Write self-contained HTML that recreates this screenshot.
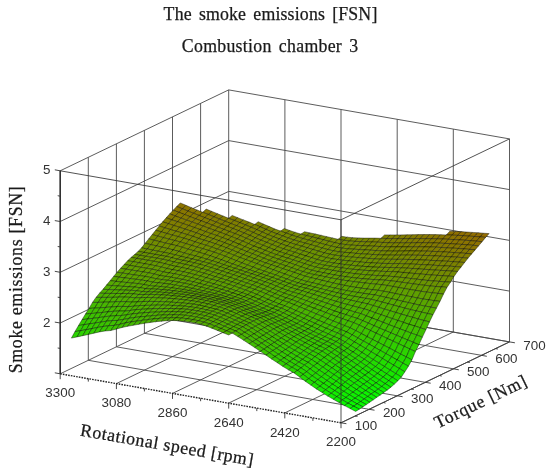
<!DOCTYPE html>
<html><head><meta charset="utf-8"><title>The smoke emissions [FSN]</title>
<style>html,body{margin:0;padding:0;background:#fff}svg{display:block;filter:blur(0.5px)}</style></head>
<body>
<svg width="550" height="476" viewBox="0 0 550 476">
<rect width="550" height="476" fill="#fff"/>
<path d="M60.2,373.8 L60.2,170.8 M88.3,360.3 L88.3,157.3 M116.4,346.8 L116.4,143.8 M144.4,333.3 L144.4,130.3 M172.5,319.8 L172.5,116.9 M200.6,306.3 L200.6,103.4 M228.7,292.9 L228.7,89.9 M60.2,373.8 L228.7,292.9 M60.2,323.0 L228.7,242.1 M60.2,272.3 L228.7,191.4 M60.2,221.5 L228.7,140.6 M60.2,170.8 L228.7,89.9 M284.9,302.6 L284.9,99.7 M341.0,312.5 L341.0,109.5 M397.2,322.2 L397.2,119.3 M453.3,332.0 L453.3,129.1 M509.5,341.9 L509.5,138.9 M228.7,292.9 L509.5,341.9 M228.7,242.1 L509.5,291.1 M228.7,191.4 L509.5,240.4 M228.7,140.6 L509.5,189.6 M228.7,89.9 L509.5,138.9 M88.3,360.3 L369.1,409.3 M116.4,346.8 L397.2,395.8 M144.4,333.3 L425.2,382.3 M172.5,319.8 L453.3,368.8 M200.6,306.3 L481.4,355.3 M228.7,292.9 L509.5,341.9 M116.4,383.6 L284.9,302.6 M172.5,393.4 L341.0,312.5 M228.7,403.1 L397.2,322.2 M284.8,412.9 L453.3,332.0 M341.0,422.8 L509.5,341.9" stroke="#4a4a4a" stroke-width="0.9" fill="none"/>
<g stroke="#000" stroke-width="1" stroke-opacity="0.4" stroke-linejoin="round"><path d="M176.7,206.5 L182.4,208.8 L185.9,205.3 L180.3,202.9Z" fill="#8c7300"/><path d="M173.2,210.2 L178.9,212.4 L182.4,208.8 L176.7,206.5Z" fill="#8a7500"/><path d="M169.7,213.9 L175.3,216.0 L178.9,212.4 L173.2,210.2Z" fill="#877800"/><path d="M166.2,217.8 L171.8,219.8 L175.3,216.0 L169.7,213.9Z" fill="#857a00"/><path d="M162.7,221.8 L168.3,223.7 L171.8,219.8 L166.2,217.8Z" fill="#827d00"/><path d="M159.2,226.0 L164.8,227.8 L168.3,223.7 L162.7,221.8Z" fill="#7f8000"/><path d="M155.7,230.3 L161.3,231.9 L164.8,227.8 L159.2,226.0Z" fill="#7c8300"/><path d="M152.2,234.6 L157.8,236.1 L161.3,231.9 L155.7,230.3Z" fill="#798600"/><path d="M148.7,238.9 L154.3,240.3 L157.8,236.1 L152.2,234.6Z" fill="#758a00"/><path d="M145.2,243.3 L150.8,244.6 L154.3,240.3 L148.7,238.9Z" fill="#728d00"/><path d="M141.6,247.8 L147.3,249.0 L150.8,244.6 L145.2,243.3Z" fill="#6f9000"/><path d="M138.1,251.4 L143.8,252.4 L147.3,249.0 L141.6,247.8Z" fill="#6c9300"/><path d="M134.6,254.5 L140.2,255.4 L143.8,252.4 L138.1,251.4Z" fill="#6a9500"/><path d="M131.1,257.4 L136.7,258.4 L140.2,255.4 L134.6,254.5Z" fill="#689700"/><path d="M127.6,260.8 L133.2,261.7 L136.7,258.4 L131.1,257.4Z" fill="#669900"/><path d="M124.1,264.5 L129.7,265.4 L133.2,261.7 L127.6,260.8Z" fill="#649b00"/><path d="M120.6,268.3 L126.2,269.2 L129.7,265.4 L124.1,264.5Z" fill="#619e00"/><path d="M117.1,272.3 L122.7,273.1 L126.2,269.2 L120.6,268.3Z" fill="#5fa000"/><path d="M113.6,276.4 L119.2,277.2 L122.7,273.1 L117.1,272.3Z" fill="#5ca300"/><path d="M110.1,280.7 L115.7,281.4 L119.2,277.2 L113.6,276.4Z" fill="#59a600"/><path d="M106.5,285.1 L112.2,285.6 L115.7,281.4 L110.1,280.7Z" fill="#55aa00"/><path d="M103.0,289.3 L108.6,289.6 L112.2,285.6 L106.5,285.1Z" fill="#52ad00"/><path d="M99.5,293.2 L105.1,293.4 L108.6,289.6 L103.0,289.3Z" fill="#4fb000"/><path d="M96.0,297.4 L101.6,297.4 L105.1,293.4 L99.5,293.2Z" fill="#4cb300"/><path d="M92.5,302.4 L98.1,302.4 L101.6,297.4 L96.0,297.4Z" fill="#49b600"/><path d="M89.0,308.4 L94.6,308.1 L98.1,302.4 L92.5,302.4Z" fill="#44bb00"/><path d="M85.5,314.0 L91.1,313.6 L94.6,308.1 L89.0,308.4Z" fill="#3fc000"/><path d="M82.0,319.7 L87.6,319.0 L91.1,313.6 L85.5,314.0Z" fill="#3ac500"/><path d="M78.5,325.6 L84.1,324.7 L87.6,319.0 L82.0,319.7Z" fill="#35ca00"/><path d="M74.9,331.7 L80.6,330.7 L84.1,324.7 L78.5,325.6Z" fill="#30cf00"/><path d="M71.4,338.1 L77.1,336.9 L80.6,330.7 L74.9,331.7Z" fill="#2ad500"/><path d="M182.4,208.8 L188.0,211.1 L191.5,207.7 L185.9,205.3Z" fill="#8a7500"/><path d="M178.9,212.4 L184.5,214.5 L188.0,211.1 L182.4,208.8Z" fill="#887700"/><path d="M175.3,216.0 L181.0,218.1 L184.5,214.5 L178.9,212.4Z" fill="#867900"/><path d="M171.8,219.8 L177.5,221.7 L181.0,218.1 L175.3,216.0Z" fill="#837c00"/><path d="M168.3,223.7 L173.9,225.5 L177.5,221.7 L171.8,219.8Z" fill="#817e00"/><path d="M164.8,227.8 L170.4,229.5 L173.9,225.5 L168.3,223.7Z" fill="#7e8100"/><path d="M161.3,231.9 L166.9,233.5 L170.4,229.5 L164.8,227.8Z" fill="#7b8400"/><path d="M157.8,236.1 L163.4,237.6 L166.9,233.5 L161.3,231.9Z" fill="#788700"/><path d="M154.3,240.3 L159.9,241.7 L163.4,237.6 L157.8,236.1Z" fill="#758a00"/><path d="M150.8,244.6 L156.4,245.9 L159.9,241.7 L154.3,240.3Z" fill="#728d00"/><path d="M147.3,249.0 L152.9,250.2 L156.4,245.9 L150.8,244.6Z" fill="#6e9100"/><path d="M143.8,252.4 L149.4,253.4 L152.9,250.2 L147.3,249.0Z" fill="#6c9300"/><path d="M140.2,255.4 L145.9,256.3 L149.4,253.4 L143.8,252.4Z" fill="#6a9500"/><path d="M136.7,258.4 L142.3,259.3 L145.9,256.3 L140.2,255.4Z" fill="#689700"/><path d="M133.2,261.7 L138.8,262.7 L142.3,259.3 L136.7,258.4Z" fill="#669900"/><path d="M129.7,265.4 L135.3,266.4 L138.8,262.7 L133.2,261.7Z" fill="#649b00"/><path d="M126.2,269.2 L131.8,270.1 L135.3,266.4 L129.7,265.4Z" fill="#619e00"/><path d="M122.7,273.1 L128.3,274.0 L131.8,270.1 L126.2,269.2Z" fill="#5fa000"/><path d="M119.2,277.2 L124.8,277.9 L128.3,274.0 L122.7,273.1Z" fill="#5ca300"/><path d="M115.7,281.4 L121.3,282.0 L124.8,277.9 L119.2,277.2Z" fill="#59a600"/><path d="M112.2,285.6 L117.8,286.0 L121.3,282.0 L115.7,281.4Z" fill="#56a900"/><path d="M108.6,289.6 L114.3,289.8 L117.8,286.0 L112.2,285.6Z" fill="#53ac00"/><path d="M105.1,293.4 L110.8,293.4 L114.3,289.8 L108.6,289.6Z" fill="#50af00"/><path d="M101.6,297.4 L107.2,297.4 L110.8,293.4 L105.1,293.4Z" fill="#4eb100"/><path d="M98.1,302.4 L103.7,302.2 L107.2,297.4 L101.6,297.4Z" fill="#4ab500"/><path d="M94.6,308.1 L100.2,307.8 L103.7,302.2 L98.1,302.4Z" fill="#46b900"/><path d="M91.1,313.6 L96.7,313.0 L100.2,307.8 L94.6,308.1Z" fill="#41be00"/><path d="M87.6,319.0 L93.2,318.3 L96.7,313.0 L91.1,313.6Z" fill="#3cc300"/><path d="M84.1,324.7 L89.7,323.9 L93.2,318.3 L87.6,319.0Z" fill="#37c800"/><path d="M80.6,330.7 L86.2,329.7 L89.7,323.9 L84.1,324.7Z" fill="#32cd00"/><path d="M77.1,336.9 L82.7,335.7 L86.2,329.7 L80.6,330.7Z" fill="#2dd200"/><path d="M188.0,211.1 L193.6,213.3 L197.1,210.0 L191.5,207.7Z" fill="#897600"/><path d="M184.5,214.5 L190.1,216.7 L193.6,213.3 L188.0,211.1Z" fill="#877800"/><path d="M181.0,218.1 L186.6,220.1 L190.1,216.7 L184.5,214.5Z" fill="#847b00"/><path d="M177.5,221.7 L183.1,223.6 L186.6,220.1 L181.0,218.1Z" fill="#827d00"/><path d="M173.9,225.5 L179.6,227.3 L183.1,223.6 L177.5,221.7Z" fill="#807f00"/><path d="M170.4,229.5 L176.0,231.2 L179.6,227.3 L173.9,225.5Z" fill="#7d8200"/><path d="M166.9,233.5 L172.5,235.1 L176.0,231.2 L170.4,229.5Z" fill="#7a8500"/><path d="M163.4,237.6 L169.0,239.1 L172.5,235.1 L166.9,233.5Z" fill="#778800"/><path d="M159.9,241.7 L165.5,243.1 L169.0,239.1 L163.4,237.6Z" fill="#748b00"/><path d="M156.4,245.9 L162.0,247.2 L165.5,243.1 L159.9,241.7Z" fill="#718e00"/><path d="M152.9,250.2 L158.5,251.3 L162.0,247.2 L156.4,245.9Z" fill="#6e9100"/><path d="M149.4,253.4 L155.0,254.4 L158.5,251.3 L152.9,250.2Z" fill="#6c9300"/><path d="M145.9,256.3 L151.5,257.3 L155.0,254.4 L149.4,253.4Z" fill="#6a9500"/><path d="M142.3,259.3 L148.0,260.3 L151.5,257.3 L145.9,256.3Z" fill="#689700"/><path d="M138.8,262.7 L144.5,263.7 L148.0,260.3 L142.3,259.3Z" fill="#669900"/><path d="M135.3,266.4 L140.9,267.3 L144.5,263.7 L138.8,262.7Z" fill="#649b00"/><path d="M131.8,270.1 L137.4,271.0 L140.9,267.3 L135.3,266.4Z" fill="#629d00"/><path d="M128.3,274.0 L133.9,274.8 L137.4,271.0 L131.8,270.1Z" fill="#5fa000"/><path d="M124.8,277.9 L130.4,278.6 L133.9,274.8 L128.3,274.0Z" fill="#5ca300"/><path d="M121.3,282.0 L126.9,282.5 L130.4,278.6 L124.8,277.9Z" fill="#59a600"/><path d="M117.8,286.0 L123.4,286.4 L126.9,282.5 L121.3,282.0Z" fill="#57a800"/><path d="M114.3,289.8 L119.9,290.0 L123.4,286.4 L117.8,286.0Z" fill="#54ab00"/><path d="M110.8,293.4 L116.4,293.5 L119.9,290.0 L114.3,289.8Z" fill="#51ae00"/><path d="M107.2,297.4 L112.9,297.3 L116.4,293.5 L110.8,293.4Z" fill="#4fb000"/><path d="M103.7,302.2 L109.3,302.1 L112.9,297.3 L107.2,297.4Z" fill="#4cb300"/><path d="M100.2,307.8 L105.8,307.4 L109.3,302.1 L103.7,302.2Z" fill="#47b800"/><path d="M96.7,313.0 L102.3,312.5 L105.8,307.4 L100.2,307.8Z" fill="#43bc00"/><path d="M93.2,318.3 L98.8,317.6 L102.3,312.5 L96.7,313.0Z" fill="#3ec100"/><path d="M89.7,323.9 L95.3,323.0 L98.8,317.6 L93.2,318.3Z" fill="#3ac500"/><path d="M86.2,329.7 L91.8,328.7 L95.3,323.0 L89.7,323.9Z" fill="#35ca00"/><path d="M82.7,335.7 L88.3,334.5 L91.8,328.7 L86.2,329.7Z" fill="#30cf00"/><path d="M193.6,213.3 L199.2,215.5 L202.7,212.3 L197.1,210.0Z" fill="#877800"/><path d="M190.1,216.7 L195.7,218.8 L199.2,215.5 L193.6,213.3Z" fill="#857a00"/><path d="M186.6,220.1 L192.2,222.1 L195.7,218.8 L190.1,216.7Z" fill="#837c00"/><path d="M183.1,223.6 L188.7,225.5 L192.2,222.1 L186.6,220.1Z" fill="#817e00"/><path d="M179.6,227.3 L185.2,229.2 L188.7,225.5 L183.1,223.6Z" fill="#7f8000"/><path d="M176.0,231.2 L181.7,232.9 L185.2,229.2 L179.6,227.3Z" fill="#7c8300"/><path d="M172.5,235.1 L178.2,236.6 L181.7,232.9 L176.0,231.2Z" fill="#798600"/><path d="M169.0,239.1 L174.6,240.5 L178.2,236.6 L172.5,235.1Z" fill="#778800"/><path d="M165.5,243.1 L171.1,244.4 L174.6,240.5 L169.0,239.1Z" fill="#748b00"/><path d="M162.0,247.2 L167.6,248.5 L171.1,244.4 L165.5,243.1Z" fill="#718e00"/><path d="M158.5,251.3 L164.1,252.4 L167.6,248.5 L162.0,247.2Z" fill="#6e9100"/><path d="M155.0,254.4 L160.6,255.4 L164.1,252.4 L158.5,251.3Z" fill="#6b9400"/><path d="M151.5,257.3 L157.1,258.2 L160.6,255.4 L155.0,254.4Z" fill="#6a9500"/><path d="M148.0,260.3 L153.6,261.3 L157.1,258.2 L151.5,257.3Z" fill="#689700"/><path d="M144.5,263.7 L150.1,264.7 L153.6,261.3 L148.0,260.3Z" fill="#669900"/><path d="M140.9,267.3 L146.6,268.3 L150.1,264.7 L144.5,263.7Z" fill="#649b00"/><path d="M137.4,271.0 L143.0,271.9 L146.6,268.3 L140.9,267.3Z" fill="#629d00"/><path d="M133.9,274.8 L139.5,275.6 L143.0,271.9 L137.4,271.0Z" fill="#5fa000"/><path d="M130.4,278.6 L136.0,279.3 L139.5,275.6 L133.9,274.8Z" fill="#5da200"/><path d="M126.9,282.5 L132.5,283.1 L136.0,279.3 L130.4,278.6Z" fill="#5aa500"/><path d="M123.4,286.4 L129.0,286.7 L132.5,283.1 L126.9,282.5Z" fill="#57a800"/><path d="M119.9,290.0 L125.5,290.2 L129.0,286.7 L123.4,286.4Z" fill="#55aa00"/><path d="M116.4,293.5 L122.0,293.5 L125.5,290.2 L119.9,290.0Z" fill="#52ad00"/><path d="M112.9,297.3 L118.5,297.2 L122.0,293.5 L116.4,293.5Z" fill="#50af00"/><path d="M109.3,302.1 L115.0,301.8 L118.5,297.2 L112.9,297.3Z" fill="#4db200"/><path d="M105.8,307.4 L111.5,307.0 L115.0,301.8 L109.3,302.1Z" fill="#49b600"/><path d="M102.3,312.5 L107.9,311.9 L111.5,307.0 L105.8,307.4Z" fill="#44bb00"/><path d="M98.8,317.6 L104.4,316.8 L107.9,311.9 L102.3,312.5Z" fill="#40bf00"/><path d="M95.3,323.0 L100.9,322.1 L104.4,316.8 L98.8,317.6Z" fill="#3cc300"/><path d="M91.8,328.7 L97.4,327.5 L100.9,322.1 L95.3,323.0Z" fill="#37c800"/><path d="M88.3,334.5 L93.9,333.2 L97.4,327.5 L91.8,328.7Z" fill="#32cd00"/><path d="M202.7,212.3 L208.3,214.5 L211.9,211.4 L206.2,209.1Z" fill="#877800"/><path d="M199.2,215.5 L204.8,217.7 L208.3,214.5 L202.7,212.3Z" fill="#867900"/><path d="M195.7,218.8 L201.3,220.9 L204.8,217.7 L199.2,215.5Z" fill="#847b00"/><path d="M192.2,222.1 L197.8,224.1 L201.3,220.9 L195.7,218.8Z" fill="#827d00"/><path d="M188.7,225.5 L194.3,227.5 L197.8,224.1 L192.2,222.1Z" fill="#807f00"/><path d="M185.2,229.2 L190.8,231.0 L194.3,227.5 L188.7,225.5Z" fill="#7d8200"/><path d="M181.7,232.9 L187.3,234.6 L190.8,231.0 L185.2,229.2Z" fill="#7b8400"/><path d="M178.2,236.6 L183.8,238.2 L187.3,234.6 L181.7,232.9Z" fill="#788700"/><path d="M174.6,240.5 L180.3,242.0 L183.8,238.2 L178.2,236.6Z" fill="#768900"/><path d="M171.1,244.4 L176.7,245.7 L180.3,242.0 L174.6,240.5Z" fill="#738c00"/><path d="M167.6,248.5 L173.2,249.9 L176.7,245.7 L171.1,244.4Z" fill="#708f00"/><path d="M164.1,252.4 L169.7,253.5 L173.2,249.9 L167.6,248.5Z" fill="#6d9200"/><path d="M160.6,255.4 L166.2,256.4 L169.7,253.5 L164.1,252.4Z" fill="#6b9400"/><path d="M157.1,258.2 L162.7,259.3 L166.2,256.4 L160.6,255.4Z" fill="#6a9500"/><path d="M153.6,261.3 L159.2,262.4 L162.7,259.3 L157.1,258.2Z" fill="#689700"/><path d="M150.1,264.7 L155.7,265.8 L159.2,262.4 L153.6,261.3Z" fill="#669900"/><path d="M146.6,268.3 L152.2,269.2 L155.7,265.8 L150.1,264.7Z" fill="#649b00"/><path d="M143.0,271.9 L148.7,272.8 L152.2,269.2 L146.6,268.3Z" fill="#629d00"/><path d="M139.5,275.6 L145.2,276.4 L148.7,272.8 L143.0,271.9Z" fill="#5fa000"/><path d="M136.0,279.3 L141.6,280.0 L145.2,276.4 L139.5,275.6Z" fill="#5da200"/><path d="M132.5,283.1 L138.1,283.6 L141.6,280.0 L136.0,279.3Z" fill="#5aa500"/><path d="M129.0,286.7 L134.6,287.1 L138.1,283.6 L132.5,283.1Z" fill="#58a700"/><path d="M125.5,290.2 L131.1,290.3 L134.6,287.1 L129.0,286.7Z" fill="#56a900"/><path d="M122.0,293.5 L127.6,293.5 L131.1,290.3 L125.5,290.2Z" fill="#54ab00"/><path d="M118.5,297.2 L124.1,297.1 L127.6,293.5 L122.0,293.5Z" fill="#51ae00"/><path d="M115.0,301.8 L120.6,301.6 L124.1,297.1 L118.5,297.2Z" fill="#4eb100"/><path d="M111.5,307.0 L117.1,306.5 L120.6,301.6 L115.0,301.8Z" fill="#4ab500"/><path d="M107.9,311.9 L113.6,311.3 L117.1,306.5 L111.5,307.0Z" fill="#46b900"/><path d="M104.4,316.8 L110.1,316.1 L113.6,311.3 L107.9,311.9Z" fill="#42bd00"/><path d="M100.9,322.1 L106.5,321.2 L110.1,316.1 L104.4,316.8Z" fill="#3ec100"/><path d="M97.4,327.5 L103.0,326.5 L106.5,321.2 L100.9,322.1Z" fill="#3ac500"/><path d="M93.9,333.2 L99.5,331.9 L103.0,326.5 L97.4,327.5Z" fill="#35ca00"/><path d="M208.3,214.5 L214.0,216.8 L217.5,213.7 L211.9,211.4Z" fill="#867900"/><path d="M204.8,217.7 L210.4,219.9 L214.0,216.8 L208.3,214.5Z" fill="#847b00"/><path d="M201.3,220.9 L206.9,223.0 L210.4,219.9 L204.8,217.7Z" fill="#827d00"/><path d="M197.8,224.1 L203.4,226.2 L206.9,223.0 L201.3,220.9Z" fill="#807f00"/><path d="M194.3,227.5 L199.9,229.5 L203.4,226.2 L197.8,224.1Z" fill="#7e8100"/><path d="M190.8,231.0 L196.4,232.9 L199.9,229.5 L194.3,227.5Z" fill="#7c8300"/><path d="M187.3,234.6 L192.9,236.4 L196.4,232.9 L190.8,231.0Z" fill="#7a8500"/><path d="M183.8,238.2 L189.4,239.9 L192.9,236.4 L187.3,234.6Z" fill="#788700"/><path d="M180.3,242.0 L185.9,243.6 L189.4,239.9 L183.8,238.2Z" fill="#758a00"/><path d="M176.7,245.7 L182.4,247.3 L185.9,243.6 L180.3,242.0Z" fill="#738c00"/><path d="M173.2,249.9 L178.9,251.4 L182.4,247.3 L176.7,245.7Z" fill="#708f00"/><path d="M169.7,253.5 L175.3,254.8 L178.9,251.4 L173.2,249.9Z" fill="#6d9200"/><path d="M166.2,256.4 L171.8,257.7 L175.3,254.8 L169.7,253.5Z" fill="#6b9400"/><path d="M162.7,259.3 L168.3,260.5 L171.8,257.7 L166.2,256.4Z" fill="#6a9500"/><path d="M159.2,262.4 L164.8,263.7 L168.3,260.5 L162.7,259.3Z" fill="#689700"/><path d="M155.7,265.8 L161.3,267.0 L164.8,263.7 L159.2,262.4Z" fill="#669900"/><path d="M152.2,269.2 L157.8,270.5 L161.3,267.0 L155.7,265.8Z" fill="#649b00"/><path d="M148.7,272.8 L154.3,274.0 L157.8,270.5 L152.2,269.2Z" fill="#629d00"/><path d="M145.2,276.4 L150.8,277.5 L154.3,274.0 L148.7,272.8Z" fill="#5fa000"/><path d="M141.6,280.0 L147.3,281.0 L150.8,277.5 L145.2,276.4Z" fill="#5da200"/><path d="M138.1,283.6 L143.7,284.5 L147.3,281.0 L141.6,280.0Z" fill="#5ba400"/><path d="M134.6,287.1 L140.2,287.7 L143.7,284.5 L138.1,283.6Z" fill="#58a700"/><path d="M131.1,290.3 L136.7,290.8 L140.2,287.7 L134.6,287.1Z" fill="#56a900"/><path d="M127.6,293.5 L133.2,293.9 L136.7,290.8 L131.1,290.3Z" fill="#55aa00"/><path d="M124.1,297.1 L129.7,297.3 L133.2,293.9 L127.6,293.5Z" fill="#53ac00"/><path d="M120.6,301.6 L126.2,301.7 L129.7,297.3 L124.1,297.1Z" fill="#50af00"/><path d="M117.1,306.5 L122.7,306.4 L126.2,301.7 L120.6,301.6Z" fill="#4cb300"/><path d="M113.6,311.3 L119.2,311.0 L122.7,306.4 L117.1,306.5Z" fill="#48b700"/><path d="M110.1,316.1 L115.7,315.7 L119.2,311.0 L113.6,311.3Z" fill="#44bb00"/><path d="M106.5,321.2 L112.2,320.6 L115.7,315.7 L110.1,316.1Z" fill="#40bf00"/><path d="M103.0,326.5 L108.6,325.8 L112.2,320.6 L106.5,321.2Z" fill="#3cc300"/><path d="M99.5,331.9 L105.1,331.0 L108.6,325.8 L103.0,326.5Z" fill="#37c800"/><path d="M214.0,216.8 L219.6,219.1 L223.1,216.0 L217.5,213.7Z" fill="#847b00"/><path d="M210.4,219.9 L216.1,222.1 L219.6,219.1 L214.0,216.8Z" fill="#827d00"/><path d="M206.9,223.0 L212.6,225.2 L216.1,222.1 L210.4,219.9Z" fill="#817e00"/><path d="M203.4,226.2 L209.0,228.3 L212.6,225.2 L206.9,223.0Z" fill="#7f8000"/><path d="M199.9,229.5 L205.5,231.6 L209.0,228.3 L203.4,226.2Z" fill="#7d8200"/><path d="M196.4,232.9 L202.0,235.0 L205.5,231.6 L199.9,229.5Z" fill="#7b8400"/><path d="M192.9,236.4 L198.5,238.4 L202.0,235.0 L196.4,232.9Z" fill="#798600"/><path d="M189.4,239.9 L195.0,241.9 L198.5,238.4 L192.9,236.4Z" fill="#768900"/><path d="M185.9,243.6 L191.5,245.4 L195.0,241.9 L189.4,239.9Z" fill="#748b00"/><path d="M182.4,247.3 L188.0,249.1 L191.5,245.4 L185.9,243.6Z" fill="#728d00"/><path d="M178.9,251.4 L184.5,253.1 L188.0,249.1 L182.4,247.3Z" fill="#6f9000"/><path d="M175.3,254.8 L181.0,256.4 L184.5,253.1 L178.9,251.4Z" fill="#6c9300"/><path d="M171.8,257.7 L177.4,259.2 L181.0,256.4 L175.3,254.8Z" fill="#6b9400"/><path d="M168.3,260.5 L173.9,262.0 L177.4,259.2 L171.8,257.7Z" fill="#699600"/><path d="M164.8,263.7 L170.4,265.2 L173.9,262.0 L168.3,260.5Z" fill="#679800"/><path d="M161.3,267.0 L166.9,268.5 L170.4,265.2 L164.8,263.7Z" fill="#669900"/><path d="M157.8,270.5 L163.4,271.9 L166.9,268.5 L161.3,267.0Z" fill="#639c00"/><path d="M154.3,274.0 L159.9,275.5 L163.4,271.9 L157.8,270.5Z" fill="#619e00"/><path d="M150.8,277.5 L156.4,278.8 L159.9,275.5 L154.3,274.0Z" fill="#5fa000"/><path d="M147.3,281.0 L152.9,282.2 L156.4,278.8 L150.8,277.5Z" fill="#5da200"/><path d="M143.7,284.5 L149.4,285.6 L152.9,282.2 L147.3,281.0Z" fill="#5ba400"/><path d="M140.2,287.7 L145.9,288.7 L149.4,285.6 L143.7,284.5Z" fill="#58a700"/><path d="M136.7,290.8 L142.3,291.6 L145.9,288.7 L140.2,287.7Z" fill="#57a800"/><path d="M133.2,293.9 L138.8,294.5 L142.3,291.6 L136.7,290.8Z" fill="#55aa00"/><path d="M129.7,297.3 L135.3,297.8 L138.8,294.5 L133.2,293.9Z" fill="#53ac00"/><path d="M126.2,301.7 L131.8,302.1 L135.3,297.8 L129.7,297.3Z" fill="#50af00"/><path d="M122.7,306.4 L128.3,306.7 L131.8,302.1 L126.2,301.7Z" fill="#4db200"/><path d="M119.2,311.0 L124.8,311.1 L128.3,306.7 L122.7,306.4Z" fill="#49b600"/><path d="M115.7,315.7 L121.3,315.6 L124.8,311.1 L119.2,311.0Z" fill="#46b900"/><path d="M112.2,320.6 L117.8,320.4 L121.3,315.6 L115.7,315.7Z" fill="#42bd00"/><path d="M108.6,325.8 L114.3,325.4 L117.8,320.4 L112.2,320.6Z" fill="#3ec100"/><path d="M105.1,331.0 L110.8,330.5 L114.3,325.4 L108.6,325.8Z" fill="#39c600"/><path d="M219.6,219.1 L225.2,221.3 L228.7,218.3 L223.1,216.0Z" fill="#837c00"/><path d="M216.1,222.1 L221.7,224.3 L225.2,221.3 L219.6,219.1Z" fill="#817e00"/><path d="M212.6,225.2 L218.2,227.3 L221.7,224.3 L216.1,222.1Z" fill="#7f8000"/><path d="M209.0,228.3 L214.7,230.4 L218.2,227.3 L212.6,225.2Z" fill="#7d8200"/><path d="M205.5,231.6 L211.1,233.6 L214.7,230.4 L209.0,228.3Z" fill="#7c8300"/><path d="M202.0,235.0 L207.6,236.9 L211.1,233.6 L205.5,231.6Z" fill="#7a8500"/><path d="M198.5,238.4 L204.1,240.2 L207.6,236.9 L202.0,235.0Z" fill="#788700"/><path d="M195.0,241.9 L200.6,243.6 L204.1,240.2 L198.5,238.4Z" fill="#758a00"/><path d="M191.5,245.4 L197.1,247.1 L200.6,243.6 L195.0,241.9Z" fill="#738c00"/><path d="M188.0,249.1 L193.6,250.7 L197.1,247.1 L191.5,245.4Z" fill="#718e00"/><path d="M184.5,253.1 L190.1,254.6 L193.6,250.7 L188.0,249.1Z" fill="#6e9100"/><path d="M181.0,256.4 L186.6,257.7 L190.1,254.6 L184.5,253.1Z" fill="#6c9300"/><path d="M177.4,259.2 L183.1,260.4 L186.6,257.7 L181.0,256.4Z" fill="#6a9500"/><path d="M173.9,262.0 L179.6,263.2 L183.1,260.4 L177.4,259.2Z" fill="#699600"/><path d="M170.4,265.2 L176.0,266.4 L179.6,263.2 L173.9,262.0Z" fill="#679800"/><path d="M166.9,268.5 L172.5,269.7 L176.0,266.4 L170.4,265.2Z" fill="#659a00"/><path d="M163.4,271.9 L169.0,272.9 L172.5,269.7 L166.9,268.5Z" fill="#639c00"/><path d="M159.9,275.5 L165.5,276.4 L169.0,272.9 L163.4,271.9Z" fill="#619e00"/><path d="M156.4,278.8 L162.0,279.6 L165.5,276.4 L159.9,275.5Z" fill="#5fa000"/><path d="M152.9,282.2 L158.5,282.9 L162.0,279.6 L156.4,278.8Z" fill="#5da200"/><path d="M149.4,285.6 L155.0,286.1 L158.5,282.9 L152.9,282.2Z" fill="#5ba400"/><path d="M145.9,288.7 L151.5,289.0 L155.0,286.1 L149.4,285.6Z" fill="#59a600"/><path d="M142.3,291.6 L148.0,291.8 L151.5,289.0 L145.9,288.7Z" fill="#57a800"/><path d="M138.8,294.5 L144.4,294.5 L148.0,291.8 L142.3,291.6Z" fill="#56a900"/><path d="M135.3,297.8 L140.9,297.7 L144.4,294.5 L138.8,294.5Z" fill="#54ab00"/><path d="M131.8,302.1 L137.4,301.9 L140.9,297.7 L135.3,297.8Z" fill="#51ae00"/><path d="M128.3,306.7 L133.9,306.2 L137.4,301.9 L131.8,302.1Z" fill="#4eb100"/><path d="M124.8,311.1 L130.4,310.5 L133.9,306.2 L128.3,306.7Z" fill="#4bb400"/><path d="M121.3,315.6 L126.9,314.8 L130.4,310.5 L124.8,311.1Z" fill="#47b800"/><path d="M117.8,320.4 L123.4,319.5 L126.9,314.8 L121.3,315.6Z" fill="#44bb00"/><path d="M114.3,325.4 L119.9,324.3 L123.4,319.5 L117.8,320.4Z" fill="#40bf00"/><path d="M110.8,330.5 L116.4,329.1 L119.9,324.3 L114.3,325.4Z" fill="#3cc300"/><path d="M228.7,218.3 L234.3,220.5 L237.8,217.7 L232.2,215.4Z" fill="#837c00"/><path d="M225.2,221.3 L230.8,223.5 L234.3,220.5 L228.7,218.3Z" fill="#817e00"/><path d="M221.7,224.3 L227.3,226.4 L230.8,223.5 L225.2,221.3Z" fill="#7f8000"/><path d="M218.2,227.3 L223.8,229.4 L227.3,226.4 L221.7,224.3Z" fill="#7e8100"/><path d="M214.7,230.4 L220.3,232.4 L223.8,229.4 L218.2,227.3Z" fill="#7c8300"/><path d="M211.1,233.6 L216.8,235.5 L220.3,232.4 L214.7,230.4Z" fill="#7a8500"/><path d="M207.6,236.9 L213.3,238.7 L216.8,235.5 L211.1,233.6Z" fill="#788700"/><path d="M204.1,240.2 L209.7,241.9 L213.3,238.7 L207.6,236.9Z" fill="#768900"/><path d="M200.6,243.6 L206.2,245.3 L209.7,241.9 L204.1,240.2Z" fill="#748b00"/><path d="M197.1,247.1 L202.7,248.6 L206.2,245.3 L200.6,243.6Z" fill="#728d00"/><path d="M193.6,250.7 L199.2,252.3 L202.7,248.6 L197.1,247.1Z" fill="#708f00"/><path d="M190.1,254.6 L195.7,256.0 L199.2,252.3 L193.6,250.7Z" fill="#6d9200"/><path d="M186.6,257.7 L192.2,258.9 L195.7,256.0 L190.1,254.6Z" fill="#6b9400"/><path d="M183.1,260.4 L188.7,261.5 L192.2,258.9 L186.6,257.7Z" fill="#6a9500"/><path d="M179.6,263.2 L185.2,264.4 L188.7,261.5 L183.1,260.4Z" fill="#689700"/><path d="M176.0,266.4 L181.7,267.5 L185.2,264.4 L179.6,263.2Z" fill="#679800"/><path d="M172.5,269.7 L178.1,270.7 L181.7,267.5 L176.0,266.4Z" fill="#659a00"/><path d="M169.0,272.9 L174.6,273.8 L178.1,270.7 L172.5,269.7Z" fill="#639c00"/><path d="M165.5,276.4 L171.1,277.2 L174.6,273.8 L169.0,272.9Z" fill="#619e00"/><path d="M162.0,279.6 L167.6,280.3 L171.1,277.2 L165.5,276.4Z" fill="#5fa000"/><path d="M158.5,282.9 L164.1,283.4 L167.6,280.3 L162.0,279.6Z" fill="#5da200"/><path d="M155.0,286.1 L160.6,286.5 L164.1,283.4 L158.5,282.9Z" fill="#5ba400"/><path d="M151.5,289.0 L157.1,289.2 L160.6,286.5 L155.0,286.1Z" fill="#5aa500"/><path d="M148.0,291.8 L153.6,291.8 L157.1,289.2 L151.5,289.0Z" fill="#58a700"/><path d="M144.4,294.5 L150.1,294.4 L153.6,291.8 L148.0,291.8Z" fill="#57a800"/><path d="M140.9,297.7 L146.6,297.5 L150.1,294.4 L144.4,294.5Z" fill="#55aa00"/><path d="M137.4,301.9 L143.0,301.5 L146.6,297.5 L140.9,297.7Z" fill="#53ac00"/><path d="M133.9,306.2 L139.5,305.6 L143.0,301.5 L137.4,301.9Z" fill="#50af00"/><path d="M130.4,310.5 L136.0,309.7 L139.5,305.6 L133.9,306.2Z" fill="#4db200"/><path d="M126.9,314.8 L132.5,313.9 L136.0,309.7 L130.4,310.5Z" fill="#4ab500"/><path d="M123.4,319.5 L129.0,318.3 L132.5,313.9 L126.9,314.8Z" fill="#46b900"/><path d="M119.9,324.3 L125.5,322.9 L129.0,318.3 L123.4,319.5Z" fill="#42bd00"/><path d="M116.4,329.1 L122.0,327.5 L125.5,322.9 L119.9,324.3Z" fill="#3fc000"/><path d="M234.3,220.5 L239.9,222.7 L243.4,219.9 L237.8,217.7Z" fill="#817e00"/><path d="M230.8,223.5 L236.4,225.6 L239.9,222.7 L234.3,220.5Z" fill="#807f00"/><path d="M227.3,226.4 L232.9,228.5 L236.4,225.6 L230.8,223.5Z" fill="#7e8100"/><path d="M223.8,229.4 L229.4,231.5 L232.9,228.5 L227.3,226.4Z" fill="#7c8300"/><path d="M220.3,232.4 L225.9,234.5 L229.4,231.5 L223.8,229.4Z" fill="#7b8400"/><path d="M216.8,235.5 L222.4,237.6 L225.9,234.5 L220.3,232.4Z" fill="#798600"/><path d="M213.3,238.7 L218.9,240.7 L222.4,237.6 L216.8,235.5Z" fill="#778800"/><path d="M209.7,241.9 L215.4,243.8 L218.9,240.7 L213.3,238.7Z" fill="#758a00"/><path d="M206.2,245.3 L211.8,247.1 L215.4,243.8 L209.7,241.9Z" fill="#738c00"/><path d="M202.7,248.6 L208.3,250.4 L211.8,247.1 L206.2,245.3Z" fill="#718e00"/><path d="M199.2,252.3 L204.8,254.1 L208.3,250.4 L202.7,248.6Z" fill="#6f9000"/><path d="M195.7,256.0 L201.3,257.5 L204.8,254.1 L199.2,252.3Z" fill="#6d9200"/><path d="M192.2,258.9 L197.8,260.3 L201.3,257.5 L195.7,256.0Z" fill="#6b9400"/><path d="M188.7,261.5 L194.3,262.8 L197.8,260.3 L192.2,258.9Z" fill="#699600"/><path d="M185.2,264.4 L190.8,265.7 L194.3,262.8 L188.7,261.5Z" fill="#689700"/><path d="M181.7,267.5 L187.3,268.7 L190.8,265.7 L185.2,264.4Z" fill="#679800"/><path d="M178.1,270.7 L183.8,271.9 L187.3,268.7 L181.7,267.5Z" fill="#659a00"/><path d="M174.6,273.8 L180.3,275.0 L183.8,271.9 L178.1,270.7Z" fill="#639c00"/><path d="M171.1,277.2 L176.7,278.3 L180.3,275.0 L174.6,273.8Z" fill="#619e00"/><path d="M167.6,280.3 L173.2,281.2 L176.7,278.3 L171.1,277.2Z" fill="#5fa000"/><path d="M164.1,283.4 L169.7,284.2 L173.2,281.2 L167.6,280.3Z" fill="#5da200"/><path d="M160.6,286.5 L166.2,287.1 L169.7,284.2 L164.1,283.4Z" fill="#5ca300"/><path d="M157.1,289.2 L162.7,289.7 L166.2,287.1 L160.6,286.5Z" fill="#5aa500"/><path d="M153.6,291.8 L159.2,292.1 L162.7,289.7 L157.1,289.2Z" fill="#59a600"/><path d="M150.1,294.4 L155.7,294.6 L159.2,292.1 L153.6,291.8Z" fill="#58a700"/><path d="M146.6,297.5 L152.2,297.6 L155.7,294.6 L150.1,294.4Z" fill="#57a800"/><path d="M143.0,301.5 L148.7,301.4 L152.2,297.6 L146.6,297.5Z" fill="#54ab00"/><path d="M139.5,305.6 L145.2,305.4 L148.7,301.4 L143.0,301.5Z" fill="#52ad00"/><path d="M136.0,309.7 L141.6,309.3 L145.2,305.4 L139.5,305.6Z" fill="#4fb000"/><path d="M132.5,313.9 L138.1,313.3 L141.6,309.3 L136.0,309.7Z" fill="#4cb300"/><path d="M129.0,318.3 L134.6,317.5 L138.1,313.3 L132.5,313.9Z" fill="#49b600"/><path d="M125.5,322.9 L131.1,321.9 L134.6,317.5 L129.0,318.3Z" fill="#45ba00"/><path d="M122.0,327.5 L127.6,326.3 L131.1,321.9 L125.5,322.9Z" fill="#42bd00"/><path d="M239.9,222.7 L245.5,225.0 L249.1,222.1 L243.4,219.9Z" fill="#7f8000"/><path d="M236.4,225.6 L242.0,227.8 L245.5,225.0 L239.9,222.7Z" fill="#7e8100"/><path d="M232.9,228.5 L238.5,230.7 L242.0,227.8 L236.4,225.6Z" fill="#7c8300"/><path d="M229.4,231.5 L235.0,233.6 L238.5,230.7 L232.9,228.5Z" fill="#7b8400"/><path d="M225.9,234.5 L231.5,236.6 L235.0,233.6 L229.4,231.5Z" fill="#798600"/><path d="M222.4,237.6 L228.0,239.7 L231.5,236.6 L225.9,234.5Z" fill="#788700"/><path d="M218.9,240.7 L224.5,242.7 L228.0,239.7 L222.4,237.6Z" fill="#768900"/><path d="M215.4,243.8 L221.0,245.8 L224.5,242.7 L218.9,240.7Z" fill="#748b00"/><path d="M211.8,247.1 L217.5,249.1 L221.0,245.8 L215.4,243.8Z" fill="#728d00"/><path d="M208.3,250.4 L214.0,252.2 L217.5,249.1 L211.8,247.1Z" fill="#708f00"/><path d="M204.8,254.1 L210.4,255.9 L214.0,252.2 L208.3,250.4Z" fill="#6e9100"/><path d="M201.3,257.5 L206.9,259.2 L210.4,255.9 L204.8,254.1Z" fill="#6c9300"/><path d="M197.8,260.3 L203.4,261.8 L206.9,259.2 L201.3,257.5Z" fill="#6a9500"/><path d="M194.3,262.8 L199.9,264.3 L203.4,261.8 L197.8,260.3Z" fill="#699600"/><path d="M190.8,265.7 L196.4,267.1 L199.9,264.3 L194.3,262.8Z" fill="#689700"/><path d="M187.3,268.7 L192.9,270.1 L196.4,267.1 L190.8,265.7Z" fill="#669900"/><path d="M183.8,271.9 L189.4,273.2 L192.9,270.1 L187.3,268.7Z" fill="#649b00"/><path d="M180.3,275.0 L185.9,276.2 L189.4,273.2 L183.8,271.9Z" fill="#639c00"/><path d="M176.7,278.3 L182.4,279.4 L185.9,276.2 L180.3,275.0Z" fill="#619e00"/><path d="M173.2,281.2 L178.8,282.2 L182.4,279.4 L176.7,278.3Z" fill="#5fa000"/><path d="M169.7,284.2 L175.3,285.1 L178.8,282.2 L173.2,281.2Z" fill="#5da200"/><path d="M166.2,287.1 L171.8,287.8 L175.3,285.1 L169.7,284.2Z" fill="#5ca300"/><path d="M162.7,289.7 L168.3,290.2 L171.8,287.8 L166.2,287.1Z" fill="#5ba400"/><path d="M159.2,292.1 L164.8,292.5 L168.3,290.2 L162.7,289.7Z" fill="#5aa500"/><path d="M155.7,294.6 L161.3,294.9 L164.8,292.5 L159.2,292.1Z" fill="#59a600"/><path d="M152.2,297.6 L157.8,297.8 L161.3,294.9 L155.7,294.6Z" fill="#58a700"/><path d="M148.7,301.4 L154.3,301.5 L157.8,297.8 L152.2,297.6Z" fill="#56a900"/><path d="M145.2,305.4 L150.8,305.3 L154.3,301.5 L148.7,301.4Z" fill="#53ac00"/><path d="M141.6,309.3 L147.3,309.0 L150.8,305.3 L145.2,305.4Z" fill="#50af00"/><path d="M138.1,313.3 L143.7,312.8 L147.3,309.0 L141.6,309.3Z" fill="#4db200"/><path d="M134.6,317.5 L140.2,316.9 L143.7,312.8 L138.1,313.3Z" fill="#4bb400"/><path d="M131.1,321.9 L136.7,321.1 L140.2,316.9 L134.6,317.5Z" fill="#47b800"/><path d="M127.6,326.3 L133.2,325.3 L136.7,321.1 L131.1,321.9Z" fill="#44bb00"/><path d="M245.5,225.0 L251.2,227.3 L254.7,224.4 L249.1,222.1Z" fill="#7e8100"/><path d="M242.0,227.8 L247.7,230.1 L251.2,227.3 L245.5,225.0Z" fill="#7c8300"/><path d="M238.5,230.7 L244.1,233.0 L247.7,230.1 L242.0,227.8Z" fill="#7b8400"/><path d="M235.0,233.6 L240.6,235.9 L244.1,233.0 L238.5,230.7Z" fill="#798600"/><path d="M231.5,236.6 L237.1,238.8 L240.6,235.9 L235.0,233.6Z" fill="#788700"/><path d="M228.0,239.7 L233.6,241.9 L237.1,238.8 L231.5,236.6Z" fill="#768900"/><path d="M224.5,242.7 L230.1,244.8 L233.6,241.9 L228.0,239.7Z" fill="#748b00"/><path d="M221.0,245.8 L226.6,247.9 L230.1,244.8 L224.5,242.7Z" fill="#738c00"/><path d="M217.5,249.1 L223.1,251.0 L226.6,247.9 L221.0,245.8Z" fill="#718e00"/><path d="M214.0,252.2 L219.6,254.1 L223.1,251.0 L217.5,249.1Z" fill="#6f9000"/><path d="M210.4,255.9 L216.1,257.9 L219.6,254.1 L214.0,252.2Z" fill="#6d9200"/><path d="M206.9,259.2 L212.5,260.8 L216.1,257.9 L210.4,255.9Z" fill="#6b9400"/><path d="M203.4,261.8 L209.0,263.3 L212.5,260.8 L206.9,259.2Z" fill="#699600"/><path d="M199.9,264.3 L205.5,265.9 L209.0,263.3 L203.4,261.8Z" fill="#689700"/><path d="M196.4,267.1 L202.0,268.7 L205.5,265.9 L199.9,264.3Z" fill="#679800"/><path d="M192.9,270.1 L198.5,271.6 L202.0,268.7 L196.4,267.1Z" fill="#659a00"/><path d="M189.4,273.2 L195.0,274.6 L198.5,271.6 L192.9,270.1Z" fill="#649b00"/><path d="M185.9,276.2 L191.5,277.5 L195.0,274.6 L189.4,273.2Z" fill="#629d00"/><path d="M182.4,279.4 L188.0,280.6 L191.5,277.5 L185.9,276.2Z" fill="#609f00"/><path d="M178.8,282.2 L184.5,283.3 L188.0,280.6 L182.4,279.4Z" fill="#5fa000"/><path d="M175.3,285.1 L181.0,286.1 L184.5,283.3 L178.8,282.2Z" fill="#5da200"/><path d="M171.8,287.8 L177.4,288.6 L181.0,286.1 L175.3,285.1Z" fill="#5ca300"/><path d="M168.3,290.2 L173.9,290.8 L177.4,288.6 L171.8,287.8Z" fill="#5ba400"/><path d="M164.8,292.5 L170.4,293.0 L173.9,290.8 L168.3,290.2Z" fill="#5aa500"/><path d="M161.3,294.9 L166.9,295.2 L170.4,293.0 L164.8,292.5Z" fill="#5aa500"/><path d="M157.8,297.8 L163.4,298.0 L166.9,295.2 L161.3,294.9Z" fill="#59a600"/><path d="M154.3,301.5 L159.9,301.6 L163.4,298.0 L157.8,297.8Z" fill="#57a800"/><path d="M150.8,305.3 L156.4,305.2 L159.9,301.6 L154.3,301.5Z" fill="#54ab00"/><path d="M147.3,309.0 L152.9,308.7 L156.4,305.2 L150.8,305.3Z" fill="#52ad00"/><path d="M143.7,312.8 L149.4,312.4 L152.9,308.7 L147.3,309.0Z" fill="#4fb000"/><path d="M140.2,316.9 L145.9,316.3 L149.4,312.4 L143.7,312.8Z" fill="#4cb300"/><path d="M136.7,321.1 L142.3,320.3 L145.9,316.3 L140.2,316.9Z" fill="#49b600"/><path d="M133.2,325.3 L138.8,324.3 L142.3,320.3 L136.7,321.1Z" fill="#46b900"/><path d="M254.7,224.4 L260.3,226.9 L263.8,224.2 L258.2,221.7Z" fill="#7d8200"/><path d="M251.2,227.3 L256.8,229.7 L260.3,226.9 L254.7,224.4Z" fill="#7c8300"/><path d="M247.7,230.1 L253.3,232.5 L256.8,229.7 L251.2,227.3Z" fill="#7b8400"/><path d="M244.1,233.0 L249.8,235.4 L253.3,232.5 L247.7,230.1Z" fill="#798600"/><path d="M240.6,235.9 L246.2,238.3 L249.8,235.4 L244.1,233.0Z" fill="#788700"/><path d="M237.1,238.8 L242.7,241.2 L246.2,238.3 L240.6,235.9Z" fill="#768900"/><path d="M233.6,241.9 L239.2,244.2 L242.7,241.2 L237.1,238.8Z" fill="#758a00"/><path d="M230.1,244.8 L235.7,247.1 L239.2,244.2 L233.6,241.9Z" fill="#738c00"/><path d="M226.6,247.9 L232.2,250.1 L235.7,247.1 L230.1,244.8Z" fill="#718e00"/><path d="M223.1,251.0 L228.7,253.1 L232.2,250.1 L226.6,247.9Z" fill="#708f00"/><path d="M219.6,254.1 L225.2,256.2 L228.7,253.1 L223.1,251.0Z" fill="#6e9100"/><path d="M216.1,257.9 L221.7,259.9 L225.2,256.2 L219.6,254.1Z" fill="#6c9300"/><path d="M212.5,260.8 L218.2,262.7 L221.7,259.9 L216.1,257.9Z" fill="#6a9500"/><path d="M209.0,263.3 L214.7,265.1 L218.2,262.7 L212.5,260.8Z" fill="#689700"/><path d="M205.5,265.9 L211.1,267.6 L214.7,265.1 L209.0,263.3Z" fill="#679800"/><path d="M202.0,268.7 L207.6,270.3 L211.1,267.6 L205.5,265.9Z" fill="#669900"/><path d="M198.5,271.6 L204.1,273.2 L207.6,270.3 L202.0,268.7Z" fill="#659a00"/><path d="M195.0,274.6 L200.6,276.1 L204.1,273.2 L198.5,271.6Z" fill="#639c00"/><path d="M191.5,277.5 L197.1,279.0 L200.6,276.1 L195.0,274.6Z" fill="#629d00"/><path d="M188.0,280.6 L193.6,281.9 L197.1,279.0 L191.5,277.5Z" fill="#609f00"/><path d="M184.5,283.3 L190.1,284.5 L193.6,281.9 L188.0,280.6Z" fill="#5fa000"/><path d="M181.0,286.1 L186.6,287.2 L190.1,284.5 L184.5,283.3Z" fill="#5da200"/><path d="M177.4,288.6 L183.1,289.5 L186.6,287.2 L181.0,286.1Z" fill="#5ca300"/><path d="M173.9,290.8 L179.6,291.5 L183.1,289.5 L177.4,288.6Z" fill="#5ba400"/><path d="M170.4,293.0 L176.0,293.6 L179.6,291.5 L173.9,290.8Z" fill="#5ba400"/><path d="M166.9,295.2 L172.5,295.7 L176.0,293.6 L170.4,293.0Z" fill="#5aa500"/><path d="M163.4,298.0 L169.0,298.4 L172.5,295.7 L166.9,295.2Z" fill="#59a600"/><path d="M159.9,301.6 L165.5,301.8 L169.0,298.4 L163.4,298.0Z" fill="#58a700"/><path d="M156.4,305.2 L162.0,305.2 L165.5,301.8 L159.9,301.6Z" fill="#55aa00"/><path d="M152.9,308.7 L158.5,308.6 L162.0,305.2 L156.4,305.2Z" fill="#53ac00"/><path d="M149.4,312.4 L155.0,312.1 L158.5,308.6 L152.9,308.7Z" fill="#51ae00"/><path d="M145.9,316.3 L151.5,315.8 L155.0,312.1 L149.4,312.4Z" fill="#4eb100"/><path d="M142.3,320.3 L148.0,319.6 L151.5,315.8 L145.9,316.3Z" fill="#4cb300"/><path d="M138.8,324.3 L144.4,323.3 L148.0,319.6 L142.3,320.3Z" fill="#49b600"/><path d="M260.3,226.9 L265.9,229.4 L269.4,226.6 L263.8,224.2Z" fill="#7c8300"/><path d="M256.8,229.7 L262.4,232.2 L265.9,229.4 L260.3,226.9Z" fill="#7a8500"/><path d="M253.3,232.5 L258.9,235.0 L262.4,232.2 L256.8,229.7Z" fill="#798600"/><path d="M249.8,235.4 L255.4,237.9 L258.9,235.0 L253.3,232.5Z" fill="#778800"/><path d="M246.2,238.3 L251.9,240.7 L255.4,237.9 L249.8,235.4Z" fill="#768900"/><path d="M242.7,241.2 L248.4,243.6 L251.9,240.7 L246.2,238.3Z" fill="#748b00"/><path d="M239.2,244.2 L244.8,246.6 L248.4,243.6 L242.7,241.2Z" fill="#738c00"/><path d="M235.7,247.1 L241.3,249.4 L244.8,246.6 L239.2,244.2Z" fill="#718e00"/><path d="M232.2,250.1 L237.8,252.4 L241.3,249.4 L235.7,247.1Z" fill="#708f00"/><path d="M228.7,253.1 L234.3,255.3 L237.8,252.4 L232.2,250.1Z" fill="#6e9100"/><path d="M225.2,256.2 L230.8,258.5 L234.3,255.3 L228.7,253.1Z" fill="#6c9300"/><path d="M221.7,259.9 L227.3,262.0 L230.8,258.5 L225.2,256.2Z" fill="#6a9500"/><path d="M218.2,262.7 L223.8,264.6 L227.3,262.0 L221.7,259.9Z" fill="#689700"/><path d="M214.7,265.1 L220.3,266.9 L223.8,264.6 L218.2,262.7Z" fill="#679800"/><path d="M211.1,267.6 L216.8,269.4 L220.3,266.9 L214.7,265.1Z" fill="#669900"/><path d="M207.6,270.3 L213.2,272.1 L216.8,269.4 L211.1,267.6Z" fill="#659a00"/><path d="M204.1,273.2 L209.7,274.9 L213.2,272.1 L207.6,270.3Z" fill="#649b00"/><path d="M200.6,276.1 L206.2,277.7 L209.7,274.9 L204.1,273.2Z" fill="#629d00"/><path d="M197.1,279.0 L202.7,280.7 L206.2,277.7 L200.6,276.1Z" fill="#619e00"/><path d="M193.6,281.9 L199.2,283.4 L202.7,280.7 L197.1,279.0Z" fill="#5fa000"/><path d="M190.1,284.5 L195.7,285.9 L199.2,283.4 L193.6,281.9Z" fill="#5ea100"/><path d="M186.6,287.2 L192.2,288.4 L195.7,285.9 L190.1,284.5Z" fill="#5da200"/><path d="M183.1,289.5 L188.7,290.5 L192.2,288.4 L186.6,287.2Z" fill="#5ca300"/><path d="M179.6,291.5 L185.2,292.4 L188.7,290.5 L183.1,289.5Z" fill="#5ca300"/><path d="M176.0,293.6 L181.7,294.3 L185.2,292.4 L179.6,291.5Z" fill="#5ba400"/><path d="M172.5,295.7 L178.1,296.3 L181.7,294.3 L176.0,293.6Z" fill="#5ba400"/><path d="M169.0,298.4 L174.6,298.9 L178.1,296.3 L172.5,295.7Z" fill="#5aa500"/><path d="M165.5,301.8 L171.1,302.2 L174.6,298.9 L169.0,298.4Z" fill="#58a700"/><path d="M162.0,305.2 L167.6,305.3 L171.1,302.2 L165.5,301.8Z" fill="#56a900"/><path d="M158.5,308.6 L164.1,308.5 L167.6,305.3 L162.0,305.2Z" fill="#54ab00"/><path d="M155.0,312.1 L160.6,311.8 L164.1,308.5 L158.5,308.6Z" fill="#52ad00"/><path d="M151.5,315.8 L157.1,315.3 L160.6,311.8 L155.0,312.1Z" fill="#50af00"/><path d="M148.0,319.6 L153.6,318.9 L157.1,315.3 L151.5,315.8Z" fill="#4db200"/><path d="M144.4,323.3 L150.1,322.5 L153.6,318.9 L148.0,319.6Z" fill="#4bb400"/><path d="M265.9,229.4 L271.5,231.8 L275.0,229.0 L269.4,226.6Z" fill="#7a8500"/><path d="M262.4,232.2 L268.0,234.6 L271.5,231.8 L265.9,229.4Z" fill="#788700"/><path d="M258.9,235.0 L264.5,237.4 L268.0,234.6 L262.4,232.2Z" fill="#778800"/><path d="M255.4,237.9 L261.0,240.2 L264.5,237.4 L258.9,235.0Z" fill="#768900"/><path d="M251.9,240.7 L257.5,243.1 L261.0,240.2 L255.4,237.9Z" fill="#748b00"/><path d="M248.4,243.6 L254.0,246.0 L257.5,243.1 L251.9,240.7Z" fill="#738c00"/><path d="M244.8,246.6 L250.5,248.9 L254.0,246.0 L248.4,243.6Z" fill="#718e00"/><path d="M241.3,249.4 L246.9,251.7 L250.5,248.9 L244.8,246.6Z" fill="#708f00"/><path d="M237.8,252.4 L243.4,254.7 L246.9,251.7 L241.3,249.4Z" fill="#6e9100"/><path d="M234.3,255.3 L239.9,257.5 L243.4,254.7 L237.8,252.4Z" fill="#6c9300"/><path d="M230.8,258.5 L236.4,260.7 L239.9,257.5 L234.3,255.3Z" fill="#6b9400"/><path d="M227.3,262.0 L232.9,264.0 L236.4,260.7 L230.8,258.5Z" fill="#699600"/><path d="M223.8,264.6 L229.4,266.5 L232.9,264.0 L227.3,262.0Z" fill="#679800"/><path d="M220.3,266.9 L225.9,268.7 L229.4,266.5 L223.8,264.6Z" fill="#669900"/><path d="M216.8,269.4 L222.4,271.2 L225.9,268.7 L220.3,266.9Z" fill="#659a00"/><path d="M213.2,272.1 L218.9,273.9 L222.4,271.2 L216.8,269.4Z" fill="#649b00"/><path d="M209.7,274.9 L215.4,276.7 L218.9,273.9 L213.2,272.1Z" fill="#639c00"/><path d="M206.2,277.7 L211.8,279.3 L215.4,276.7 L209.7,274.9Z" fill="#629d00"/><path d="M202.7,280.7 L208.3,282.3 L211.8,279.3 L206.2,277.7Z" fill="#609f00"/><path d="M199.2,283.4 L204.8,284.8 L208.3,282.3 L202.7,280.7Z" fill="#5fa000"/><path d="M195.7,285.9 L201.3,287.2 L204.8,284.8 L199.2,283.4Z" fill="#5ea100"/><path d="M192.2,288.4 L197.8,289.6 L201.3,287.2 L195.7,285.9Z" fill="#5da200"/><path d="M188.7,290.5 L194.3,291.5 L197.8,289.6 L192.2,288.4Z" fill="#5ca300"/><path d="M185.2,292.4 L190.8,293.3 L194.3,291.5 L188.7,290.5Z" fill="#5ca300"/><path d="M181.7,294.3 L187.3,295.0 L190.8,293.3 L185.2,292.4Z" fill="#5ba400"/><path d="M178.1,296.3 L183.8,296.9 L187.3,295.0 L181.7,294.3Z" fill="#5ba400"/><path d="M174.6,298.9 L180.3,299.4 L183.8,296.9 L178.1,296.3Z" fill="#5ba400"/><path d="M171.1,302.2 L176.7,302.5 L180.3,299.4 L174.6,298.9Z" fill="#59a600"/><path d="M167.6,305.3 L173.2,305.5 L176.7,302.5 L171.1,302.2Z" fill="#57a800"/><path d="M164.1,308.5 L169.7,308.5 L173.2,305.5 L167.6,305.3Z" fill="#55aa00"/><path d="M160.6,311.8 L166.2,311.7 L169.7,308.5 L164.1,308.5Z" fill="#54ab00"/><path d="M157.1,315.3 L162.7,315.0 L166.2,311.7 L160.6,311.8Z" fill="#52ad00"/><path d="M153.6,318.9 L159.2,318.4 L162.7,315.0 L157.1,315.3Z" fill="#4fb000"/><path d="M150.1,322.5 L155.7,321.7 L159.2,318.4 L153.6,318.9Z" fill="#4db200"/><path d="M271.5,231.8 L277.1,233.9 L280.6,231.1 L275.0,229.0Z" fill="#788700"/><path d="M268.0,234.6 L273.6,236.8 L277.1,233.9 L271.5,231.8Z" fill="#778800"/><path d="M264.5,237.4 L270.1,239.6 L273.6,236.8 L268.0,234.6Z" fill="#758a00"/><path d="M261.0,240.2 L266.6,242.4 L270.1,239.6 L264.5,237.4Z" fill="#748b00"/><path d="M257.5,243.1 L263.1,245.3 L266.6,242.4 L261.0,240.2Z" fill="#728d00"/><path d="M254.0,246.0 L259.6,248.2 L263.1,245.3 L257.5,243.1Z" fill="#718e00"/><path d="M250.5,248.9 L256.1,251.0 L259.6,248.2 L254.0,246.0Z" fill="#6f9000"/><path d="M246.9,251.7 L252.6,253.8 L256.1,251.0 L250.5,248.9Z" fill="#6e9100"/><path d="M243.4,254.7 L249.1,256.8 L252.6,253.8 L246.9,251.7Z" fill="#6c9300"/><path d="M239.9,257.5 L245.5,259.5 L249.1,256.8 L243.4,254.7Z" fill="#6b9400"/><path d="M236.4,260.7 L242.0,262.9 L245.5,259.5 L239.9,257.5Z" fill="#699600"/><path d="M232.9,264.0 L238.5,266.0 L242.0,262.9 L236.4,260.7Z" fill="#679800"/><path d="M229.4,266.5 L235.0,268.3 L238.5,266.0 L232.9,264.0Z" fill="#669900"/><path d="M225.9,268.7 L231.5,270.5 L235.0,268.3 L229.4,266.5Z" fill="#659a00"/><path d="M222.4,271.2 L228.0,273.0 L231.5,270.5 L225.9,268.7Z" fill="#649b00"/><path d="M218.9,273.9 L224.5,275.6 L228.0,273.0 L222.4,271.2Z" fill="#639c00"/><path d="M215.4,276.7 L221.0,278.4 L224.5,275.6 L218.9,273.9Z" fill="#629d00"/><path d="M211.8,279.3 L217.5,280.9 L221.0,278.4 L215.4,276.7Z" fill="#619e00"/><path d="M208.3,282.3 L214.0,283.9 L217.5,280.9 L211.8,279.3Z" fill="#5fa000"/><path d="M204.8,284.8 L210.4,286.3 L214.0,283.9 L208.3,282.3Z" fill="#5ea100"/><path d="M201.3,287.2 L206.9,288.6 L210.4,286.3 L204.8,284.8Z" fill="#5da200"/><path d="M197.8,289.6 L203.4,290.8 L206.9,288.6 L201.3,287.2Z" fill="#5ca300"/><path d="M194.3,291.5 L199.9,292.6 L203.4,290.8 L197.8,289.6Z" fill="#5ca300"/><path d="M190.8,293.3 L196.4,294.2 L199.9,292.6 L194.3,291.5Z" fill="#5ca300"/><path d="M187.3,295.0 L192.9,295.9 L196.4,294.2 L190.8,293.3Z" fill="#5ca300"/><path d="M183.8,296.9 L189.4,297.7 L192.9,295.9 L187.3,295.0Z" fill="#5ca300"/><path d="M180.3,299.4 L185.9,300.0 L189.4,297.7 L183.8,296.9Z" fill="#5ba400"/><path d="M176.7,302.5 L182.4,303.0 L185.9,300.0 L180.3,299.4Z" fill="#5aa500"/><path d="M173.2,305.5 L178.8,305.8 L182.4,303.0 L176.7,302.5Z" fill="#58a700"/><path d="M169.7,308.5 L175.3,308.7 L178.8,305.8 L173.2,305.5Z" fill="#56a900"/><path d="M166.2,311.7 L171.8,311.7 L175.3,308.7 L169.7,308.5Z" fill="#55aa00"/><path d="M162.7,315.0 L168.3,314.8 L171.8,311.7 L166.2,311.7Z" fill="#53ac00"/><path d="M159.2,318.4 L164.8,318.0 L168.3,314.8 L162.7,315.0Z" fill="#51ae00"/><path d="M155.7,321.7 L161.3,321.2 L164.8,318.0 L159.2,318.4Z" fill="#4fb000"/><path d="M280.6,231.1 L286.3,233.2 L289.8,230.5 L284.2,228.5Z" fill="#788700"/><path d="M277.1,233.9 L282.8,236.0 L286.3,233.2 L280.6,231.1Z" fill="#778800"/><path d="M273.6,236.8 L279.2,238.9 L282.8,236.0 L277.1,233.9Z" fill="#758a00"/><path d="M270.1,239.6 L275.7,241.8 L279.2,238.9 L273.6,236.8Z" fill="#748b00"/><path d="M266.6,242.4 L272.2,244.6 L275.7,241.8 L270.1,239.6Z" fill="#728d00"/><path d="M263.1,245.3 L268.7,247.5 L272.2,244.6 L266.6,242.4Z" fill="#718e00"/><path d="M259.6,248.2 L265.2,250.4 L268.7,247.5 L263.1,245.3Z" fill="#6f9000"/><path d="M256.1,251.0 L261.7,253.2 L265.2,250.4 L259.6,248.2Z" fill="#6e9100"/><path d="M252.6,253.8 L258.2,256.0 L261.7,253.2 L256.1,251.0Z" fill="#6c9300"/><path d="M249.1,256.8 L254.7,258.9 L258.2,256.0 L252.6,253.8Z" fill="#6b9400"/><path d="M245.5,259.5 L251.2,261.6 L254.7,258.9 L249.1,256.8Z" fill="#6a9500"/><path d="M242.0,262.9 L247.6,265.1 L251.2,261.6 L245.5,259.5Z" fill="#689700"/><path d="M238.5,266.0 L244.1,267.9 L247.6,265.1 L242.0,262.9Z" fill="#669900"/><path d="M235.0,268.3 L240.6,270.2 L244.1,267.9 L238.5,266.0Z" fill="#659a00"/><path d="M231.5,270.5 L237.1,272.3 L240.6,270.2 L235.0,268.3Z" fill="#649b00"/><path d="M228.0,273.0 L233.6,274.8 L237.1,272.3 L231.5,270.5Z" fill="#639c00"/><path d="M224.5,275.6 L230.1,277.4 L233.6,274.8 L228.0,273.0Z" fill="#629d00"/><path d="M221.0,278.4 L226.6,280.1 L230.1,277.4 L224.5,275.6Z" fill="#619e00"/><path d="M217.5,280.9 L223.1,282.5 L226.6,280.1 L221.0,278.4Z" fill="#609f00"/><path d="M214.0,283.9 L219.6,285.5 L223.1,282.5 L217.5,280.9Z" fill="#5ea100"/><path d="M210.4,286.3 L216.1,287.8 L219.6,285.5 L214.0,283.9Z" fill="#5da200"/><path d="M206.9,288.6 L212.5,290.0 L216.1,287.8 L210.4,286.3Z" fill="#5ca300"/><path d="M203.4,290.8 L209.0,292.1 L212.5,290.0 L206.9,288.6Z" fill="#5ca300"/><path d="M199.9,292.6 L205.5,293.8 L209.0,292.1 L203.4,290.8Z" fill="#5ba400"/><path d="M196.4,294.2 L202.0,295.3 L205.5,293.8 L199.9,292.6Z" fill="#5ca300"/><path d="M192.9,295.9 L198.5,296.7 L202.0,295.3 L196.4,294.2Z" fill="#5ca300"/><path d="M189.4,297.7 L195.0,298.4 L198.5,296.7 L192.9,295.9Z" fill="#5ca300"/><path d="M185.9,300.0 L191.5,300.7 L195.0,298.4 L189.4,297.7Z" fill="#5ba400"/><path d="M182.4,303.0 L188.0,303.5 L191.5,300.7 L185.9,300.0Z" fill="#5aa500"/><path d="M178.8,305.8 L184.5,306.2 L188.0,303.5 L182.4,303.0Z" fill="#59a600"/><path d="M175.3,308.7 L181.0,308.9 L184.5,306.2 L178.8,305.8Z" fill="#57a800"/><path d="M171.8,311.7 L177.4,311.7 L181.0,308.9 L175.3,308.7Z" fill="#56a900"/><path d="M168.3,314.8 L173.9,314.7 L177.4,311.7 L171.8,311.7Z" fill="#54ab00"/><path d="M164.8,318.0 L170.4,317.8 L173.9,314.7 L168.3,314.8Z" fill="#53ac00"/><path d="M161.3,321.2 L166.9,320.7 L170.4,317.8 L164.8,318.0Z" fill="#51ae00"/><path d="M286.3,233.2 L291.9,235.2 L295.4,232.4 L289.8,230.5Z" fill="#778800"/><path d="M282.8,236.0 L288.4,238.1 L291.9,235.2 L286.3,233.2Z" fill="#758a00"/><path d="M279.2,238.9 L284.9,241.0 L288.4,238.1 L282.8,236.0Z" fill="#748b00"/><path d="M275.7,241.8 L281.3,243.9 L284.9,241.0 L279.2,238.9Z" fill="#728d00"/><path d="M272.2,244.6 L277.8,246.8 L281.3,243.9 L275.7,241.8Z" fill="#718e00"/><path d="M268.7,247.5 L274.3,249.7 L277.8,246.8 L272.2,244.6Z" fill="#6f9000"/><path d="M265.2,250.4 L270.8,252.6 L274.3,249.7 L268.7,247.5Z" fill="#6e9100"/><path d="M261.7,253.2 L267.3,255.3 L270.8,252.6 L265.2,250.4Z" fill="#6c9300"/><path d="M258.2,256.0 L263.8,258.2 L267.3,255.3 L261.7,253.2Z" fill="#6b9400"/><path d="M254.7,258.9 L260.3,261.0 L263.8,258.2 L258.2,256.0Z" fill="#6a9500"/><path d="M251.2,261.6 L256.8,263.7 L260.3,261.0 L254.7,258.9Z" fill="#689700"/><path d="M247.6,265.1 L253.3,267.2 L256.8,263.7 L251.2,261.6Z" fill="#669900"/><path d="M244.1,267.9 L249.8,269.9 L253.3,267.2 L247.6,265.1Z" fill="#659a00"/><path d="M240.6,270.2 L246.2,272.0 L249.8,269.9 L244.1,267.9Z" fill="#649b00"/><path d="M237.1,272.3 L242.7,274.2 L246.2,272.0 L240.6,270.2Z" fill="#639c00"/><path d="M233.6,274.8 L239.2,276.7 L242.7,274.2 L237.1,272.3Z" fill="#629d00"/><path d="M230.1,277.4 L235.7,279.3 L239.2,276.7 L233.6,274.8Z" fill="#619e00"/><path d="M226.6,280.1 L232.2,281.9 L235.7,279.3 L230.1,277.4Z" fill="#609f00"/><path d="M223.1,282.5 L228.7,284.3 L232.2,281.9 L226.6,280.1Z" fill="#5fa000"/><path d="M219.6,285.5 L225.2,287.2 L228.7,284.3 L223.1,282.5Z" fill="#5ea100"/><path d="M216.1,287.8 L221.7,289.4 L225.2,287.2 L219.6,285.5Z" fill="#5ca300"/><path d="M212.5,290.0 L218.2,291.5 L221.7,289.4 L216.1,287.8Z" fill="#5ca300"/><path d="M209.0,292.1 L214.7,293.5 L218.2,291.5 L212.5,290.0Z" fill="#5ba400"/><path d="M205.5,293.8 L211.1,295.0 L214.7,293.5 L209.0,292.1Z" fill="#5ba400"/><path d="M202.0,295.3 L207.6,296.4 L211.1,295.0 L205.5,293.8Z" fill="#5ba400"/><path d="M198.5,296.7 L204.1,297.8 L207.6,296.4 L202.0,295.3Z" fill="#5ca300"/><path d="M195.0,298.4 L200.6,299.4 L204.1,297.8 L198.5,296.7Z" fill="#5ca300"/><path d="M191.5,300.7 L197.1,301.6 L200.6,299.4 L195.0,298.4Z" fill="#5ba400"/><path d="M188.0,303.5 L193.6,304.2 L197.1,301.6 L191.5,300.7Z" fill="#5aa500"/><path d="M184.5,306.2 L190.1,306.8 L193.6,304.2 L188.0,303.5Z" fill="#59a600"/><path d="M181.0,308.9 L186.6,309.3 L190.1,306.8 L184.5,306.2Z" fill="#58a700"/><path d="M177.4,311.7 L183.1,312.0 L186.6,309.3 L181.0,308.9Z" fill="#57a800"/><path d="M173.9,314.7 L179.5,314.8 L183.1,312.0 L177.4,311.7Z" fill="#55aa00"/><path d="M170.4,317.8 L176.0,317.7 L179.5,314.8 L173.9,314.7Z" fill="#54ab00"/><path d="M166.9,320.7 L172.5,320.5 L176.0,317.7 L170.4,317.8Z" fill="#52ad00"/><path d="M291.9,235.2 L297.5,237.0 L301.0,234.1 L295.4,232.4Z" fill="#768900"/><path d="M288.4,238.1 L294.0,240.0 L297.5,237.0 L291.9,235.2Z" fill="#748b00"/><path d="M284.9,241.0 L290.5,242.9 L294.0,240.0 L288.4,238.1Z" fill="#738c00"/><path d="M281.3,243.9 L287.0,245.9 L290.5,242.9 L284.9,241.0Z" fill="#718e00"/><path d="M277.8,246.8 L283.5,248.8 L287.0,245.9 L281.3,243.9Z" fill="#708f00"/><path d="M274.3,249.7 L279.9,251.8 L283.5,248.8 L277.8,246.8Z" fill="#6e9100"/><path d="M270.8,252.6 L276.4,254.6 L279.9,251.8 L274.3,249.7Z" fill="#6c9300"/><path d="M267.3,255.3 L272.9,257.3 L276.4,254.6 L270.8,252.6Z" fill="#6b9400"/><path d="M263.8,258.2 L269.4,260.3 L272.9,257.3 L267.3,255.3Z" fill="#6a9500"/><path d="M260.3,261.0 L265.9,263.0 L269.4,260.3 L263.8,258.2Z" fill="#689700"/><path d="M256.8,263.7 L262.4,265.8 L265.9,263.0 L260.3,261.0Z" fill="#679800"/><path d="M253.3,267.2 L258.9,269.3 L262.4,265.8 L256.8,263.7Z" fill="#659a00"/><path d="M249.8,269.9 L255.4,271.8 L258.9,269.3 L253.3,267.2Z" fill="#639c00"/><path d="M246.2,272.0 L251.9,273.9 L255.4,271.8 L249.8,269.9Z" fill="#629d00"/><path d="M242.7,274.2 L248.4,276.1 L251.9,273.9 L246.2,272.0Z" fill="#629d00"/><path d="M239.2,276.7 L244.8,278.6 L248.4,276.1 L242.7,274.2Z" fill="#619e00"/><path d="M235.7,279.3 L241.3,281.2 L244.8,278.6 L239.2,276.7Z" fill="#609f00"/><path d="M232.2,281.9 L237.8,283.7 L241.3,281.2 L235.7,279.3Z" fill="#5fa000"/><path d="M228.7,284.3 L234.3,286.1 L237.8,283.7 L232.2,281.9Z" fill="#5ea100"/><path d="M225.2,287.2 L230.8,289.0 L234.3,286.1 L228.7,284.3Z" fill="#5da200"/><path d="M221.7,289.4 L227.3,291.1 L230.8,289.0 L225.2,287.2Z" fill="#5ca300"/><path d="M218.2,291.5 L223.8,293.2 L227.3,291.1 L221.7,289.4Z" fill="#5ba400"/><path d="M214.7,293.5 L220.3,295.0 L223.8,293.2 L218.2,291.5Z" fill="#5ba400"/><path d="M211.1,295.0 L216.8,296.4 L220.3,295.0 L214.7,293.5Z" fill="#5ba400"/><path d="M207.6,296.4 L213.2,297.7 L216.8,296.4 L211.1,295.0Z" fill="#5ba400"/><path d="M204.1,297.8 L209.7,299.0 L213.2,297.7 L207.6,296.4Z" fill="#5ba400"/><path d="M200.6,299.4 L206.2,300.6 L209.7,299.0 L204.1,297.8Z" fill="#5ca300"/><path d="M197.1,301.6 L202.7,302.7 L206.2,300.6 L200.6,299.4Z" fill="#5ba400"/><path d="M193.6,304.2 L199.2,305.2 L202.7,302.7 L197.1,301.6Z" fill="#5ba400"/><path d="M190.1,306.8 L195.7,307.6 L199.2,305.2 L193.6,304.2Z" fill="#5aa500"/><path d="M186.6,309.3 L192.2,310.0 L195.7,307.6 L190.1,306.8Z" fill="#59a600"/><path d="M183.1,312.0 L188.7,312.6 L192.2,310.0 L186.6,309.3Z" fill="#57a800"/><path d="M179.5,314.8 L185.2,315.3 L188.7,312.6 L183.1,312.0Z" fill="#56a900"/><path d="M176.0,317.7 L181.7,318.1 L185.2,315.3 L179.5,314.8Z" fill="#55aa00"/><path d="M172.5,320.5 L178.1,320.7 L181.7,318.1 L176.0,317.7Z" fill="#53ac00"/><path d="M301.0,234.1 L306.6,235.6 L310.1,232.9 L304.5,231.7Z" fill="#768900"/><path d="M297.5,237.0 L303.1,238.6 L306.6,235.6 L301.0,234.1Z" fill="#758a00"/><path d="M294.0,240.0 L299.6,241.6 L303.1,238.6 L297.5,237.0Z" fill="#738c00"/><path d="M290.5,242.9 L296.1,244.6 L299.6,241.6 L294.0,240.0Z" fill="#728d00"/><path d="M287.0,245.9 L292.6,247.6 L296.1,244.6 L290.5,242.9Z" fill="#708f00"/><path d="M283.5,248.8 L289.1,250.6 L292.6,247.6 L287.0,245.9Z" fill="#6e9100"/><path d="M279.9,251.8 L285.6,253.6 L289.1,250.6 L283.5,248.8Z" fill="#6d9200"/><path d="M276.4,254.6 L282.0,256.4 L285.6,253.6 L279.9,251.8Z" fill="#6b9400"/><path d="M272.9,257.3 L278.5,259.2 L282.0,256.4 L276.4,254.6Z" fill="#6a9500"/><path d="M269.4,260.3 L275.0,262.2 L278.5,259.2 L272.9,257.3Z" fill="#689700"/><path d="M265.9,263.0 L271.5,264.9 L275.0,262.2 L269.4,260.3Z" fill="#679800"/><path d="M262.4,265.8 L268.0,267.9 L271.5,264.9 L265.9,263.0Z" fill="#659a00"/><path d="M258.9,269.3 L264.5,271.2 L268.0,267.9 L262.4,265.8Z" fill="#649b00"/><path d="M255.4,271.8 L261.0,273.7 L264.5,271.2 L258.9,269.3Z" fill="#629d00"/><path d="M251.9,273.9 L257.5,275.7 L261.0,273.7 L255.4,271.8Z" fill="#619e00"/><path d="M248.4,276.1 L254.0,278.0 L257.5,275.7 L251.9,273.9Z" fill="#619e00"/><path d="M244.8,278.6 L250.5,280.5 L254.0,278.0 L248.4,276.1Z" fill="#609f00"/><path d="M241.3,281.2 L246.9,283.1 L250.5,280.5 L244.8,278.6Z" fill="#5fa000"/><path d="M237.8,283.7 L243.4,285.6 L246.9,283.1 L241.3,281.2Z" fill="#5ea100"/><path d="M234.3,286.1 L239.9,288.1 L243.4,285.6 L237.8,283.7Z" fill="#5da200"/><path d="M230.8,289.0 L236.4,290.8 L239.9,288.1 L234.3,286.1Z" fill="#5ca300"/><path d="M227.3,291.1 L232.9,292.9 L236.4,290.8 L230.8,289.0Z" fill="#5ba400"/><path d="M223.8,293.2 L229.4,295.0 L232.9,292.9 L227.3,291.1Z" fill="#5aa500"/><path d="M220.3,295.0 L225.9,296.7 L229.4,295.0 L223.8,293.2Z" fill="#5aa500"/><path d="M216.8,296.4 L222.4,298.0 L225.9,296.7 L220.3,295.0Z" fill="#5aa500"/><path d="M213.2,297.7 L218.9,299.2 L222.4,298.0 L216.8,296.4Z" fill="#5aa500"/><path d="M209.7,299.0 L215.4,300.5 L218.9,299.2 L213.2,297.7Z" fill="#5ba400"/><path d="M206.2,300.6 L211.8,301.9 L215.4,300.5 L209.7,299.0Z" fill="#5ba400"/><path d="M202.7,302.7 L208.3,304.0 L211.8,301.9 L206.2,300.6Z" fill="#5ba400"/><path d="M199.2,305.2 L204.8,306.4 L208.3,304.0 L202.7,302.7Z" fill="#5aa500"/><path d="M195.7,307.6 L201.3,308.7 L204.8,306.4 L199.2,305.2Z" fill="#59a600"/><path d="M192.2,310.0 L197.8,311.0 L201.3,308.7 L195.7,307.6Z" fill="#59a600"/><path d="M188.7,312.6 L194.3,313.5 L197.8,311.0 L192.2,310.0Z" fill="#58a700"/><path d="M185.2,315.3 L190.8,316.1 L194.3,313.5 L188.7,312.6Z" fill="#57a800"/><path d="M181.7,318.1 L187.3,318.7 L190.8,316.1 L185.2,315.3Z" fill="#55aa00"/><path d="M178.1,320.7 L183.8,321.3 L187.3,318.7 L181.7,318.1Z" fill="#54ab00"/><path d="M306.6,235.6 L312.2,237.0 L315.7,234.1 L310.1,232.9Z" fill="#768900"/><path d="M303.1,238.6 L308.7,240.1 L312.2,237.0 L306.6,235.6Z" fill="#748b00"/><path d="M299.6,241.6 L305.2,243.2 L308.7,240.1 L303.1,238.6Z" fill="#728d00"/><path d="M296.1,244.6 L301.7,246.2 L305.2,243.2 L299.6,241.6Z" fill="#718e00"/><path d="M292.6,247.6 L298.2,249.3 L301.7,246.2 L296.1,244.6Z" fill="#6f9000"/><path d="M289.1,250.6 L294.7,252.3 L298.2,249.3 L292.6,247.6Z" fill="#6d9200"/><path d="M285.6,253.6 L291.2,255.4 L294.7,252.3 L289.1,250.6Z" fill="#6c9300"/><path d="M282.0,256.4 L287.7,258.2 L291.2,255.4 L285.6,253.6Z" fill="#6a9500"/><path d="M278.5,259.2 L284.2,261.1 L287.7,258.2 L282.0,256.4Z" fill="#699600"/><path d="M275.0,262.2 L280.6,264.1 L284.2,261.1 L278.5,259.2Z" fill="#679800"/><path d="M271.5,264.9 L277.1,266.7 L280.6,264.1 L275.0,262.2Z" fill="#669900"/><path d="M268.0,267.9 L273.6,269.9 L277.1,266.7 L271.5,264.9Z" fill="#649b00"/><path d="M264.5,271.2 L270.1,273.1 L273.6,269.9 L268.0,267.9Z" fill="#629d00"/><path d="M261.0,273.7 L266.6,275.5 L270.1,273.1 L264.5,271.2Z" fill="#619e00"/><path d="M257.5,275.7 L263.1,277.6 L266.6,275.5 L261.0,273.7Z" fill="#609f00"/><path d="M254.0,278.0 L259.6,280.0 L263.1,277.6 L257.5,275.7Z" fill="#609f00"/><path d="M250.5,280.5 L256.1,282.4 L259.6,280.0 L254.0,278.0Z" fill="#5fa000"/><path d="M246.9,283.1 L252.6,285.0 L256.1,282.4 L250.5,280.5Z" fill="#5ea100"/><path d="M243.4,285.6 L249.1,287.5 L252.6,285.0 L246.9,283.1Z" fill="#5da200"/><path d="M239.9,288.1 L245.5,290.1 L249.1,287.5 L243.4,285.6Z" fill="#5ca300"/><path d="M236.4,290.8 L242.0,292.7 L245.5,290.1 L239.9,288.1Z" fill="#5aa500"/><path d="M232.9,292.9 L238.5,294.8 L242.0,292.7 L236.4,290.8Z" fill="#59a600"/><path d="M229.4,295.0 L235.0,296.8 L238.5,294.8 L232.9,292.9Z" fill="#59a600"/><path d="M225.9,296.7 L231.5,298.4 L235.0,296.8 L229.4,295.0Z" fill="#59a600"/><path d="M222.4,298.0 L228.0,299.7 L231.5,298.4 L225.9,296.7Z" fill="#59a600"/><path d="M218.9,299.2 L224.5,300.9 L228.0,299.7 L222.4,298.0Z" fill="#5aa500"/><path d="M215.4,300.5 L221.0,302.1 L224.5,300.9 L218.9,299.2Z" fill="#5aa500"/><path d="M211.8,301.9 L217.5,303.5 L221.0,302.1 L215.4,300.5Z" fill="#5ba400"/><path d="M208.3,304.0 L213.9,305.5 L217.5,303.5 L211.8,301.9Z" fill="#5ba400"/><path d="M204.8,306.4 L210.4,307.8 L213.9,305.5 L208.3,304.0Z" fill="#5aa500"/><path d="M201.3,308.7 L206.9,310.0 L210.4,307.8 L204.8,306.4Z" fill="#59a600"/><path d="M197.8,311.0 L203.4,312.2 L206.9,310.0 L201.3,308.7Z" fill="#58a700"/><path d="M194.3,313.5 L199.9,314.6 L203.4,312.2 L197.8,311.0Z" fill="#58a700"/><path d="M190.8,316.1 L196.4,317.1 L199.9,314.6 L194.3,313.5Z" fill="#57a800"/><path d="M187.3,318.7 L192.9,319.7 L196.4,317.1 L190.8,316.1Z" fill="#55aa00"/><path d="M183.8,321.3 L189.4,322.0 L192.9,319.7 L187.3,318.7Z" fill="#54ab00"/><path d="M312.2,237.0 L317.9,238.4 L321.4,235.4 L315.7,234.1Z" fill="#758a00"/><path d="M308.7,240.1 L314.3,241.6 L317.9,238.4 L312.2,237.0Z" fill="#748b00"/><path d="M305.2,243.2 L310.8,244.7 L314.3,241.6 L308.7,240.1Z" fill="#728d00"/><path d="M301.7,246.2 L307.3,247.9 L310.8,244.7 L305.2,243.2Z" fill="#708f00"/><path d="M298.2,249.3 L303.8,251.0 L307.3,247.9 L301.7,246.2Z" fill="#6e9100"/><path d="M294.7,252.3 L300.3,254.1 L303.8,251.0 L298.2,249.3Z" fill="#6c9300"/><path d="M291.2,255.4 L296.8,257.2 L300.3,254.1 L294.7,252.3Z" fill="#6b9400"/><path d="M287.7,258.2 L293.3,260.0 L296.8,257.2 L291.2,255.4Z" fill="#699600"/><path d="M284.2,261.1 L289.8,262.9 L293.3,260.0 L287.7,258.2Z" fill="#689700"/><path d="M280.6,264.1 L286.3,265.9 L289.8,262.9 L284.2,261.1Z" fill="#669900"/><path d="M277.1,266.7 L282.7,268.6 L286.3,265.9 L280.6,264.1Z" fill="#659a00"/><path d="M273.6,269.9 L279.2,272.0 L282.7,268.6 L277.1,266.7Z" fill="#639c00"/><path d="M270.1,273.1 L275.7,275.0 L279.2,272.0 L273.6,269.9Z" fill="#619e00"/><path d="M266.6,275.5 L272.2,277.4 L275.7,275.0 L270.1,273.1Z" fill="#609f00"/><path d="M263.1,277.6 L268.7,279.5 L272.2,277.4 L266.6,275.5Z" fill="#5fa000"/><path d="M259.6,280.0 L265.2,281.9 L268.7,279.5 L263.1,277.6Z" fill="#5ea100"/><path d="M256.1,282.4 L261.7,284.4 L265.2,281.9 L259.6,280.0Z" fill="#5da200"/><path d="M252.6,285.0 L258.2,287.0 L261.7,284.4 L256.1,282.4Z" fill="#5ca300"/><path d="M249.1,287.5 L254.7,289.4 L258.2,287.0 L252.6,285.0Z" fill="#5ba400"/><path d="M245.5,290.1 L251.2,292.2 L254.7,289.4 L249.1,287.5Z" fill="#5aa500"/><path d="M242.0,292.7 L247.6,294.7 L251.2,292.2 L245.5,290.1Z" fill="#59a600"/><path d="M238.5,294.8 L244.1,296.7 L247.6,294.7 L242.0,292.7Z" fill="#58a700"/><path d="M235.0,296.8 L240.6,298.7 L244.1,296.7 L238.5,294.8Z" fill="#58a700"/><path d="M231.5,298.4 L237.1,300.2 L240.6,298.7 L235.0,296.8Z" fill="#58a700"/><path d="M228.0,299.7 L233.6,301.5 L237.1,300.2 L231.5,298.4Z" fill="#58a700"/><path d="M224.5,300.9 L230.1,302.6 L233.6,301.5 L228.0,299.7Z" fill="#59a600"/><path d="M221.0,302.1 L226.6,303.7 L230.1,302.6 L224.5,300.9Z" fill="#59a600"/><path d="M217.5,303.5 L223.1,305.1 L226.6,303.7 L221.0,302.1Z" fill="#5aa500"/><path d="M213.9,305.5 L219.6,307.1 L223.1,305.1 L217.5,303.5Z" fill="#5aa500"/><path d="M210.4,307.8 L216.1,309.2 L219.6,307.1 L213.9,305.5Z" fill="#59a600"/><path d="M206.9,310.0 L212.5,311.3 L216.1,309.2 L210.4,307.8Z" fill="#59a600"/><path d="M203.4,312.2 L209.0,313.5 L212.5,311.3 L206.9,310.0Z" fill="#58a700"/><path d="M199.9,314.6 L205.5,315.8 L209.0,313.5 L203.4,312.2Z" fill="#57a800"/><path d="M196.4,317.1 L202.0,318.2 L205.5,315.8 L199.9,314.6Z" fill="#56a900"/><path d="M192.9,319.7 L198.5,320.7 L202.0,318.2 L196.4,317.1Z" fill="#55aa00"/><path d="M189.4,322.0 L195.0,322.9 L198.5,320.7 L192.9,319.7Z" fill="#55aa00"/><path d="M317.9,238.4 L323.5,239.9 L327.0,236.7 L321.4,235.4Z" fill="#758a00"/><path d="M314.3,241.6 L320.0,243.1 L323.5,239.9 L317.9,238.4Z" fill="#738c00"/><path d="M310.8,244.7 L316.4,246.3 L320.0,243.1 L314.3,241.6Z" fill="#718e00"/><path d="M307.3,247.9 L312.9,249.5 L316.4,246.3 L310.8,244.7Z" fill="#6f9000"/><path d="M303.8,251.0 L309.4,252.7 L312.9,249.5 L307.3,247.9Z" fill="#6d9200"/><path d="M300.3,254.1 L305.9,255.9 L309.4,252.7 L303.8,251.0Z" fill="#6c9300"/><path d="M296.8,257.2 L302.4,259.0 L305.9,255.9 L300.3,254.1Z" fill="#6a9500"/><path d="M293.3,260.0 L298.9,261.8 L302.4,259.0 L296.8,257.2Z" fill="#689700"/><path d="M289.8,262.9 L295.4,264.8 L298.9,261.8 L293.3,260.0Z" fill="#679800"/><path d="M286.3,265.9 L291.9,267.8 L295.4,264.8 L289.8,262.9Z" fill="#659a00"/><path d="M282.7,268.6 L288.4,270.5 L291.9,267.8 L286.3,265.9Z" fill="#649b00"/><path d="M279.2,272.0 L284.9,274.0 L288.4,270.5 L282.7,268.6Z" fill="#629d00"/><path d="M275.7,275.0 L281.3,277.0 L284.9,274.0 L279.2,272.0Z" fill="#609f00"/><path d="M272.2,277.4 L277.8,279.3 L281.3,277.0 L275.7,275.0Z" fill="#5fa000"/><path d="M268.7,279.5 L274.3,281.5 L277.8,279.3 L272.2,277.4Z" fill="#5ea100"/><path d="M265.2,281.9 L270.8,283.9 L274.3,281.5 L268.7,279.5Z" fill="#5da200"/><path d="M261.7,284.4 L267.3,286.5 L270.8,283.9 L265.2,281.9Z" fill="#5ca300"/><path d="M258.2,287.0 L263.8,289.1 L267.3,286.5 L261.7,284.4Z" fill="#5ba400"/><path d="M254.7,289.4 L260.3,291.5 L263.8,289.1 L258.2,287.0Z" fill="#5aa500"/><path d="M251.2,292.2 L256.8,294.4 L260.3,291.5 L254.7,289.4Z" fill="#59a600"/><path d="M247.6,294.7 L253.3,296.8 L256.8,294.4 L251.2,292.2Z" fill="#58a700"/><path d="M244.1,296.7 L249.8,298.9 L253.3,296.8 L247.6,294.7Z" fill="#57a800"/><path d="M240.6,298.7 L246.2,300.9 L249.8,298.9 L244.1,296.7Z" fill="#56a900"/><path d="M237.1,300.2 L242.7,302.3 L246.2,300.9 L240.6,298.7Z" fill="#56a900"/><path d="M233.6,301.5 L239.2,303.5 L242.7,302.3 L237.1,300.2Z" fill="#57a800"/><path d="M230.1,302.6 L235.7,304.6 L239.2,303.5 L233.6,301.5Z" fill="#58a700"/><path d="M226.6,303.7 L232.2,305.7 L235.7,304.6 L230.1,302.6Z" fill="#58a700"/><path d="M223.1,305.1 L228.7,307.0 L232.2,305.7 L226.6,303.7Z" fill="#59a600"/><path d="M219.6,307.1 L225.2,308.9 L228.7,307.0 L223.1,305.1Z" fill="#59a600"/><path d="M216.1,309.2 L221.7,311.0 L225.2,308.9 L219.6,307.1Z" fill="#58a700"/><path d="M212.5,311.3 L218.2,313.1 L221.7,311.0 L216.1,309.2Z" fill="#58a700"/><path d="M209.0,313.5 L214.6,315.2 L218.2,313.1 L212.5,311.3Z" fill="#57a800"/><path d="M205.5,315.8 L211.1,317.4 L214.6,315.2 L209.0,313.5Z" fill="#57a800"/><path d="M202.0,318.2 L207.6,319.7 L211.1,317.4 L205.5,315.8Z" fill="#56a900"/><path d="M198.5,320.7 L204.1,322.1 L207.6,319.7 L202.0,318.2Z" fill="#55aa00"/><path d="M195.0,322.9 L200.6,324.3 L204.1,322.1 L198.5,320.7Z" fill="#54ab00"/><path d="M323.5,239.9 L329.1,241.3 L332.6,238.0 L327.0,236.7Z" fill="#748b00"/><path d="M320.0,243.1 L325.6,244.7 L329.1,241.3 L323.5,239.9Z" fill="#728d00"/><path d="M316.4,246.3 L322.1,248.0 L325.6,244.7 L320.0,243.1Z" fill="#708f00"/><path d="M312.9,249.5 L318.6,251.2 L322.1,248.0 L316.4,246.3Z" fill="#6e9100"/><path d="M309.4,252.7 L315.0,254.5 L318.6,251.2 L312.9,249.5Z" fill="#6c9300"/><path d="M305.9,255.9 L311.5,257.7 L315.0,254.5 L309.4,252.7Z" fill="#6b9400"/><path d="M302.4,259.0 L308.0,260.8 L311.5,257.7 L305.9,255.9Z" fill="#699600"/><path d="M298.9,261.8 L304.5,263.7 L308.0,260.8 L302.4,259.0Z" fill="#679800"/><path d="M295.4,264.8 L301.0,266.8 L304.5,263.7 L298.9,261.8Z" fill="#659a00"/><path d="M291.9,267.8 L297.5,269.8 L301.0,266.8 L295.4,264.8Z" fill="#649b00"/><path d="M288.4,270.5 L294.0,272.4 L297.5,269.8 L291.9,267.8Z" fill="#629d00"/><path d="M284.9,274.0 L290.5,276.1 L294.0,272.4 L288.4,270.5Z" fill="#619e00"/><path d="M281.3,277.0 L287.0,279.0 L290.5,276.1 L284.9,274.0Z" fill="#5fa000"/><path d="M277.8,279.3 L283.5,281.4 L287.0,279.0 L281.3,277.0Z" fill="#5da200"/><path d="M274.3,281.5 L279.9,283.6 L283.5,281.4 L277.8,279.3Z" fill="#5da200"/><path d="M270.8,283.9 L276.4,286.2 L279.9,283.6 L274.3,281.5Z" fill="#5ca300"/><path d="M267.3,286.5 L272.9,288.8 L276.4,286.2 L270.8,283.9Z" fill="#5ba400"/><path d="M263.8,289.1 L269.4,291.4 L272.9,288.8 L267.3,286.5Z" fill="#5aa500"/><path d="M260.3,291.5 L265.9,293.8 L269.4,291.4 L263.8,289.1Z" fill="#58a700"/><path d="M256.8,294.4 L262.4,296.9 L265.9,293.8 L260.3,291.5Z" fill="#57a800"/><path d="M253.3,296.8 L258.9,299.2 L262.4,296.9 L256.8,294.4Z" fill="#56a900"/><path d="M249.8,298.9 L255.4,301.3 L258.9,299.2 L253.3,296.8Z" fill="#55aa00"/><path d="M246.2,300.9 L251.9,303.3 L255.4,301.3 L249.8,298.9Z" fill="#55aa00"/><path d="M242.7,302.3 L248.3,304.7 L251.9,303.3 L246.2,300.9Z" fill="#55aa00"/><path d="M239.2,303.5 L244.8,305.9 L248.3,304.7 L242.7,302.3Z" fill="#55aa00"/><path d="M235.7,304.6 L241.3,306.9 L244.8,305.9 L239.2,303.5Z" fill="#56a900"/><path d="M232.2,305.7 L237.8,308.0 L241.3,306.9 L235.7,304.6Z" fill="#57a800"/><path d="M228.7,307.0 L234.3,309.4 L237.8,308.0 L232.2,305.7Z" fill="#57a800"/><path d="M225.2,308.9 L230.8,311.2 L234.3,309.4 L228.7,307.0Z" fill="#57a800"/><path d="M221.7,311.0 L227.3,313.2 L230.8,311.2 L225.2,308.9Z" fill="#57a800"/><path d="M218.2,313.1 L223.8,315.2 L227.3,313.2 L221.7,311.0Z" fill="#57a800"/><path d="M214.6,315.2 L220.3,317.3 L223.8,315.2 L218.2,313.1Z" fill="#56a900"/><path d="M211.1,317.4 L216.8,319.5 L220.3,317.3 L214.6,315.2Z" fill="#56a900"/><path d="M207.6,319.7 L213.2,321.7 L216.8,319.5 L211.1,317.4Z" fill="#55aa00"/><path d="M204.1,322.1 L209.7,324.0 L213.2,321.7 L207.6,319.7Z" fill="#54ab00"/><path d="M200.6,324.3 L206.2,326.1 L209.7,324.0 L204.1,322.1Z" fill="#53ac00"/><path d="M329.1,241.3 L334.7,242.7 L338.2,239.3 L332.6,238.0Z" fill="#748b00"/><path d="M325.6,244.7 L331.2,246.1 L334.7,242.7 L329.1,241.3Z" fill="#728d00"/><path d="M322.1,248.0 L327.7,249.5 L331.2,246.1 L325.6,244.7Z" fill="#708f00"/><path d="M318.6,251.2 L324.2,252.9 L327.7,249.5 L322.1,248.0Z" fill="#6e9100"/><path d="M315.0,254.5 L320.7,256.2 L324.2,252.9 L318.6,251.2Z" fill="#6c9300"/><path d="M311.5,257.7 L317.1,259.5 L320.7,256.2 L315.0,254.5Z" fill="#6a9500"/><path d="M308.0,260.8 L313.6,262.6 L317.1,259.5 L311.5,257.7Z" fill="#689700"/><path d="M304.5,263.7 L310.1,265.5 L313.6,262.6 L308.0,260.8Z" fill="#669900"/><path d="M301.0,266.8 L306.6,268.7 L310.1,265.5 L304.5,263.7Z" fill="#649b00"/><path d="M297.5,269.8 L303.1,271.6 L306.6,268.7 L301.0,266.8Z" fill="#639c00"/><path d="M294.0,272.4 L299.6,274.4 L303.1,271.6 L297.5,269.8Z" fill="#619e00"/><path d="M290.5,276.1 L296.1,278.2 L299.6,274.4 L294.0,272.4Z" fill="#5fa000"/><path d="M287.0,279.0 L292.6,281.1 L296.1,278.2 L290.5,276.1Z" fill="#5da200"/><path d="M283.5,281.4 L289.1,283.4 L292.6,281.1 L287.0,279.0Z" fill="#5ca300"/><path d="M279.9,283.6 L285.6,285.7 L289.1,283.4 L283.5,281.4Z" fill="#5ba400"/><path d="M276.4,286.2 L282.0,288.4 L285.6,285.7 L279.9,283.6Z" fill="#5aa500"/><path d="M272.9,288.8 L278.5,291.0 L282.0,288.4 L276.4,286.2Z" fill="#59a600"/><path d="M269.4,291.4 L275.0,293.7 L278.5,291.0 L272.9,288.8Z" fill="#58a700"/><path d="M265.9,293.8 L271.5,296.2 L275.0,293.7 L269.4,291.4Z" fill="#57a800"/><path d="M262.4,296.9 L268.0,299.3 L271.5,296.2 L265.9,293.8Z" fill="#55aa00"/><path d="M258.9,299.2 L264.5,301.7 L268.0,299.3 L262.4,296.9Z" fill="#54ab00"/><path d="M255.4,301.3 L261.0,303.7 L264.5,301.7 L258.9,299.2Z" fill="#53ac00"/><path d="M251.9,303.3 L257.5,305.7 L261.0,303.7 L255.4,301.3Z" fill="#53ac00"/><path d="M248.3,304.7 L254.0,307.1 L257.5,305.7 L251.9,303.3Z" fill="#53ac00"/><path d="M244.8,305.9 L250.5,308.3 L254.0,307.1 L248.3,304.7Z" fill="#54ab00"/><path d="M241.3,306.9 L246.9,309.4 L250.5,308.3 L244.8,305.9Z" fill="#54ab00"/><path d="M237.8,308.0 L243.4,310.5 L246.9,309.4 L241.3,306.9Z" fill="#55aa00"/><path d="M234.3,309.4 L239.9,311.8 L243.4,310.5 L237.8,308.0Z" fill="#56a900"/><path d="M230.8,311.2 L236.4,313.6 L239.9,311.8 L234.3,309.4Z" fill="#56a900"/><path d="M227.3,313.2 L232.9,315.6 L236.4,313.6 L230.8,311.2Z" fill="#55aa00"/><path d="M223.8,315.2 L229.4,317.5 L232.9,315.6 L227.3,313.2Z" fill="#55aa00"/><path d="M220.3,317.3 L225.9,319.6 L229.4,317.5 L223.8,315.2Z" fill="#55aa00"/><path d="M216.8,319.5 L222.4,321.7 L225.9,319.6 L220.3,317.3Z" fill="#54ab00"/><path d="M213.2,321.7 L218.9,323.9 L222.4,321.7 L216.8,319.5Z" fill="#54ab00"/><path d="M209.7,324.0 L215.3,326.1 L218.9,323.9 L213.2,321.7Z" fill="#53ac00"/><path d="M206.2,326.1 L211.8,328.2 L215.3,326.1 L209.7,324.0Z" fill="#52ad00"/><path d="M338.2,239.3 L343.8,240.3 L347.3,237.2 L341.7,236.3Z" fill="#768900"/><path d="M334.7,242.7 L340.3,243.9 L343.8,240.3 L338.2,239.3Z" fill="#748b00"/><path d="M331.2,246.1 L336.8,247.4 L340.3,243.9 L334.7,242.7Z" fill="#718e00"/><path d="M327.7,249.5 L333.3,250.8 L336.8,247.4 L331.2,246.1Z" fill="#6f9000"/><path d="M324.2,252.9 L329.8,254.2 L333.3,250.8 L327.7,249.5Z" fill="#6d9200"/><path d="M320.7,256.2 L326.3,257.6 L329.8,254.2 L324.2,252.9Z" fill="#6b9400"/><path d="M317.1,259.5 L322.8,261.0 L326.3,257.6 L320.7,256.2Z" fill="#699600"/><path d="M313.6,262.6 L319.3,264.1 L322.8,261.0 L317.1,259.5Z" fill="#679800"/><path d="M310.1,265.5 L315.7,267.1 L319.3,264.1 L313.6,262.6Z" fill="#659a00"/><path d="M306.6,268.7 L312.2,270.3 L315.7,267.1 L310.1,265.5Z" fill="#639c00"/><path d="M303.1,271.6 L308.7,273.3 L312.2,270.3 L306.6,268.7Z" fill="#629d00"/><path d="M299.6,274.4 L305.2,276.2 L308.7,273.3 L303.1,271.6Z" fill="#609f00"/><path d="M296.1,278.2 L301.7,280.0 L305.2,276.2 L299.6,274.4Z" fill="#5ea100"/><path d="M292.6,281.1 L298.2,282.9 L301.7,280.0 L296.1,278.2Z" fill="#5ca300"/><path d="M289.1,283.4 L294.7,285.3 L298.2,282.9 L292.6,281.1Z" fill="#5ba400"/><path d="M285.6,285.7 L291.2,287.7 L294.7,285.3 L289.1,283.4Z" fill="#5aa500"/><path d="M282.0,288.4 L287.7,290.5 L291.2,287.7 L285.6,285.7Z" fill="#59a600"/><path d="M278.5,291.0 L284.2,293.2 L287.7,290.5 L282.0,288.4Z" fill="#58a700"/><path d="M275.0,293.7 L280.6,296.0 L284.2,293.2 L278.5,291.0Z" fill="#56a900"/><path d="M271.5,296.2 L277.1,298.5 L280.6,296.0 L275.0,293.7Z" fill="#55aa00"/><path d="M268.0,299.3 L273.6,301.7 L277.1,298.5 L271.5,296.2Z" fill="#54ab00"/><path d="M264.5,301.7 L270.1,304.1 L273.6,301.7 L268.0,299.3Z" fill="#52ad00"/><path d="M261.0,303.7 L266.6,306.2 L270.1,304.1 L264.5,301.7Z" fill="#52ad00"/><path d="M257.5,305.7 L263.1,308.2 L266.6,306.2 L261.0,303.7Z" fill="#51ae00"/><path d="M254.0,307.1 L259.6,309.6 L263.1,308.2 L257.5,305.7Z" fill="#51ae00"/><path d="M250.5,308.3 L256.1,310.8 L259.6,309.6 L254.0,307.1Z" fill="#52ad00"/><path d="M246.9,309.4 L252.6,311.9 L256.1,310.8 L250.5,308.3Z" fill="#52ad00"/><path d="M243.4,310.5 L249.0,313.0 L252.6,311.9 L246.9,309.4Z" fill="#53ac00"/><path d="M239.9,311.8 L245.5,314.4 L249.0,313.0 L243.4,310.5Z" fill="#54ab00"/><path d="M236.4,313.6 L242.0,316.2 L245.5,314.4 L239.9,311.8Z" fill="#54ab00"/><path d="M232.9,315.6 L238.5,318.2 L242.0,316.2 L236.4,313.6Z" fill="#54ab00"/><path d="M229.4,317.5 L235.0,320.1 L238.5,318.2 L232.9,315.6Z" fill="#53ac00"/><path d="M225.9,319.6 L231.5,322.1 L235.0,320.1 L229.4,317.5Z" fill="#53ac00"/><path d="M222.4,321.7 L228.0,324.2 L231.5,322.1 L225.9,319.6Z" fill="#52ad00"/><path d="M218.9,323.9 L224.5,326.3 L228.0,324.2 L222.4,321.7Z" fill="#52ad00"/><path d="M215.3,326.1 L221.0,328.5 L224.5,326.3 L218.9,323.9Z" fill="#51ae00"/><path d="M211.8,328.2 L217.5,330.5 L221.0,328.5 L215.3,326.1Z" fill="#51ae00"/><path d="M343.8,240.3 L349.4,241.0 L353.0,237.7 L347.3,237.2Z" fill="#768900"/><path d="M340.3,243.9 L345.9,244.6 L349.4,241.0 L343.8,240.3Z" fill="#748b00"/><path d="M336.8,247.4 L342.4,248.2 L345.9,244.6 L340.3,243.9Z" fill="#718e00"/><path d="M333.3,250.8 L338.9,251.8 L342.4,248.2 L336.8,247.4Z" fill="#6f9000"/><path d="M329.8,254.2 L335.4,255.3 L338.9,251.8 L333.3,250.8Z" fill="#6d9200"/><path d="M326.3,257.6 L331.9,258.7 L335.4,255.3 L329.8,254.2Z" fill="#6b9400"/><path d="M322.8,261.0 L328.4,262.1 L331.9,258.7 L326.3,257.6Z" fill="#689700"/><path d="M319.3,264.1 L324.9,265.3 L328.4,262.1 L322.8,261.0Z" fill="#669900"/><path d="M315.7,267.1 L321.4,268.4 L324.9,265.3 L319.3,264.1Z" fill="#659a00"/><path d="M312.2,270.3 L317.9,271.7 L321.4,268.4 L315.7,267.1Z" fill="#639c00"/><path d="M308.7,273.3 L314.3,274.6 L317.9,271.7 L312.2,270.3Z" fill="#619e00"/><path d="M305.2,276.2 L310.8,277.7 L314.3,274.6 L308.7,273.3Z" fill="#5fa000"/><path d="M301.7,280.0 L307.3,281.6 L310.8,277.7 L305.2,276.2Z" fill="#5da200"/><path d="M298.2,282.9 L303.8,284.4 L307.3,281.6 L301.7,280.0Z" fill="#5ba400"/><path d="M294.7,285.3 L300.3,286.9 L303.8,284.4 L298.2,282.9Z" fill="#5aa500"/><path d="M291.2,287.7 L296.8,289.4 L300.3,286.9 L294.7,285.3Z" fill="#59a600"/><path d="M287.7,290.5 L293.3,292.3 L296.8,289.4 L291.2,287.7Z" fill="#58a700"/><path d="M284.2,293.2 L289.8,295.1 L293.3,292.3 L287.7,290.5Z" fill="#56a900"/><path d="M280.6,296.0 L286.3,297.9 L289.8,295.1 L284.2,293.2Z" fill="#55aa00"/><path d="M277.1,298.5 L282.7,300.5 L286.3,297.9 L280.6,296.0Z" fill="#54ab00"/><path d="M273.6,301.7 L279.2,303.9 L282.7,300.5 L277.1,298.5Z" fill="#52ad00"/><path d="M270.1,304.1 L275.7,306.2 L279.2,303.9 L273.6,301.7Z" fill="#51ae00"/><path d="M266.6,306.2 L272.2,308.4 L275.7,306.2 L270.1,304.1Z" fill="#50af00"/><path d="M263.1,308.2 L268.7,310.5 L272.2,308.4 L266.6,306.2Z" fill="#4fb000"/><path d="M259.6,309.6 L265.2,311.9 L268.7,310.5 L263.1,308.2Z" fill="#4fb000"/><path d="M256.1,310.8 L261.7,313.1 L265.2,311.9 L259.6,309.6Z" fill="#50af00"/><path d="M252.6,311.9 L258.2,314.3 L261.7,313.1 L256.1,310.8Z" fill="#51ae00"/><path d="M249.0,313.0 L254.7,315.4 L258.2,314.3 L252.6,311.9Z" fill="#51ae00"/><path d="M245.5,314.4 L251.2,316.9 L254.7,315.4 L249.0,313.0Z" fill="#52ad00"/><path d="M242.0,316.2 L247.6,318.7 L251.2,316.9 L245.5,314.4Z" fill="#52ad00"/><path d="M238.5,318.2 L244.1,320.6 L247.6,318.7 L242.0,316.2Z" fill="#52ad00"/><path d="M235.0,320.1 L240.6,322.5 L244.1,320.6 L238.5,318.2Z" fill="#51ae00"/><path d="M231.5,322.1 L237.1,324.5 L240.6,322.5 L235.0,320.1Z" fill="#51ae00"/><path d="M228.0,324.2 L233.6,326.6 L237.1,324.5 L231.5,322.1Z" fill="#51ae00"/><path d="M224.5,326.3 L230.1,328.7 L233.6,326.6 L228.0,324.2Z" fill="#50af00"/><path d="M221.0,328.5 L226.6,330.8 L230.1,328.7 L224.5,326.3Z" fill="#4fb000"/><path d="M217.5,330.5 L223.1,332.8 L226.6,330.8 L221.0,328.5Z" fill="#4fb000"/><path d="M349.4,241.0 L355.1,241.4 L358.6,237.9 L353.0,237.7Z" fill="#768900"/><path d="M345.9,244.6 L351.5,245.1 L355.1,241.4 L349.4,241.0Z" fill="#748b00"/><path d="M342.4,248.2 L348.0,248.8 L351.5,245.1 L345.9,244.6Z" fill="#728d00"/><path d="M338.9,251.8 L344.5,252.4 L348.0,248.8 L342.4,248.2Z" fill="#6f9000"/><path d="M335.4,255.3 L341.0,256.0 L344.5,252.4 L338.9,251.8Z" fill="#6d9200"/><path d="M331.9,258.7 L337.5,259.5 L341.0,256.0 L335.4,255.3Z" fill="#6b9400"/><path d="M328.4,262.1 L334.0,263.0 L337.5,259.5 L331.9,258.7Z" fill="#689700"/><path d="M324.9,265.3 L330.5,266.2 L334.0,263.0 L328.4,262.1Z" fill="#669900"/><path d="M321.4,268.4 L327.0,269.3 L330.5,266.2 L324.9,265.3Z" fill="#649b00"/><path d="M317.9,271.7 L323.5,272.7 L327.0,269.3 L321.4,268.4Z" fill="#639c00"/><path d="M314.3,274.6 L320.0,275.7 L323.5,272.7 L317.9,271.7Z" fill="#619e00"/><path d="M310.8,277.7 L316.4,278.9 L320.0,275.7 L314.3,274.6Z" fill="#5fa000"/><path d="M307.3,281.6 L312.9,282.8 L316.4,278.9 L310.8,277.7Z" fill="#5da200"/><path d="M303.8,284.4 L309.4,285.7 L312.9,282.8 L307.3,281.6Z" fill="#5ba400"/><path d="M300.3,286.9 L305.9,288.2 L309.4,285.7 L303.8,284.4Z" fill="#59a600"/><path d="M296.8,289.4 L302.4,290.9 L305.9,288.2 L300.3,286.9Z" fill="#58a700"/><path d="M293.3,292.3 L298.9,293.8 L302.4,290.9 L296.8,289.4Z" fill="#57a800"/><path d="M289.8,295.1 L295.4,296.7 L298.9,293.8 L293.3,292.3Z" fill="#55aa00"/><path d="M286.3,297.9 L291.9,299.7 L295.4,296.7 L289.8,295.1Z" fill="#54ab00"/><path d="M282.7,300.5 L288.4,302.3 L291.9,299.7 L286.3,297.9Z" fill="#53ac00"/><path d="M279.2,303.9 L284.9,305.8 L288.4,302.3 L282.7,300.5Z" fill="#51ae00"/><path d="M275.7,306.2 L281.3,308.2 L284.9,305.8 L279.2,303.9Z" fill="#4fb000"/><path d="M272.2,308.4 L277.8,310.4 L281.3,308.2 L275.7,306.2Z" fill="#4fb000"/><path d="M268.7,310.5 L274.3,312.5 L277.8,310.4 L272.2,308.4Z" fill="#4eb100"/><path d="M265.2,311.9 L270.8,314.0 L274.3,312.5 L268.7,310.5Z" fill="#4eb100"/><path d="M261.7,313.1 L267.3,315.3 L270.8,314.0 L265.2,311.9Z" fill="#4eb100"/><path d="M258.2,314.3 L263.8,316.5 L267.3,315.3 L261.7,313.1Z" fill="#4fb000"/><path d="M254.7,315.4 L260.3,317.7 L263.8,316.5 L258.2,314.3Z" fill="#50af00"/><path d="M251.2,316.9 L256.8,319.2 L260.3,317.7 L254.7,315.4Z" fill="#50af00"/><path d="M247.6,318.7 L253.3,321.1 L256.8,319.2 L251.2,316.9Z" fill="#50af00"/><path d="M244.1,320.6 L249.7,323.0 L253.3,321.1 L247.6,318.7Z" fill="#50af00"/><path d="M240.6,322.5 L246.2,324.9 L249.7,323.0 L244.1,320.6Z" fill="#4fb000"/><path d="M237.1,324.5 L242.7,326.9 L246.2,324.9 L240.6,322.5Z" fill="#4fb000"/><path d="M233.6,326.6 L239.2,328.9 L242.7,326.9 L237.1,324.5Z" fill="#4fb000"/><path d="M230.1,328.7 L235.7,331.0 L239.2,328.9 L233.6,326.6Z" fill="#4eb100"/><path d="M226.6,330.8 L232.2,333.1 L235.7,331.0 L230.1,328.7Z" fill="#4eb100"/><path d="M223.1,332.8 L228.7,335.0 L232.2,333.1 L226.6,330.8Z" fill="#4db200"/><path d="M355.1,241.4 L360.7,241.6 L364.2,238.1 L358.6,237.9Z" fill="#778800"/><path d="M351.5,245.1 L357.2,245.5 L360.7,241.6 L355.1,241.4Z" fill="#758a00"/><path d="M348.0,248.8 L353.7,249.2 L357.2,245.5 L351.5,245.1Z" fill="#728d00"/><path d="M344.5,252.4 L350.1,252.9 L353.7,249.2 L348.0,248.8Z" fill="#708f00"/><path d="M341.0,256.0 L346.6,256.6 L350.1,252.9 L344.5,252.4Z" fill="#6d9200"/><path d="M337.5,259.5 L343.1,260.3 L346.6,256.6 L341.0,256.0Z" fill="#6b9400"/><path d="M334.0,263.0 L339.6,263.9 L343.1,260.3 L337.5,259.5Z" fill="#699600"/><path d="M330.5,266.2 L336.1,267.1 L339.6,263.9 L334.0,263.0Z" fill="#669900"/><path d="M327.0,269.3 L332.6,270.4 L336.1,267.1 L330.5,266.2Z" fill="#649b00"/><path d="M323.5,272.7 L329.1,273.9 L332.6,270.4 L327.0,269.3Z" fill="#629d00"/><path d="M320.0,275.7 L325.6,276.9 L329.1,273.9 L323.5,272.7Z" fill="#619e00"/><path d="M316.4,278.9 L322.1,280.4 L325.6,276.9 L320.0,275.7Z" fill="#5fa000"/><path d="M312.9,282.8 L318.6,284.3 L322.1,280.4 L316.4,278.9Z" fill="#5ca300"/><path d="M309.4,285.7 L315.0,287.2 L318.6,284.3 L312.9,282.8Z" fill="#5aa500"/><path d="M305.9,288.2 L311.5,289.8 L315.0,287.2 L309.4,285.7Z" fill="#59a600"/><path d="M302.4,290.9 L308.0,292.7 L311.5,289.8 L305.9,288.2Z" fill="#58a700"/><path d="M298.9,293.8 L304.5,295.7 L308.0,292.7 L302.4,290.9Z" fill="#56a900"/><path d="M295.4,296.7 L301.0,298.8 L304.5,295.7 L298.9,293.8Z" fill="#54ab00"/><path d="M291.9,299.7 L297.5,301.8 L301.0,298.8 L295.4,296.7Z" fill="#53ac00"/><path d="M288.4,302.3 L294.0,304.6 L297.5,301.8 L291.9,299.7Z" fill="#51ae00"/><path d="M284.9,305.8 L290.5,308.2 L294.0,304.6 L288.4,302.3Z" fill="#4fb000"/><path d="M281.3,308.2 L287.0,310.7 L290.5,308.2 L284.9,305.8Z" fill="#4eb100"/><path d="M277.8,310.4 L283.4,313.0 L287.0,310.7 L281.3,308.2Z" fill="#4db200"/><path d="M274.3,312.5 L279.9,315.2 L283.4,313.0 L277.8,310.4Z" fill="#4cb300"/><path d="M270.8,314.0 L276.4,316.8 L279.9,315.2 L274.3,312.5Z" fill="#4cb300"/><path d="M267.3,315.3 L272.9,318.1 L276.4,316.8 L270.8,314.0Z" fill="#4cb300"/><path d="M263.8,316.5 L269.4,319.5 L272.9,318.1 L267.3,315.3Z" fill="#4db200"/><path d="M260.3,317.7 L265.9,320.8 L269.4,319.5 L263.8,316.5Z" fill="#4db200"/><path d="M256.8,319.2 L262.4,322.4 L265.9,320.8 L260.3,317.7Z" fill="#4eb100"/><path d="M253.3,321.1 L258.9,324.3 L262.4,322.4 L256.8,319.2Z" fill="#4eb100"/><path d="M249.7,323.0 L255.4,326.3 L258.9,324.3 L253.3,321.1Z" fill="#4db200"/><path d="M246.2,324.9 L251.9,328.2 L255.4,326.3 L249.7,323.0Z" fill="#4db200"/><path d="M242.7,326.9 L248.3,330.2 L251.9,328.2 L246.2,324.9Z" fill="#4db200"/><path d="M239.2,328.9 L244.8,332.3 L248.3,330.2 L242.7,326.9Z" fill="#4cb300"/><path d="M235.7,331.0 L241.3,334.4 L244.8,332.3 L239.2,328.9Z" fill="#4cb300"/><path d="M232.2,333.1 L237.8,336.5 L241.3,334.4 L235.7,331.0Z" fill="#4bb400"/><path d="M360.7,241.6 L366.3,241.8 L369.8,238.1 L364.2,238.1Z" fill="#788700"/><path d="M357.2,245.5 L362.8,245.7 L366.3,241.8 L360.7,241.6Z" fill="#768900"/><path d="M353.7,249.2 L359.3,249.6 L362.8,245.7 L357.2,245.5Z" fill="#738c00"/><path d="M350.1,252.9 L355.8,253.4 L359.3,249.6 L353.7,249.2Z" fill="#708f00"/><path d="M346.6,256.6 L352.3,257.1 L355.8,253.4 L350.1,252.9Z" fill="#6e9100"/><path d="M343.1,260.3 L348.7,260.9 L352.3,257.1 L346.6,256.6Z" fill="#6b9400"/><path d="M339.6,263.9 L345.2,264.6 L348.7,260.9 L343.1,260.3Z" fill="#699600"/><path d="M336.1,267.1 L341.7,267.9 L345.2,264.6 L339.6,263.9Z" fill="#679800"/><path d="M332.6,270.4 L338.2,271.4 L341.7,267.9 L336.1,267.1Z" fill="#659a00"/><path d="M329.1,273.9 L334.7,275.0 L338.2,271.4 L332.6,270.4Z" fill="#629d00"/><path d="M325.6,276.9 L331.2,278.0 L334.7,275.0 L329.1,273.9Z" fill="#609f00"/><path d="M322.1,280.4 L327.7,281.7 L331.2,278.0 L325.6,276.9Z" fill="#5ea100"/><path d="M318.6,284.3 L324.2,285.6 L327.7,281.7 L322.1,280.4Z" fill="#5ca300"/><path d="M315.0,287.2 L320.7,288.7 L324.2,285.6 L318.6,284.3Z" fill="#59a600"/><path d="M311.5,289.8 L317.1,291.4 L320.7,288.7 L315.0,287.2Z" fill="#58a700"/><path d="M308.0,292.7 L313.6,294.4 L317.1,291.4 L311.5,289.8Z" fill="#57a800"/><path d="M304.5,295.7 L310.1,297.6 L313.6,294.4 L308.0,292.7Z" fill="#55aa00"/><path d="M301.0,298.8 L306.6,300.8 L310.1,297.6 L304.5,295.7Z" fill="#53ac00"/><path d="M297.5,301.8 L303.1,304.0 L306.6,300.8 L301.0,298.8Z" fill="#51ae00"/><path d="M294.0,304.6 L299.6,306.9 L303.1,304.0 L297.5,301.8Z" fill="#50af00"/><path d="M290.5,308.2 L296.1,310.7 L299.6,306.9 L294.0,304.6Z" fill="#4eb100"/><path d="M287.0,310.7 L292.6,313.3 L296.1,310.7 L290.5,308.2Z" fill="#4cb300"/><path d="M283.4,313.0 L289.1,315.7 L292.6,313.3 L287.0,310.7Z" fill="#4bb400"/><path d="M279.9,315.2 L285.6,318.0 L289.1,315.7 L283.4,313.0Z" fill="#4ab500"/><path d="M276.4,316.8 L282.0,319.6 L285.6,318.0 L279.9,315.2Z" fill="#4ab500"/><path d="M272.9,318.1 L278.5,321.1 L282.0,319.6 L276.4,316.8Z" fill="#4ab500"/><path d="M269.4,319.5 L275.0,322.6 L278.5,321.1 L272.9,318.1Z" fill="#4ab500"/><path d="M265.9,320.8 L271.5,324.0 L275.0,322.6 L269.4,319.5Z" fill="#4bb400"/><path d="M262.4,322.4 L268.0,325.7 L271.5,324.0 L265.9,320.8Z" fill="#4bb400"/><path d="M258.9,324.3 L264.5,327.7 L268.0,325.7 L262.4,322.4Z" fill="#4bb400"/><path d="M255.4,326.3 L261.0,329.7 L264.5,327.7 L258.9,324.3Z" fill="#4bb400"/><path d="M251.9,328.2 L257.5,331.7 L261.0,329.7 L255.4,326.3Z" fill="#4ab500"/><path d="M248.3,330.2 L254.0,333.8 L257.5,331.7 L251.9,328.2Z" fill="#4ab500"/><path d="M244.8,332.3 L250.5,335.9 L254.0,333.8 L248.3,330.2Z" fill="#49b600"/><path d="M241.3,334.4 L246.9,338.0 L250.5,335.9 L244.8,332.3Z" fill="#49b600"/><path d="M237.8,336.5 L243.4,340.1 L246.9,338.0 L241.3,334.4Z" fill="#48b700"/><path d="M366.3,241.8 L371.9,242.0 L375.4,238.1 L369.8,238.1Z" fill="#7a8500"/><path d="M362.8,245.7 L368.4,246.0 L371.9,242.0 L366.3,241.8Z" fill="#778800"/><path d="M359.3,249.6 L364.9,249.9 L368.4,246.0 L362.8,245.7Z" fill="#748b00"/><path d="M355.8,253.4 L361.4,253.8 L364.9,249.9 L359.3,249.6Z" fill="#718e00"/><path d="M352.3,257.1 L357.9,257.6 L361.4,253.8 L355.8,253.4Z" fill="#6f9000"/><path d="M348.7,260.9 L354.4,261.5 L357.9,257.6 L352.3,257.1Z" fill="#6c9300"/><path d="M345.2,264.6 L350.8,265.2 L354.4,261.5 L348.7,260.9Z" fill="#699600"/><path d="M341.7,267.9 L347.3,268.6 L350.8,265.2 L345.2,264.6Z" fill="#679800"/><path d="M338.2,271.4 L343.8,272.2 L347.3,268.6 L341.7,267.9Z" fill="#659a00"/><path d="M334.7,275.0 L340.3,275.9 L343.8,272.2 L338.2,271.4Z" fill="#629d00"/><path d="M331.2,278.0 L336.8,279.0 L340.3,275.9 L334.7,275.0Z" fill="#609f00"/><path d="M327.7,281.7 L333.3,283.0 L336.8,279.0 L331.2,278.0Z" fill="#5ea100"/><path d="M324.2,285.6 L329.8,287.0 L333.3,283.0 L327.7,281.7Z" fill="#5ba400"/><path d="M320.7,288.7 L326.3,290.1 L329.8,287.0 L324.2,285.6Z" fill="#59a600"/><path d="M317.1,291.4 L322.8,293.0 L326.3,290.1 L320.7,288.7Z" fill="#57a800"/><path d="M313.6,294.4 L319.3,296.2 L322.8,293.0 L317.1,291.4Z" fill="#56a900"/><path d="M310.1,297.6 L315.7,299.5 L319.3,296.2 L313.6,294.4Z" fill="#54ab00"/><path d="M306.6,300.8 L312.2,302.9 L315.7,299.5 L310.1,297.6Z" fill="#52ad00"/><path d="M303.1,304.0 L308.7,306.1 L312.2,302.9 L306.6,300.8Z" fill="#50af00"/><path d="M299.6,306.9 L305.2,309.2 L308.7,306.1 L303.1,304.0Z" fill="#4eb100"/><path d="M296.1,310.7 L301.7,313.1 L305.2,309.2 L299.6,306.9Z" fill="#4cb300"/><path d="M292.6,313.3 L298.2,315.8 L301.7,313.1 L296.1,310.7Z" fill="#4ab500"/><path d="M289.1,315.7 L294.7,318.4 L298.2,315.8 L292.6,313.3Z" fill="#49b600"/><path d="M285.6,318.0 L291.2,320.7 L294.7,318.4 L289.1,315.7Z" fill="#48b700"/><path d="M282.0,319.6 L287.7,322.5 L291.2,320.7 L285.6,318.0Z" fill="#48b700"/><path d="M278.5,321.1 L284.1,324.1 L287.7,322.5 L282.0,319.6Z" fill="#48b700"/><path d="M275.0,322.6 L280.6,325.6 L284.1,324.1 L278.5,321.1Z" fill="#48b700"/><path d="M271.5,324.0 L277.1,327.2 L280.6,325.6 L275.0,322.6Z" fill="#48b700"/><path d="M268.0,325.7 L273.6,329.0 L277.1,327.2 L271.5,324.0Z" fill="#48b700"/><path d="M264.5,327.7 L270.1,331.1 L273.6,329.0 L268.0,325.7Z" fill="#48b700"/><path d="M261.0,329.7 L266.6,333.2 L270.1,331.1 L264.5,327.7Z" fill="#47b800"/><path d="M257.5,331.7 L263.1,335.3 L266.6,333.2 L261.0,329.7Z" fill="#47b800"/><path d="M254.0,333.8 L259.6,337.4 L263.1,335.3 L257.5,331.7Z" fill="#46b900"/><path d="M250.5,335.9 L256.1,339.5 L259.6,337.4 L254.0,333.8Z" fill="#46b900"/><path d="M246.9,338.0 L252.6,341.6 L256.1,339.5 L250.5,335.9Z" fill="#45ba00"/><path d="M243.4,340.1 L249.0,343.8 L252.6,341.6 L246.9,338.0Z" fill="#45ba00"/><path d="M371.9,242.0 L377.5,242.2 L381.0,238.3 L375.4,238.1Z" fill="#7b8400"/><path d="M368.4,246.0 L374.0,246.2 L377.5,242.2 L371.9,242.0Z" fill="#788700"/><path d="M364.9,249.9 L370.5,250.2 L374.0,246.2 L368.4,246.0Z" fill="#758a00"/><path d="M361.4,253.8 L367.0,254.1 L370.5,250.2 L364.9,249.9Z" fill="#728d00"/><path d="M357.9,257.6 L363.5,258.0 L367.0,254.1 L361.4,253.8Z" fill="#6f9000"/><path d="M354.4,261.5 L360.0,262.0 L363.5,258.0 L357.9,257.6Z" fill="#6d9200"/><path d="M350.8,265.2 L356.5,265.8 L360.0,262.0 L354.4,261.5Z" fill="#6a9500"/><path d="M347.3,268.6 L353.0,269.3 L356.5,265.8 L350.8,265.2Z" fill="#679800"/><path d="M343.8,272.2 L349.4,273.0 L353.0,269.3 L347.3,268.6Z" fill="#659a00"/><path d="M340.3,275.9 L345.9,276.7 L349.4,273.0 L343.8,272.2Z" fill="#639c00"/><path d="M336.8,279.0 L342.4,280.0 L345.9,276.7 L340.3,275.9Z" fill="#609f00"/><path d="M333.3,283.0 L338.9,284.3 L342.4,280.0 L336.8,279.0Z" fill="#5ea100"/><path d="M329.8,287.0 L335.4,288.2 L338.9,284.3 L333.3,283.0Z" fill="#5ba400"/><path d="M326.3,290.1 L331.9,291.5 L335.4,288.2 L329.8,287.0Z" fill="#58a700"/><path d="M322.8,293.0 L328.4,294.5 L331.9,291.5 L326.3,290.1Z" fill="#57a800"/><path d="M319.3,296.2 L324.9,298.0 L328.4,294.5 L322.8,293.0Z" fill="#55aa00"/><path d="M315.7,299.5 L321.4,301.4 L324.9,298.0 L319.3,296.2Z" fill="#53ac00"/><path d="M312.2,302.9 L317.8,304.9 L321.4,301.4 L315.7,299.5Z" fill="#51ae00"/><path d="M308.7,306.1 L314.3,308.3 L317.8,304.9 L312.2,302.9Z" fill="#4fb000"/><path d="M305.2,309.2 L310.8,311.6 L314.3,308.3 L308.7,306.1Z" fill="#4db200"/><path d="M301.7,313.1 L307.3,315.5 L310.8,311.6 L305.2,309.2Z" fill="#4ab500"/><path d="M298.2,315.8 L303.8,318.4 L307.3,315.5 L301.7,313.1Z" fill="#48b700"/><path d="M294.7,318.4 L300.3,321.1 L303.8,318.4 L298.2,315.8Z" fill="#47b800"/><path d="M291.2,320.7 L296.8,323.5 L300.3,321.1 L294.7,318.4Z" fill="#46b900"/><path d="M287.7,322.5 L293.3,325.3 L296.8,323.5 L291.2,320.7Z" fill="#45ba00"/><path d="M284.1,324.1 L289.8,327.0 L293.3,325.3 L287.7,322.5Z" fill="#45ba00"/><path d="M280.6,325.6 L286.3,328.7 L289.8,327.0 L284.1,324.1Z" fill="#45ba00"/><path d="M277.1,327.2 L282.7,330.4 L286.3,328.7 L280.6,325.6Z" fill="#45ba00"/><path d="M273.6,329.0 L279.2,332.4 L282.7,330.4 L277.1,327.2Z" fill="#45ba00"/><path d="M270.1,331.1 L275.7,334.6 L279.2,332.4 L273.6,329.0Z" fill="#45ba00"/><path d="M266.6,333.2 L272.2,336.7 L275.7,334.6 L270.1,331.1Z" fill="#44bb00"/><path d="M263.1,335.3 L268.7,338.9 L272.2,336.7 L266.6,333.2Z" fill="#44bb00"/><path d="M259.6,337.4 L265.2,341.0 L268.7,338.9 L263.1,335.3Z" fill="#43bc00"/><path d="M256.1,339.5 L261.7,343.2 L265.2,341.0 L259.6,337.4Z" fill="#43bc00"/><path d="M252.6,341.6 L258.2,345.4 L261.7,343.2 L256.1,339.5Z" fill="#42bd00"/><path d="M249.0,343.8 L254.7,347.5 L258.2,345.4 L252.6,341.6Z" fill="#41be00"/><path d="M381.0,238.3 L386.7,238.5 L390.2,234.9 L384.5,234.9Z" fill="#7e8100"/><path d="M377.5,242.2 L383.1,242.5 L386.7,238.5 L381.0,238.3Z" fill="#7c8300"/><path d="M374.0,246.2 L379.6,246.5 L383.1,242.5 L377.5,242.2Z" fill="#798600"/><path d="M370.5,250.2 L376.1,250.6 L379.6,246.5 L374.0,246.2Z" fill="#768900"/><path d="M367.0,254.1 L372.6,254.5 L376.1,250.6 L370.5,250.2Z" fill="#738c00"/><path d="M363.5,258.0 L369.1,258.5 L372.6,254.5 L367.0,254.1Z" fill="#708f00"/><path d="M360.0,262.0 L365.6,262.5 L369.1,258.5 L363.5,258.0Z" fill="#6d9200"/><path d="M356.5,265.8 L362.1,266.3 L365.6,262.5 L360.0,262.0Z" fill="#6a9500"/><path d="M353.0,269.3 L358.6,269.9 L362.1,266.3 L356.5,265.8Z" fill="#689700"/><path d="M349.4,273.0 L355.1,273.7 L358.6,269.9 L353.0,269.3Z" fill="#659a00"/><path d="M345.9,276.7 L351.5,277.5 L355.1,273.7 L349.4,273.0Z" fill="#639c00"/><path d="M342.4,280.0 L348.0,280.9 L351.5,277.5 L345.9,276.7Z" fill="#609f00"/><path d="M338.9,284.3 L344.5,285.4 L348.0,280.9 L342.4,280.0Z" fill="#5ea100"/><path d="M335.4,288.2 L341.0,289.5 L344.5,285.4 L338.9,284.3Z" fill="#5ba400"/><path d="M331.9,291.5 L337.5,292.9 L341.0,289.5 L335.4,288.2Z" fill="#58a700"/><path d="M328.4,294.5 L334.0,296.1 L337.5,292.9 L331.9,291.5Z" fill="#56a900"/><path d="M324.9,298.0 L330.5,299.7 L334.0,296.1 L328.4,294.5Z" fill="#54ab00"/><path d="M321.4,301.4 L327.0,303.3 L330.5,299.7 L324.9,298.0Z" fill="#52ad00"/><path d="M317.8,304.9 L323.5,307.0 L327.0,303.3 L321.4,301.4Z" fill="#4fb000"/><path d="M314.3,308.3 L320.0,310.4 L323.5,307.0 L317.8,304.9Z" fill="#4db200"/><path d="M310.8,311.6 L316.4,314.0 L320.0,310.4 L314.3,308.3Z" fill="#4bb400"/><path d="M307.3,315.5 L312.9,318.0 L316.4,314.0 L310.8,311.6Z" fill="#48b700"/><path d="M303.8,318.4 L309.4,320.9 L312.9,318.0 L307.3,315.5Z" fill="#46b900"/><path d="M300.3,321.1 L305.9,323.7 L309.4,320.9 L303.8,318.4Z" fill="#45ba00"/><path d="M296.8,323.5 L302.4,326.2 L305.9,323.7 L300.3,321.1Z" fill="#44bb00"/><path d="M293.3,325.3 L298.9,328.1 L302.4,326.2 L296.8,323.5Z" fill="#43bc00"/><path d="M289.8,327.0 L295.4,329.9 L298.9,328.1 L293.3,325.3Z" fill="#43bc00"/><path d="M286.3,328.7 L291.9,331.8 L295.4,329.9 L289.8,327.0Z" fill="#43bc00"/><path d="M282.7,330.4 L288.4,333.6 L291.9,331.8 L286.3,328.7Z" fill="#43bc00"/><path d="M279.2,332.4 L284.8,335.7 L288.4,333.6 L282.7,330.4Z" fill="#42bd00"/><path d="M275.7,334.6 L281.3,338.0 L284.8,335.7 L279.2,332.4Z" fill="#42bd00"/><path d="M272.2,336.7 L277.8,340.2 L281.3,338.0 L275.7,334.6Z" fill="#41be00"/><path d="M268.7,338.9 L274.3,342.4 L277.8,340.2 L272.2,336.7Z" fill="#41be00"/><path d="M265.2,341.0 L270.8,344.7 L274.3,342.4 L268.7,338.9Z" fill="#40bf00"/><path d="M261.7,343.2 L267.3,346.9 L270.8,344.7 L265.2,341.0Z" fill="#3fc000"/><path d="M258.2,345.4 L263.8,349.1 L267.3,346.9 L261.7,343.2Z" fill="#3fc000"/><path d="M254.7,347.5 L260.3,351.3 L263.8,349.1 L258.2,345.4Z" fill="#3ec100"/><path d="M386.7,238.5 L392.3,238.6 L395.8,234.9 L390.2,234.9Z" fill="#7f8000"/><path d="M383.1,242.5 L388.8,242.7 L392.3,238.6 L386.7,238.5Z" fill="#7d8200"/><path d="M379.6,246.5 L385.2,246.8 L388.8,242.7 L383.1,242.5Z" fill="#7a8500"/><path d="M376.1,250.6 L381.7,250.8 L385.2,246.8 L379.6,246.5Z" fill="#778800"/><path d="M372.6,254.5 L378.2,254.8 L381.7,250.8 L376.1,250.6Z" fill="#748b00"/><path d="M369.1,258.5 L374.7,258.8 L378.2,254.8 L372.6,254.5Z" fill="#718e00"/><path d="M365.6,262.5 L371.2,262.9 L374.7,258.8 L369.1,258.5Z" fill="#6e9100"/><path d="M362.1,266.3 L367.7,266.7 L371.2,262.9 L365.6,262.5Z" fill="#6b9400"/><path d="M358.6,269.9 L364.2,270.3 L367.7,266.7 L362.1,266.3Z" fill="#689700"/><path d="M355.1,273.7 L360.7,274.3 L364.2,270.3 L358.6,269.9Z" fill="#669900"/><path d="M351.5,277.5 L357.2,278.2 L360.7,274.3 L355.1,273.7Z" fill="#639c00"/><path d="M348.0,280.9 L353.7,281.6 L357.2,278.2 L351.5,277.5Z" fill="#619e00"/><path d="M344.5,285.4 L350.1,286.5 L353.7,281.6 L348.0,280.9Z" fill="#5ea100"/><path d="M341.0,289.5 L346.6,290.6 L350.1,286.5 L344.5,285.4Z" fill="#5aa500"/><path d="M337.5,292.9 L343.1,294.1 L346.6,290.6 L341.0,289.5Z" fill="#58a700"/><path d="M334.0,296.1 L339.6,297.5 L343.1,294.1 L337.5,292.9Z" fill="#56a900"/><path d="M330.5,299.7 L336.1,301.4 L339.6,297.5 L334.0,296.1Z" fill="#53ac00"/><path d="M327.0,303.3 L332.6,305.2 L336.1,301.4 L330.5,299.7Z" fill="#51ae00"/><path d="M323.5,307.0 L329.1,309.0 L332.6,305.2 L327.0,303.3Z" fill="#4eb100"/><path d="M320.0,310.4 L325.6,312.5 L329.1,309.0 L323.5,307.0Z" fill="#4cb300"/><path d="M316.4,314.0 L322.1,316.3 L325.6,312.5 L320.0,310.4Z" fill="#49b600"/><path d="M312.9,318.0 L318.5,320.4 L322.1,316.3 L316.4,314.0Z" fill="#47b800"/><path d="M309.4,320.9 L315.0,323.4 L318.5,320.4 L312.9,318.0Z" fill="#44bb00"/><path d="M305.9,323.7 L311.5,326.3 L315.0,323.4 L309.4,320.9Z" fill="#43bc00"/><path d="M302.4,326.2 L308.0,328.9 L311.5,326.3 L305.9,323.7Z" fill="#42bd00"/><path d="M298.9,328.1 L304.5,330.9 L308.0,328.9 L302.4,326.2Z" fill="#41be00"/><path d="M295.4,329.9 L301.0,332.8 L304.5,330.9 L298.9,328.1Z" fill="#41be00"/><path d="M291.9,331.8 L297.5,334.7 L301.0,332.8 L295.4,329.9Z" fill="#40bf00"/><path d="M288.4,333.6 L294.0,336.7 L297.5,334.7 L291.9,331.8Z" fill="#40bf00"/><path d="M284.8,335.7 L290.5,338.9 L294.0,336.7 L288.4,333.6Z" fill="#40bf00"/><path d="M281.3,338.0 L287.0,341.3 L290.5,338.9 L284.8,335.7Z" fill="#3fc000"/><path d="M277.8,340.2 L283.4,343.7 L287.0,341.3 L281.3,338.0Z" fill="#3ec100"/><path d="M274.3,342.4 L279.9,346.0 L283.4,343.7 L277.8,340.2Z" fill="#3dc200"/><path d="M270.8,344.7 L276.4,348.3 L279.9,346.0 L274.3,342.4Z" fill="#3dc200"/><path d="M267.3,346.9 L272.9,350.6 L276.4,348.3 L270.8,344.7Z" fill="#3cc300"/><path d="M263.8,349.1 L269.4,352.8 L272.9,350.6 L267.3,346.9Z" fill="#3bc400"/><path d="M260.3,351.3 L265.9,355.1 L269.4,352.8 L263.8,349.1Z" fill="#3bc400"/><path d="M392.3,238.6 L397.9,238.6 L401.4,234.9 L395.8,234.9Z" fill="#807f00"/><path d="M388.8,242.7 L394.4,242.8 L397.9,238.6 L392.3,238.6Z" fill="#7e8100"/><path d="M385.2,246.8 L390.9,246.9 L394.4,242.8 L388.8,242.7Z" fill="#7b8400"/><path d="M381.7,250.8 L387.4,251.0 L390.9,246.9 L385.2,246.8Z" fill="#788700"/><path d="M378.2,254.8 L383.8,255.0 L387.4,251.0 L381.7,250.8Z" fill="#758a00"/><path d="M374.7,258.8 L380.3,259.1 L383.8,255.0 L378.2,254.8Z" fill="#728d00"/><path d="M371.2,262.9 L376.8,263.2 L380.3,259.1 L374.7,258.8Z" fill="#6f9000"/><path d="M367.7,266.7 L373.3,267.0 L376.8,263.2 L371.2,262.9Z" fill="#6c9300"/><path d="M364.2,270.3 L369.8,270.7 L373.3,267.0 L367.7,266.7Z" fill="#699600"/><path d="M360.7,274.3 L366.3,274.8 L369.8,270.7 L364.2,270.3Z" fill="#669900"/><path d="M357.2,278.2 L362.8,278.7 L366.3,274.8 L360.7,274.3Z" fill="#649b00"/><path d="M353.7,281.6 L359.3,282.3 L362.8,278.7 L357.2,278.2Z" fill="#619e00"/><path d="M350.1,286.5 L355.8,287.4 L359.3,282.3 L353.7,281.6Z" fill="#5ea100"/><path d="M346.6,290.6 L352.2,291.6 L355.8,287.4 L350.1,286.5Z" fill="#5aa500"/><path d="M343.1,294.1 L348.7,295.3 L352.2,291.6 L346.6,290.6Z" fill="#58a700"/><path d="M339.6,297.5 L345.2,298.9 L348.7,295.3 L343.1,294.1Z" fill="#55aa00"/><path d="M336.1,301.4 L341.7,303.0 L345.2,298.9 L339.6,297.5Z" fill="#53ac00"/><path d="M332.6,305.2 L338.2,307.0 L341.7,303.0 L336.1,301.4Z" fill="#50af00"/><path d="M329.1,309.0 L334.7,311.0 L338.2,307.0 L332.6,305.2Z" fill="#4db200"/><path d="M325.6,312.5 L331.2,314.6 L334.7,311.0 L329.1,309.0Z" fill="#4ab500"/><path d="M322.1,316.3 L327.7,318.7 L331.2,314.6 L325.6,312.5Z" fill="#48b700"/><path d="M318.5,320.4 L324.2,322.7 L327.7,318.7 L322.1,316.3Z" fill="#45ba00"/><path d="M315.0,323.4 L320.7,325.9 L324.2,322.7 L318.5,320.4Z" fill="#43bc00"/><path d="M311.5,326.3 L317.1,328.9 L320.7,325.9 L315.0,323.4Z" fill="#41be00"/><path d="M308.0,328.9 L313.6,331.5 L317.1,328.9 L311.5,326.3Z" fill="#3fc000"/><path d="M304.5,330.9 L310.1,333.6 L313.6,331.5 L308.0,328.9Z" fill="#3fc000"/><path d="M301.0,332.8 L306.6,335.6 L310.1,333.6 L304.5,330.9Z" fill="#3ec100"/><path d="M297.5,334.7 L303.1,337.7 L306.6,335.6 L301.0,332.8Z" fill="#3ec100"/><path d="M294.0,336.7 L299.6,339.8 L303.1,337.7 L297.5,334.7Z" fill="#3dc200"/><path d="M290.5,338.9 L296.1,342.1 L299.6,339.8 L294.0,336.7Z" fill="#3dc200"/><path d="M287.0,341.3 L292.6,344.6 L296.1,342.1 L290.5,338.9Z" fill="#3cc300"/><path d="M283.4,343.7 L289.1,347.1 L292.6,344.6 L287.0,341.3Z" fill="#3bc400"/><path d="M279.9,346.0 L285.6,349.5 L289.1,347.1 L283.4,343.7Z" fill="#3ac500"/><path d="M276.4,348.3 L282.0,351.9 L285.6,349.5 L279.9,346.0Z" fill="#39c600"/><path d="M272.9,350.6 L278.5,354.3 L282.0,351.9 L276.4,348.3Z" fill="#39c600"/><path d="M269.4,352.8 L275.0,356.6 L278.5,354.3 L272.9,350.6Z" fill="#38c700"/><path d="M265.9,355.1 L271.5,358.9 L275.0,356.6 L269.4,352.8Z" fill="#37c800"/><path d="M397.9,238.6 L403.5,238.7 L407.0,234.8 L401.4,234.9Z" fill="#827d00"/><path d="M394.4,242.8 L400.0,242.8 L403.5,238.7 L397.9,238.6Z" fill="#7f8000"/><path d="M390.9,246.9 L396.5,246.9 L400.0,242.8 L394.4,242.8Z" fill="#7c8300"/><path d="M387.4,251.0 L393.0,251.1 L396.5,246.9 L390.9,246.9Z" fill="#798600"/><path d="M383.8,255.0 L389.5,255.1 L393.0,251.1 L387.4,251.0Z" fill="#768900"/><path d="M380.3,259.1 L385.9,259.3 L389.5,255.1 L383.8,255.0Z" fill="#738c00"/><path d="M376.8,263.2 L382.4,263.4 L385.9,259.3 L380.3,259.1Z" fill="#708f00"/><path d="M373.3,267.0 L378.9,267.3 L382.4,263.4 L376.8,263.2Z" fill="#6d9200"/><path d="M369.8,270.7 L375.4,271.0 L378.9,267.3 L373.3,267.0Z" fill="#6a9500"/><path d="M366.3,274.8 L371.9,275.2 L375.4,271.0 L369.8,270.7Z" fill="#679800"/><path d="M362.8,278.7 L368.4,279.2 L371.9,275.2 L366.3,274.8Z" fill="#649b00"/><path d="M359.3,282.3 L364.9,283.0 L368.4,279.2 L362.8,278.7Z" fill="#629d00"/><path d="M355.8,287.4 L361.4,288.2 L364.9,283.0 L359.3,282.3Z" fill="#5ea100"/><path d="M352.2,291.6 L357.9,292.5 L361.4,288.2 L355.8,287.4Z" fill="#5aa500"/><path d="M348.7,295.3 L354.4,296.4 L357.9,292.5 L352.2,291.6Z" fill="#57a800"/><path d="M345.2,298.9 L350.8,300.2 L354.4,296.4 L348.7,295.3Z" fill="#55aa00"/><path d="M341.7,303.0 L347.3,304.5 L350.8,300.2 L345.2,298.9Z" fill="#52ad00"/><path d="M338.2,307.0 L343.8,308.7 L347.3,304.5 L341.7,303.0Z" fill="#4fb000"/><path d="M334.7,311.0 L340.3,312.9 L343.8,308.7 L338.2,307.0Z" fill="#4cb300"/><path d="M331.2,314.6 L336.8,316.7 L340.3,312.9 L334.7,311.0Z" fill="#49b600"/><path d="M327.7,318.7 L333.3,321.0 L336.8,316.7 L331.2,314.6Z" fill="#46b900"/><path d="M324.2,322.7 L329.8,325.1 L333.3,321.0 L327.7,318.7Z" fill="#43bc00"/><path d="M320.7,325.9 L326.3,328.3 L329.8,325.1 L324.2,322.7Z" fill="#41be00"/><path d="M317.1,328.9 L322.8,331.5 L326.3,328.3 L320.7,325.9Z" fill="#3fc000"/><path d="M313.6,331.5 L319.2,334.1 L322.8,331.5 L317.1,328.9Z" fill="#3dc200"/><path d="M310.1,333.6 L315.7,336.3 L319.2,334.1 L313.6,331.5Z" fill="#3dc200"/><path d="M306.6,335.6 L312.2,338.4 L315.7,336.3 L310.1,333.6Z" fill="#3cc300"/><path d="M303.1,337.7 L308.7,340.5 L312.2,338.4 L306.6,335.6Z" fill="#3cc300"/><path d="M299.6,339.8 L305.2,342.7 L308.7,340.5 L303.1,337.7Z" fill="#3bc400"/><path d="M296.1,342.1 L301.7,345.1 L305.2,342.7 L299.6,339.8Z" fill="#3ac500"/><path d="M292.6,344.6 L298.2,347.7 L301.7,345.1 L296.1,342.1Z" fill="#39c600"/><path d="M289.1,347.1 L294.7,350.3 L298.2,347.7 L292.6,344.6Z" fill="#38c700"/><path d="M285.6,349.5 L291.2,352.9 L294.7,350.3 L289.1,347.1Z" fill="#37c800"/><path d="M282.0,351.9 L287.7,355.4 L291.2,352.9 L285.6,349.5Z" fill="#36c900"/><path d="M278.5,354.3 L284.1,357.9 L287.7,355.4 L282.0,351.9Z" fill="#35ca00"/><path d="M275.0,356.6 L280.6,360.3 L284.1,357.9 L278.5,354.3Z" fill="#34cb00"/><path d="M271.5,358.9 L277.1,362.6 L280.6,360.3 L275.0,356.6Z" fill="#34cb00"/><path d="M403.5,238.7 L409.1,238.7 L412.6,234.7 L407.0,234.8Z" fill="#837c00"/><path d="M400.0,242.8 L405.6,242.8 L409.1,238.7 L403.5,238.7Z" fill="#807f00"/><path d="M396.5,246.9 L402.1,246.9 L405.6,242.8 L400.0,242.8Z" fill="#7d8200"/><path d="M393.0,251.1 L398.6,251.1 L402.1,246.9 L396.5,246.9Z" fill="#7a8500"/><path d="M389.5,255.1 L395.1,255.2 L398.6,251.1 L393.0,251.1Z" fill="#778800"/><path d="M385.9,259.3 L391.6,259.3 L395.1,255.2 L389.5,255.1Z" fill="#748b00"/><path d="M382.4,263.4 L388.1,263.5 L391.6,259.3 L385.9,259.3Z" fill="#718e00"/><path d="M378.9,267.3 L384.5,267.4 L388.1,263.5 L382.4,263.4Z" fill="#6e9100"/><path d="M375.4,271.0 L381.0,271.3 L384.5,267.4 L378.9,267.3Z" fill="#6b9400"/><path d="M371.9,275.2 L377.5,275.6 L381.0,271.3 L375.4,271.0Z" fill="#689700"/><path d="M368.4,279.2 L374.0,279.6 L377.5,275.6 L371.9,275.2Z" fill="#659a00"/><path d="M364.9,283.0 L370.5,283.6 L374.0,279.6 L368.4,279.2Z" fill="#629d00"/><path d="M361.4,288.2 L367.0,289.0 L370.5,283.6 L364.9,283.0Z" fill="#5fa000"/><path d="M357.9,292.5 L363.5,293.4 L367.0,289.0 L361.4,288.2Z" fill="#5ba400"/><path d="M354.4,296.4 L360.0,297.4 L363.5,293.4 L357.9,292.5Z" fill="#57a800"/><path d="M350.8,300.2 L356.5,301.5 L360.0,297.4 L354.4,296.4Z" fill="#55aa00"/><path d="M347.3,304.5 L352.9,306.0 L356.5,301.5 L350.8,300.2Z" fill="#51ae00"/><path d="M343.8,308.7 L349.4,310.4 L352.9,306.0 L347.3,304.5Z" fill="#4eb100"/><path d="M340.3,312.9 L345.9,314.7 L349.4,310.4 L343.8,308.7Z" fill="#4bb400"/><path d="M336.8,316.7 L342.4,318.7 L345.9,314.7 L340.3,312.9Z" fill="#48b700"/><path d="M333.3,321.0 L338.9,323.3 L342.4,318.7 L336.8,316.7Z" fill="#45ba00"/><path d="M329.8,325.1 L335.4,327.4 L338.9,323.3 L333.3,321.0Z" fill="#41be00"/><path d="M326.3,328.3 L331.9,330.7 L335.4,327.4 L329.8,325.1Z" fill="#3fc000"/><path d="M322.8,331.5 L328.4,334.0 L331.9,330.7 L326.3,328.3Z" fill="#3dc200"/><path d="M319.2,334.1 L324.9,336.6 L328.4,334.0 L322.8,331.5Z" fill="#3bc400"/><path d="M315.7,336.3 L321.4,338.9 L324.9,336.6 L319.2,334.1Z" fill="#3bc400"/><path d="M312.2,338.4 L317.8,341.1 L321.4,338.9 L315.7,336.3Z" fill="#3ac500"/><path d="M308.7,340.5 L314.3,343.4 L317.8,341.1 L312.2,338.4Z" fill="#39c600"/><path d="M305.2,342.7 L310.8,345.7 L314.3,343.4 L308.7,340.5Z" fill="#39c600"/><path d="M301.7,345.1 L307.3,348.2 L310.8,345.7 L305.2,342.7Z" fill="#38c700"/><path d="M298.2,347.7 L303.8,350.8 L307.3,348.2 L301.7,345.1Z" fill="#37c800"/><path d="M294.7,350.3 L300.3,353.5 L303.8,350.8 L298.2,347.7Z" fill="#35ca00"/><path d="M291.2,352.9 L296.8,356.2 L300.3,353.5 L294.7,350.3Z" fill="#34cb00"/><path d="M287.7,355.4 L293.3,358.8 L296.8,356.2 L291.2,352.9Z" fill="#33cc00"/><path d="M284.1,357.9 L289.8,361.4 L293.3,358.8 L287.7,355.4Z" fill="#32cd00"/><path d="M280.6,360.3 L286.3,363.9 L289.8,361.4 L284.1,357.9Z" fill="#31ce00"/><path d="M277.1,362.6 L282.7,366.3 L286.3,363.9 L280.6,360.3Z" fill="#30cf00"/><path d="M409.1,238.7 L414.7,238.6 L418.2,234.6 L412.6,234.7Z" fill="#847b00"/><path d="M405.6,242.8 L411.2,242.8 L414.7,238.6 L409.1,238.7Z" fill="#817e00"/><path d="M402.1,246.9 L407.7,246.9 L411.2,242.8 L405.6,242.8Z" fill="#7e8100"/><path d="M398.6,251.1 L404.2,251.0 L407.7,246.9 L402.1,246.9Z" fill="#7b8400"/><path d="M395.1,255.2 L400.7,255.2 L404.2,251.0 L398.6,251.1Z" fill="#788700"/><path d="M391.6,259.3 L397.2,259.4 L400.7,255.2 L395.1,255.2Z" fill="#758a00"/><path d="M388.1,263.5 L393.7,263.6 L397.2,259.4 L391.6,259.3Z" fill="#728d00"/><path d="M384.5,267.4 L390.2,267.5 L393.7,263.6 L388.1,263.5Z" fill="#6f9000"/><path d="M381.0,271.3 L386.6,271.5 L390.2,267.5 L384.5,267.4Z" fill="#6c9300"/><path d="M377.5,275.6 L383.1,275.9 L386.6,271.5 L381.0,271.3Z" fill="#699600"/><path d="M374.0,279.6 L379.6,279.9 L383.1,275.9 L377.5,275.6Z" fill="#669900"/><path d="M370.5,283.6 L376.1,284.1 L379.6,279.9 L374.0,279.6Z" fill="#639c00"/><path d="M367.0,289.0 L372.6,289.7 L376.1,284.1 L370.5,283.6Z" fill="#5fa000"/><path d="M363.5,293.4 L369.1,294.2 L372.6,289.7 L367.0,289.0Z" fill="#5ba400"/><path d="M360.0,297.4 L365.6,298.4 L369.1,294.2 L363.5,293.4Z" fill="#58a700"/><path d="M356.5,301.5 L362.1,302.7 L365.6,298.4 L360.0,297.4Z" fill="#54ab00"/><path d="M352.9,306.0 L358.6,307.5 L362.1,302.7 L356.5,301.5Z" fill="#51ae00"/><path d="M349.4,310.4 L355.1,312.1 L358.6,307.5 L352.9,306.0Z" fill="#4db200"/><path d="M345.9,314.7 L351.5,316.6 L355.1,312.1 L349.4,310.4Z" fill="#4ab500"/><path d="M342.4,318.7 L348.0,320.7 L351.5,316.6 L345.9,314.7Z" fill="#47b800"/><path d="M338.9,323.3 L344.5,325.6 L348.0,320.7 L342.4,318.7Z" fill="#43bc00"/><path d="M335.4,327.4 L341.0,329.6 L344.5,325.6 L338.9,323.3Z" fill="#40bf00"/><path d="M331.9,330.7 L337.5,333.1 L341.0,329.6 L335.4,327.4Z" fill="#3dc200"/><path d="M328.4,334.0 L334.0,336.5 L337.5,333.1 L331.9,330.7Z" fill="#3bc400"/><path d="M324.9,336.6 L330.5,339.2 L334.0,336.5 L328.4,334.0Z" fill="#3ac500"/><path d="M321.4,338.9 L327.0,341.5 L330.5,339.2 L324.9,336.6Z" fill="#39c600"/><path d="M317.8,341.1 L323.5,343.8 L327.0,341.5 L321.4,338.9Z" fill="#38c700"/><path d="M314.3,343.4 L320.0,346.2 L323.5,343.8 L317.8,341.1Z" fill="#37c800"/><path d="M310.8,345.7 L316.4,348.5 L320.0,346.2 L314.3,343.4Z" fill="#36c900"/><path d="M307.3,348.2 L312.9,351.1 L316.4,348.5 L310.8,345.7Z" fill="#35ca00"/><path d="M303.8,350.8 L309.4,353.9 L312.9,351.1 L307.3,348.2Z" fill="#34cb00"/><path d="M300.3,353.5 L305.9,356.6 L309.4,353.9 L303.8,350.8Z" fill="#33cc00"/><path d="M296.8,356.2 L302.4,359.4 L305.9,356.6 L300.3,353.5Z" fill="#32cd00"/><path d="M293.3,358.8 L298.9,362.1 L302.4,359.4 L296.8,356.2Z" fill="#30cf00"/><path d="M289.8,361.4 L295.4,364.7 L298.9,362.1 L293.3,358.8Z" fill="#2fd000"/><path d="M286.3,363.9 L291.9,367.3 L295.4,364.7 L289.8,361.4Z" fill="#2ed100"/><path d="M282.7,366.3 L288.4,369.8 L291.9,367.3 L286.3,363.9Z" fill="#2dd200"/><path d="M414.7,238.6 L420.3,238.6 L423.9,234.5 L418.2,234.6Z" fill="#867900"/><path d="M411.2,242.8 L416.8,242.7 L420.3,238.6 L414.7,238.6Z" fill="#837c00"/><path d="M407.7,246.9 L413.3,246.8 L416.8,242.7 L411.2,242.8Z" fill="#7f8000"/><path d="M404.2,251.0 L409.8,250.9 L413.3,246.8 L407.7,246.9Z" fill="#7c8300"/><path d="M400.7,255.2 L406.3,255.1 L409.8,250.9 L404.2,251.0Z" fill="#798600"/><path d="M397.2,259.4 L402.8,259.3 L406.3,255.1 L400.7,255.2Z" fill="#768900"/><path d="M393.7,263.6 L399.3,263.6 L402.8,259.3 L397.2,259.4Z" fill="#738c00"/><path d="M390.2,267.5 L395.8,267.6 L399.3,263.6 L393.7,263.6Z" fill="#708f00"/><path d="M386.6,271.5 L392.3,271.6 L395.8,267.6 L390.2,267.5Z" fill="#6d9200"/><path d="M383.1,275.9 L388.8,276.2 L392.3,271.6 L386.6,271.5Z" fill="#6a9500"/><path d="M379.6,279.9 L385.2,280.2 L388.8,276.2 L383.1,275.9Z" fill="#679800"/><path d="M376.1,284.1 L381.7,284.7 L385.2,280.2 L379.6,279.9Z" fill="#649b00"/><path d="M372.6,289.7 L378.2,290.3 L381.7,284.7 L376.1,284.1Z" fill="#5fa000"/><path d="M369.1,294.2 L374.7,294.9 L378.2,290.3 L372.6,289.7Z" fill="#5ba400"/><path d="M365.6,298.4 L371.2,299.3 L374.7,294.9 L369.1,294.2Z" fill="#58a700"/><path d="M362.1,302.7 L367.7,303.9 L371.2,299.3 L365.6,298.4Z" fill="#54ab00"/><path d="M358.6,307.5 L364.2,308.9 L367.7,303.9 L362.1,302.7Z" fill="#51ae00"/><path d="M355.1,312.1 L360.7,313.6 L364.2,308.9 L358.6,307.5Z" fill="#4db200"/><path d="M351.5,316.6 L357.2,318.4 L360.7,313.6 L355.1,312.1Z" fill="#49b600"/><path d="M348.0,320.7 L353.6,322.6 L357.2,318.4 L351.5,316.6Z" fill="#46b900"/><path d="M344.5,325.6 L350.1,327.8 L353.6,322.6 L348.0,320.7Z" fill="#42bd00"/><path d="M341.0,329.6 L346.6,331.9 L350.1,327.8 L344.5,325.6Z" fill="#3ec100"/><path d="M337.5,333.1 L343.1,335.5 L346.6,331.9 L341.0,329.6Z" fill="#3cc300"/><path d="M334.0,336.5 L339.6,338.9 L343.1,335.5 L337.5,333.1Z" fill="#39c600"/><path d="M330.5,339.2 L336.1,341.6 L339.6,338.9 L334.0,336.5Z" fill="#38c700"/><path d="M327.0,341.5 L332.6,344.0 L336.1,341.6 L330.5,339.2Z" fill="#37c800"/><path d="M323.5,343.8 L329.1,346.4 L332.6,344.0 L327.0,341.5Z" fill="#36c900"/><path d="M320.0,346.2 L325.6,348.8 L329.1,346.4 L323.5,343.8Z" fill="#35ca00"/><path d="M316.4,348.5 L322.1,351.2 L325.6,348.8 L320.0,346.2Z" fill="#34cb00"/><path d="M312.9,351.1 L318.5,353.9 L322.1,351.2 L316.4,348.5Z" fill="#33cc00"/><path d="M309.4,353.9 L315.0,356.7 L318.5,353.9 L312.9,351.1Z" fill="#32cd00"/><path d="M305.9,356.6 L311.5,359.5 L315.0,356.7 L309.4,353.9Z" fill="#30cf00"/><path d="M302.4,359.4 L308.0,362.3 L311.5,359.5 L305.9,356.6Z" fill="#2fd000"/><path d="M298.9,362.1 L304.5,365.1 L308.0,362.3 L302.4,359.4Z" fill="#2ed100"/><path d="M295.4,364.7 L301.0,367.8 L304.5,365.1 L298.9,362.1Z" fill="#2cd300"/><path d="M291.9,367.3 L297.5,370.4 L301.0,367.8 L295.4,364.7Z" fill="#2bd400"/><path d="M288.4,369.8 L294.0,372.9 L297.5,370.4 L291.9,367.3Z" fill="#2ad500"/><path d="M420.3,238.6 L426.0,238.6 L429.5,234.5 L423.9,234.5Z" fill="#877800"/><path d="M416.8,242.7 L422.5,242.7 L426.0,238.6 L420.3,238.6Z" fill="#847b00"/><path d="M413.3,246.8 L418.9,246.8 L422.5,242.7 L416.8,242.7Z" fill="#817e00"/><path d="M409.8,250.9 L415.4,251.0 L418.9,246.8 L413.3,246.8Z" fill="#7e8100"/><path d="M406.3,255.1 L411.9,255.2 L415.4,251.0 L409.8,250.9Z" fill="#7b8400"/><path d="M402.8,259.3 L408.4,259.5 L411.9,255.2 L406.3,255.1Z" fill="#778800"/><path d="M399.3,263.6 L404.9,263.8 L408.4,259.5 L402.8,259.3Z" fill="#748b00"/><path d="M395.8,267.6 L401.4,267.8 L404.9,263.8 L399.3,263.6Z" fill="#718e00"/><path d="M392.3,271.6 L397.9,272.0 L401.4,267.8 L395.8,267.6Z" fill="#6e9100"/><path d="M388.8,276.2 L394.4,276.7 L397.9,272.0 L392.3,271.6Z" fill="#6b9400"/><path d="M385.2,280.2 L390.9,280.8 L394.4,276.7 L388.8,276.2Z" fill="#679800"/><path d="M381.7,284.7 L387.3,285.5 L390.9,280.8 L385.2,280.2Z" fill="#649b00"/><path d="M378.2,290.3 L383.8,291.3 L387.3,285.5 L381.7,284.7Z" fill="#609f00"/><path d="M374.7,294.9 L380.3,296.1 L383.8,291.3 L378.2,290.3Z" fill="#5ba400"/><path d="M371.2,299.3 L376.8,300.7 L380.3,296.1 L374.7,294.9Z" fill="#58a700"/><path d="M367.7,303.9 L373.3,305.6 L376.8,300.7 L371.2,299.3Z" fill="#54ab00"/><path d="M364.2,308.9 L369.8,310.7 L373.3,305.6 L367.7,303.9Z" fill="#50af00"/><path d="M360.7,313.6 L366.3,315.8 L369.8,310.7 L364.2,308.9Z" fill="#4cb300"/><path d="M357.2,318.4 L362.8,320.7 L366.3,315.8 L360.7,313.6Z" fill="#48b700"/><path d="M353.6,322.6 L359.3,325.1 L362.8,320.7 L357.2,318.4Z" fill="#44bb00"/><path d="M350.1,327.8 L355.8,330.6 L359.3,325.1 L353.6,322.6Z" fill="#40bf00"/><path d="M346.6,331.9 L352.2,334.9 L355.8,330.6 L350.1,327.8Z" fill="#3cc300"/><path d="M343.1,335.5 L348.7,338.5 L352.2,334.9 L346.6,331.9Z" fill="#39c600"/><path d="M339.6,338.9 L345.2,342.1 L348.7,338.5 L343.1,335.5Z" fill="#37c800"/><path d="M336.1,341.6 L341.7,344.9 L345.2,342.1 L339.6,338.9Z" fill="#35ca00"/><path d="M332.6,344.0 L338.2,347.3 L341.7,344.9 L336.1,341.6Z" fill="#34cb00"/><path d="M329.1,346.4 L334.7,349.8 L338.2,347.3 L332.6,344.0Z" fill="#33cc00"/><path d="M325.6,348.8 L331.2,352.3 L334.7,349.8 L329.1,346.4Z" fill="#32cd00"/><path d="M322.1,351.2 L327.7,354.8 L331.2,352.3 L325.6,348.8Z" fill="#31ce00"/><path d="M318.5,353.9 L324.2,357.5 L327.7,354.8 L322.1,351.2Z" fill="#30cf00"/><path d="M315.0,356.7 L320.7,360.3 L324.2,357.5 L318.5,353.9Z" fill="#2fd000"/><path d="M311.5,359.5 L317.1,363.2 L320.7,360.3 L315.0,356.7Z" fill="#2dd200"/><path d="M308.0,362.3 L313.6,366.1 L317.1,363.2 L311.5,359.5Z" fill="#2cd300"/><path d="M304.5,365.1 L310.1,368.9 L313.6,366.1 L308.0,362.3Z" fill="#2bd400"/><path d="M301.0,367.8 L306.6,371.7 L310.1,368.9 L304.5,365.1Z" fill="#29d600"/><path d="M297.5,370.4 L303.1,374.4 L306.6,371.7 L301.0,367.8Z" fill="#28d700"/><path d="M294.0,372.9 L299.6,377.0 L303.1,374.4 L297.5,370.4Z" fill="#27d800"/><path d="M426.0,238.6 L431.6,238.7 L435.1,234.6 L429.5,234.5Z" fill="#887700"/><path d="M422.5,242.7 L428.1,242.8 L431.6,238.7 L426.0,238.6Z" fill="#857a00"/><path d="M418.9,246.8 L424.6,246.9 L428.1,242.8 L422.5,242.7Z" fill="#827d00"/><path d="M415.4,251.0 L421.0,251.1 L424.6,246.9 L418.9,246.8Z" fill="#7f8000"/><path d="M411.9,255.2 L417.5,255.3 L421.0,251.1 L415.4,251.0Z" fill="#7c8300"/><path d="M408.4,259.5 L414.0,259.7 L417.5,255.3 L411.9,255.2Z" fill="#788700"/><path d="M404.9,263.8 L410.5,264.0 L414.0,259.7 L408.4,259.5Z" fill="#758a00"/><path d="M401.4,267.8 L407.0,268.2 L410.5,264.0 L404.9,263.8Z" fill="#728d00"/><path d="M397.9,272.0 L403.5,272.5 L407.0,268.2 L401.4,267.8Z" fill="#6f9000"/><path d="M394.4,276.7 L400.0,277.3 L403.5,272.5 L397.9,272.0Z" fill="#6b9400"/><path d="M390.9,280.8 L396.5,281.5 L400.0,277.3 L394.4,276.7Z" fill="#689700"/><path d="M387.3,285.5 L393.0,286.5 L396.5,281.5 L390.9,280.8Z" fill="#649b00"/><path d="M383.8,291.3 L389.5,292.4 L393.0,286.5 L387.3,285.5Z" fill="#609f00"/><path d="M380.3,296.1 L385.9,297.4 L389.5,292.4 L383.8,291.3Z" fill="#5ba400"/><path d="M376.8,300.7 L382.4,302.2 L385.9,297.4 L380.3,296.1Z" fill="#57a800"/><path d="M373.3,305.6 L378.9,307.3 L382.4,302.2 L376.8,300.7Z" fill="#53ac00"/><path d="M369.8,310.7 L375.4,312.8 L378.9,307.3 L373.3,305.6Z" fill="#4fb000"/><path d="M366.3,315.8 L371.9,318.0 L375.4,312.8 L369.8,310.7Z" fill="#4ab500"/><path d="M362.8,320.7 L368.4,323.2 L371.9,318.0 L366.3,315.8Z" fill="#46b900"/><path d="M359.3,325.1 L364.9,327.9 L368.4,323.2 L362.8,320.7Z" fill="#42bd00"/><path d="M355.8,330.6 L361.4,333.6 L364.9,327.9 L359.3,325.1Z" fill="#3ec100"/><path d="M352.2,334.9 L357.9,338.0 L361.4,333.6 L355.8,330.6Z" fill="#3ac500"/><path d="M348.7,338.5 L354.4,341.9 L357.9,338.0 L352.2,334.9Z" fill="#37c800"/><path d="M345.2,342.1 L350.8,345.6 L354.4,341.9 L348.7,338.5Z" fill="#34cb00"/><path d="M341.7,344.9 L347.3,348.4 L350.8,345.6 L345.2,342.1Z" fill="#32cd00"/><path d="M338.2,347.3 L343.8,350.9 L347.3,348.4 L341.7,344.9Z" fill="#31ce00"/><path d="M334.7,349.8 L340.3,353.5 L343.8,350.9 L338.2,347.3Z" fill="#30cf00"/><path d="M331.2,352.3 L336.8,356.0 L340.3,353.5 L334.7,349.8Z" fill="#2fd000"/><path d="M327.7,354.8 L333.3,358.5 L336.8,356.0 L331.2,352.3Z" fill="#2ed100"/><path d="M324.2,357.5 L329.8,361.3 L333.3,358.5 L327.7,354.8Z" fill="#2dd200"/><path d="M320.7,360.3 L326.3,364.2 L329.8,361.3 L324.2,357.5Z" fill="#2bd400"/><path d="M317.1,363.2 L322.8,367.1 L326.3,364.2 L320.7,360.3Z" fill="#2ad500"/><path d="M313.6,366.1 L319.2,370.0 L322.8,367.1 L317.1,363.2Z" fill="#28d700"/><path d="M310.1,368.9 L315.7,373.0 L319.2,370.0 L313.6,366.1Z" fill="#27d800"/><path d="M306.6,371.7 L312.2,375.8 L315.7,373.0 L310.1,368.9Z" fill="#25da00"/><path d="M303.1,374.4 L308.7,378.6 L312.2,375.8 L306.6,371.7Z" fill="#24db00"/><path d="M299.6,377.0 L305.2,381.2 L308.7,378.6 L303.1,374.4Z" fill="#23dc00"/><path d="M431.6,238.7 L437.2,238.8 L440.7,234.7 L435.1,234.6Z" fill="#897600"/><path d="M428.1,242.8 L433.7,242.9 L437.2,238.8 L431.6,238.7Z" fill="#867900"/><path d="M424.6,246.9 L430.2,247.0 L433.7,242.9 L428.1,242.8Z" fill="#837c00"/><path d="M421.0,251.1 L426.7,251.2 L430.2,247.0 L424.6,246.9Z" fill="#807f00"/><path d="M417.5,255.3 L423.2,255.4 L426.7,251.2 L421.0,251.1Z" fill="#7d8200"/><path d="M414.0,259.7 L419.6,259.9 L423.2,255.4 L417.5,255.3Z" fill="#798600"/><path d="M410.5,264.0 L416.1,264.3 L419.6,259.9 L414.0,259.7Z" fill="#768900"/><path d="M407.0,268.2 L412.6,268.5 L416.1,264.3 L410.5,264.0Z" fill="#738c00"/><path d="M403.5,272.5 L409.1,273.0 L412.6,268.5 L407.0,268.2Z" fill="#708f00"/><path d="M400.0,277.3 L405.6,277.9 L409.1,273.0 L403.5,272.5Z" fill="#6c9300"/><path d="M396.5,281.5 L402.1,282.3 L405.6,277.9 L400.0,277.3Z" fill="#689700"/><path d="M393.0,286.5 L398.6,287.5 L402.1,282.3 L396.5,281.5Z" fill="#649b00"/><path d="M389.5,292.4 L395.1,293.5 L398.6,287.5 L393.0,286.5Z" fill="#609f00"/><path d="M385.9,297.4 L391.6,298.7 L395.1,293.5 L389.5,292.4Z" fill="#5ba400"/><path d="M382.4,302.2 L388.0,303.7 L391.6,298.7 L385.9,297.4Z" fill="#57a800"/><path d="M378.9,307.3 L384.5,309.1 L388.0,303.7 L382.4,302.2Z" fill="#52ad00"/><path d="M375.4,312.8 L381.0,314.7 L384.5,309.1 L378.9,307.3Z" fill="#4eb100"/><path d="M371.9,318.0 L377.5,320.2 L381.0,314.7 L375.4,312.8Z" fill="#49b600"/><path d="M368.4,323.2 L374.0,325.7 L377.5,320.2 L371.9,318.0Z" fill="#44bb00"/><path d="M364.9,327.9 L370.5,330.5 L374.0,325.7 L368.4,323.2Z" fill="#40bf00"/><path d="M361.4,333.6 L367.0,336.6 L370.5,330.5 L364.9,327.9Z" fill="#3cc300"/><path d="M357.9,338.0 L363.5,341.1 L367.0,336.6 L361.4,333.6Z" fill="#37c800"/><path d="M354.4,341.9 L360.0,345.2 L363.5,341.1 L357.9,338.0Z" fill="#34cb00"/><path d="M350.8,345.6 L356.5,349.0 L360.0,345.2 L354.4,341.9Z" fill="#31ce00"/><path d="M347.3,348.4 L352.9,352.0 L356.5,349.0 L350.8,345.6Z" fill="#2fd000"/><path d="M343.8,350.9 L349.4,354.6 L352.9,352.0 L347.3,348.4Z" fill="#2ed100"/><path d="M340.3,353.5 L345.9,357.2 L349.4,354.6 L343.8,350.9Z" fill="#2dd200"/><path d="M336.8,356.0 L342.4,359.7 L345.9,357.2 L340.3,353.5Z" fill="#2cd300"/><path d="M333.3,358.5 L338.9,362.3 L342.4,359.7 L336.8,356.0Z" fill="#2bd400"/><path d="M329.8,361.3 L335.4,365.0 L338.9,362.3 L333.3,358.5Z" fill="#29d600"/><path d="M326.3,364.2 L331.9,367.9 L335.4,365.0 L329.8,361.3Z" fill="#28d700"/><path d="M322.8,367.1 L328.4,370.9 L331.9,367.9 L326.3,364.2Z" fill="#26d900"/><path d="M319.2,370.0 L324.9,373.8 L328.4,370.9 L322.8,367.1Z" fill="#25da00"/><path d="M315.7,373.0 L321.4,376.8 L324.9,373.8 L319.2,370.0Z" fill="#23dc00"/><path d="M312.2,375.8 L317.8,379.6 L321.4,376.8 L315.7,373.0Z" fill="#22dd00"/><path d="M308.7,378.6 L314.3,382.4 L317.8,379.6 L312.2,375.8Z" fill="#20df00"/><path d="M305.2,381.2 L310.8,385.1 L314.3,382.4 L308.7,378.6Z" fill="#1fe000"/><path d="M437.2,238.8 L442.8,239.0 L446.3,234.9 L440.7,234.7Z" fill="#8a7500"/><path d="M433.7,242.9 L439.3,243.2 L442.8,239.0 L437.2,238.8Z" fill="#877800"/><path d="M430.2,247.0 L435.8,247.2 L439.3,243.2 L433.7,242.9Z" fill="#847b00"/><path d="M426.7,251.2 L432.3,251.4 L435.8,247.2 L430.2,247.0Z" fill="#817e00"/><path d="M423.2,255.4 L428.8,255.6 L432.3,251.4 L426.7,251.2Z" fill="#7e8100"/><path d="M419.6,259.9 L425.3,260.1 L428.8,255.6 L423.2,255.4Z" fill="#7a8500"/><path d="M416.1,264.3 L421.7,264.6 L425.3,260.1 L419.6,259.9Z" fill="#778800"/><path d="M412.6,268.5 L418.2,268.9 L421.7,264.6 L416.1,264.3Z" fill="#748b00"/><path d="M409.1,273.0 L414.7,273.5 L418.2,268.9 L412.6,268.5Z" fill="#708f00"/><path d="M405.6,277.9 L411.2,278.6 L414.7,273.5 L409.1,273.0Z" fill="#6c9300"/><path d="M402.1,282.3 L407.7,283.1 L411.2,278.6 L405.6,277.9Z" fill="#699600"/><path d="M398.6,287.5 L404.2,288.5 L407.7,283.1 L402.1,282.3Z" fill="#659a00"/><path d="M395.1,293.5 L400.7,294.7 L404.2,288.5 L398.6,287.5Z" fill="#5fa000"/><path d="M391.6,298.7 L397.2,300.0 L400.7,294.7 L395.1,293.5Z" fill="#5aa500"/><path d="M388.0,303.7 L393.7,305.2 L397.2,300.0 L391.6,298.7Z" fill="#56a900"/><path d="M384.5,309.1 L390.2,310.8 L393.7,305.2 L388.0,303.7Z" fill="#52ad00"/><path d="M381.0,314.7 L386.6,316.7 L390.2,310.8 L384.5,309.1Z" fill="#4db200"/><path d="M377.5,320.2 L383.1,322.4 L386.6,316.7 L381.0,314.7Z" fill="#48b700"/><path d="M374.0,325.7 L379.6,328.1 L383.1,322.4 L377.5,320.2Z" fill="#43bc00"/><path d="M370.5,330.5 L376.1,333.2 L379.6,328.1 L374.0,325.7Z" fill="#3ec100"/><path d="M367.0,336.6 L372.6,339.5 L376.1,333.2 L370.5,330.5Z" fill="#39c600"/><path d="M363.5,341.1 L369.1,344.2 L372.6,339.5 L367.0,336.6Z" fill="#35ca00"/><path d="M360.0,345.2 L365.6,348.5 L369.1,344.2 L363.5,341.1Z" fill="#31ce00"/><path d="M356.5,349.0 L362.1,352.5 L365.6,348.5 L360.0,345.2Z" fill="#2ed100"/><path d="M352.9,352.0 L358.6,355.6 L362.1,352.5 L356.5,349.0Z" fill="#2cd300"/><path d="M349.4,354.6 L355.1,358.3 L358.6,355.6 L352.9,352.0Z" fill="#2ad500"/><path d="M345.9,357.2 L351.5,360.9 L355.1,358.3 L349.4,354.6Z" fill="#29d600"/><path d="M342.4,359.7 L348.0,363.5 L351.5,360.9 L345.9,357.2Z" fill="#28d700"/><path d="M338.9,362.3 L344.5,366.1 L348.0,363.5 L342.4,359.7Z" fill="#27d800"/><path d="M335.4,365.0 L341.0,368.8 L344.5,366.1 L338.9,362.3Z" fill="#26d900"/><path d="M331.9,367.9 L337.5,371.7 L341.0,368.8 L335.4,365.0Z" fill="#24db00"/><path d="M328.4,370.9 L334.0,374.6 L337.5,371.7 L331.9,367.9Z" fill="#23dc00"/><path d="M324.9,373.8 L330.5,377.5 L334.0,374.6 L328.4,370.9Z" fill="#21de00"/><path d="M321.4,376.8 L327.0,380.5 L330.5,377.5 L324.9,373.8Z" fill="#20df00"/><path d="M317.8,379.6 L323.5,383.4 L327.0,380.5 L321.4,376.8Z" fill="#1ee100"/><path d="M314.3,382.4 L319.9,386.2 L323.5,383.4 L317.8,379.6Z" fill="#1de200"/><path d="M310.8,385.1 L316.4,388.9 L319.9,386.2 L314.3,382.4Z" fill="#1be400"/><path d="M446.3,234.9 L451.9,235.1 L455.4,231.4 L449.8,231.2Z" fill="#8e7100"/><path d="M442.8,239.0 L448.4,239.3 L451.9,235.1 L446.3,234.9Z" fill="#8b7400"/><path d="M439.3,243.2 L444.9,243.4 L448.4,239.3 L442.8,239.0Z" fill="#887700"/><path d="M435.8,247.2 L441.4,247.5 L444.9,243.4 L439.3,243.2Z" fill="#857a00"/><path d="M432.3,251.4 L437.9,251.6 L441.4,247.5 L435.8,247.2Z" fill="#827d00"/><path d="M428.8,255.6 L434.4,255.9 L437.9,251.6 L432.3,251.4Z" fill="#7f8000"/><path d="M425.3,260.1 L430.9,260.4 L434.4,255.9 L428.8,255.6Z" fill="#7b8400"/><path d="M421.7,264.6 L427.4,264.9 L430.9,260.4 L425.3,260.1Z" fill="#788700"/><path d="M418.2,268.9 L423.9,269.3 L427.4,264.9 L421.7,264.6Z" fill="#748b00"/><path d="M414.7,273.5 L420.3,274.0 L423.9,269.3 L418.2,268.9Z" fill="#718e00"/><path d="M411.2,278.6 L416.8,279.2 L420.3,274.0 L414.7,273.5Z" fill="#6d9200"/><path d="M407.7,283.1 L413.3,283.8 L416.8,279.2 L411.2,278.6Z" fill="#699600"/><path d="M404.2,288.5 L409.8,289.5 L413.3,283.8 L407.7,283.1Z" fill="#659a00"/><path d="M400.7,294.7 L406.3,295.8 L409.8,289.5 L404.2,288.5Z" fill="#5fa000"/><path d="M397.2,300.0 L402.8,301.4 L406.3,295.8 L400.7,294.7Z" fill="#5aa500"/><path d="M393.7,305.2 L399.3,306.7 L402.8,301.4 L397.2,300.0Z" fill="#56a900"/><path d="M390.2,310.8 L395.8,312.5 L399.3,306.7 L393.7,305.2Z" fill="#51ae00"/><path d="M386.6,316.7 L392.3,318.6 L395.8,312.5 L390.2,310.8Z" fill="#4bb400"/><path d="M383.1,322.4 L388.8,324.6 L392.3,318.6 L386.6,316.7Z" fill="#46b900"/><path d="M379.6,328.1 L385.2,330.5 L388.8,324.6 L383.1,322.4Z" fill="#41be00"/><path d="M376.1,333.2 L381.7,335.8 L385.2,330.5 L379.6,328.1Z" fill="#3cc300"/><path d="M372.6,339.5 L378.2,342.4 L381.7,335.8 L376.1,333.2Z" fill="#37c800"/><path d="M369.1,344.2 L374.7,347.4 L378.2,342.4 L372.6,339.5Z" fill="#32cd00"/><path d="M365.6,348.5 L371.2,351.8 L374.7,347.4 L369.1,344.2Z" fill="#2ed100"/><path d="M362.1,352.5 L367.7,356.1 L371.2,351.8 L365.6,348.5Z" fill="#2bd400"/><path d="M358.6,355.6 L364.2,359.2 L367.7,356.1 L362.1,352.5Z" fill="#29d600"/><path d="M355.1,358.3 L360.7,362.1 L364.2,359.2 L358.6,355.6Z" fill="#27d800"/><path d="M351.5,360.9 L357.2,364.8 L360.7,362.1 L355.1,358.3Z" fill="#26d900"/><path d="M348.0,363.5 L353.6,367.4 L357.2,364.8 L351.5,360.9Z" fill="#25da00"/><path d="M344.5,366.1 L350.1,370.0 L353.6,367.4 L348.0,363.5Z" fill="#23dc00"/><path d="M341.0,368.8 L346.6,372.7 L350.1,370.0 L344.5,366.1Z" fill="#22dd00"/><path d="M337.5,371.7 L343.1,375.5 L346.6,372.7 L341.0,368.8Z" fill="#21de00"/><path d="M334.0,374.6 L339.6,378.3 L343.1,375.5 L337.5,371.7Z" fill="#1fe000"/><path d="M330.5,377.5 L336.1,381.2 L339.6,378.3 L334.0,374.6Z" fill="#1ee100"/><path d="M327.0,380.5 L332.6,384.2 L336.1,381.2 L330.5,377.5Z" fill="#1ce300"/><path d="M323.5,383.4 L329.1,387.0 L332.6,384.2 L327.0,380.5Z" fill="#1be400"/><path d="M319.9,386.2 L325.6,389.8 L329.1,387.0 L323.5,383.4Z" fill="#19e600"/><path d="M316.4,388.9 L322.1,392.5 L325.6,389.8 L319.9,386.2Z" fill="#18e700"/><path d="M451.9,235.1 L457.6,235.4 L461.1,231.7 L455.4,231.4Z" fill="#8f7000"/><path d="M448.4,239.3 L454.0,239.6 L457.6,235.4 L451.9,235.1Z" fill="#8c7300"/><path d="M444.9,243.4 L450.5,243.7 L454.0,239.6 L448.4,239.3Z" fill="#897600"/><path d="M441.4,247.5 L447.0,247.8 L450.5,243.7 L444.9,243.4Z" fill="#867900"/><path d="M437.9,251.6 L443.5,251.9 L447.0,247.8 L441.4,247.5Z" fill="#837c00"/><path d="M434.4,255.9 L440.0,256.2 L443.5,251.9 L437.9,251.6Z" fill="#807f00"/><path d="M430.9,260.4 L436.5,260.7 L440.0,256.2 L434.4,255.9Z" fill="#7c8300"/><path d="M427.4,264.9 L433.0,265.2 L436.5,260.7 L430.9,260.4Z" fill="#798600"/><path d="M423.9,269.3 L429.5,269.7 L433.0,265.2 L427.4,264.9Z" fill="#758a00"/><path d="M420.3,274.0 L426.0,274.5 L429.5,269.7 L423.9,269.3Z" fill="#728d00"/><path d="M416.8,279.2 L422.4,279.9 L426.0,274.5 L420.3,274.0Z" fill="#6d9200"/><path d="M413.3,283.8 L418.9,284.6 L422.4,279.9 L416.8,279.2Z" fill="#699600"/><path d="M409.8,289.5 L415.4,290.4 L418.9,284.6 L413.3,283.8Z" fill="#659a00"/><path d="M406.3,295.8 L411.9,296.9 L415.4,290.4 L409.8,289.5Z" fill="#5fa000"/><path d="M402.8,301.4 L408.4,302.6 L411.9,296.9 L406.3,295.8Z" fill="#5aa500"/><path d="M399.3,306.7 L404.9,308.2 L408.4,302.6 L402.8,301.4Z" fill="#55aa00"/><path d="M395.8,312.5 L401.4,314.2 L404.9,308.2 L399.3,306.7Z" fill="#50af00"/><path d="M392.3,318.6 L397.9,320.5 L401.4,314.2 L395.8,312.5Z" fill="#4ab500"/><path d="M388.8,324.6 L394.4,326.8 L397.9,320.5 L392.3,318.6Z" fill="#45ba00"/><path d="M385.2,330.5 L390.9,332.9 L394.4,326.8 L388.8,324.6Z" fill="#3fc000"/><path d="M381.7,335.8 L387.3,338.5 L390.9,332.9 L385.2,330.5Z" fill="#3ac500"/><path d="M378.2,342.4 L383.8,345.3 L387.3,338.5 L381.7,335.8Z" fill="#35ca00"/><path d="M374.7,347.4 L380.3,350.5 L383.8,345.3 L378.2,342.4Z" fill="#2fd000"/><path d="M371.2,351.8 L376.8,355.1 L380.3,350.5 L374.7,347.4Z" fill="#2cd300"/><path d="M367.7,356.1 L373.3,359.6 L376.8,355.1 L371.2,351.8Z" fill="#28d700"/><path d="M364.2,359.2 L369.8,362.9 L373.3,359.6 L367.7,356.1Z" fill="#25da00"/><path d="M360.7,362.1 L366.3,365.8 L369.8,362.9 L364.2,359.2Z" fill="#24db00"/><path d="M357.2,364.8 L362.8,368.7 L366.3,365.8 L360.7,362.1Z" fill="#22dd00"/><path d="M353.6,367.4 L359.3,371.3 L362.8,368.7 L357.2,364.8Z" fill="#21de00"/><path d="M350.1,370.0 L355.8,373.9 L359.3,371.3 L353.6,367.4Z" fill="#20df00"/><path d="M346.6,372.7 L352.2,376.6 L355.8,373.9 L350.1,370.0Z" fill="#1fe000"/><path d="M343.1,375.5 L348.7,379.3 L352.2,376.6 L346.6,372.7Z" fill="#1de200"/><path d="M339.6,378.3 L345.2,382.1 L348.7,379.3 L343.1,375.5Z" fill="#1ce300"/><path d="M336.1,381.2 L341.7,384.9 L345.2,382.1 L339.6,378.3Z" fill="#1ae500"/><path d="M332.6,384.2 L338.2,387.8 L341.7,384.9 L336.1,381.2Z" fill="#19e600"/><path d="M329.1,387.0 L334.7,390.6 L338.2,387.8 L332.6,384.2Z" fill="#17e800"/><path d="M325.6,389.8 L331.2,393.3 L334.7,390.6 L329.1,387.0Z" fill="#16e900"/><path d="M322.1,392.5 L327.7,396.0 L331.2,393.3 L325.6,389.8Z" fill="#15ea00"/><path d="M457.6,235.4 L463.2,235.7 L466.7,232.0 L461.1,231.7Z" fill="#906f00"/><path d="M454.0,239.6 L459.7,239.9 L463.2,235.7 L457.6,235.4Z" fill="#8d7200"/><path d="M450.5,243.7 L456.1,244.1 L459.7,239.9 L454.0,239.6Z" fill="#8a7500"/><path d="M447.0,247.8 L452.6,248.1 L456.1,244.1 L450.5,243.7Z" fill="#877800"/><path d="M443.5,251.9 L449.1,252.3 L452.6,248.1 L447.0,247.8Z" fill="#847b00"/><path d="M440.0,256.2 L445.6,256.5 L449.1,252.3 L443.5,251.9Z" fill="#807f00"/><path d="M436.5,260.7 L442.1,261.0 L445.6,256.5 L440.0,256.2Z" fill="#7d8200"/><path d="M433.0,265.2 L438.6,265.6 L442.1,261.0 L436.5,260.7Z" fill="#7a8500"/><path d="M429.5,269.7 L435.1,270.1 L438.6,265.6 L433.0,265.2Z" fill="#768900"/><path d="M426.0,274.5 L431.6,275.0 L435.1,270.1 L429.5,269.7Z" fill="#728d00"/><path d="M422.4,279.9 L428.1,280.5 L431.6,275.0 L426.0,274.5Z" fill="#6e9100"/><path d="M418.9,284.6 L424.6,285.3 L428.1,280.5 L422.4,279.9Z" fill="#6a9500"/><path d="M415.4,290.4 L421.0,291.3 L424.6,285.3 L418.9,284.6Z" fill="#659a00"/><path d="M411.9,296.9 L417.5,298.0 L421.0,291.3 L415.4,290.4Z" fill="#5fa000"/><path d="M408.4,302.6 L414.0,303.9 L417.5,298.0 L411.9,296.9Z" fill="#5aa500"/><path d="M404.9,308.2 L410.5,309.6 L414.0,303.9 L408.4,302.6Z" fill="#55aa00"/><path d="M401.4,314.2 L407.0,315.8 L410.5,309.6 L404.9,308.2Z" fill="#4fb000"/><path d="M397.9,320.5 L403.5,322.4 L407.0,315.8 L401.4,314.2Z" fill="#49b600"/><path d="M394.4,326.8 L400.0,328.9 L403.5,322.4 L397.9,320.5Z" fill="#44bb00"/><path d="M390.9,332.9 L396.5,335.3 L400.0,328.9 L394.4,326.8Z" fill="#3ec100"/><path d="M387.3,338.5 L393.0,341.1 L396.5,335.3 L390.9,332.9Z" fill="#38c700"/><path d="M383.8,345.3 L389.5,348.2 L393.0,341.1 L387.3,338.5Z" fill="#32cd00"/><path d="M380.3,350.5 L385.9,353.6 L389.5,348.2 L383.8,345.3Z" fill="#2dd200"/><path d="M376.8,355.1 L382.4,358.5 L385.9,353.6 L380.3,350.5Z" fill="#29d600"/><path d="M373.3,359.6 L378.9,363.1 L382.4,358.5 L376.8,355.1Z" fill="#25da00"/><path d="M369.8,362.9 L375.4,366.6 L378.9,363.1 L373.3,359.6Z" fill="#22dd00"/><path d="M366.3,365.8 L371.9,369.6 L375.4,366.6 L369.8,362.9Z" fill="#20df00"/><path d="M362.8,368.7 L368.4,372.5 L371.9,369.6 L366.3,365.8Z" fill="#1fe000"/><path d="M359.3,371.3 L364.9,375.2 L368.4,372.5 L362.8,368.7Z" fill="#1de200"/><path d="M355.8,373.9 L361.4,377.8 L364.9,375.2 L359.3,371.3Z" fill="#1ce300"/><path d="M352.2,376.6 L357.9,380.4 L361.4,377.8 L355.8,373.9Z" fill="#1be400"/><path d="M348.7,379.3 L354.3,383.1 L357.9,380.4 L352.2,376.6Z" fill="#1ae500"/><path d="M345.2,382.1 L350.8,385.8 L354.3,383.1 L348.7,379.3Z" fill="#18e700"/><path d="M341.7,384.9 L347.3,388.6 L350.8,385.8 L345.2,382.1Z" fill="#17e800"/><path d="M338.2,387.8 L343.8,391.3 L347.3,388.6 L341.7,384.9Z" fill="#16e900"/><path d="M334.7,390.6 L340.3,394.1 L343.8,391.3 L338.2,387.8Z" fill="#14eb00"/><path d="M331.2,393.3 L336.8,396.7 L340.3,394.1 L334.7,390.6Z" fill="#13ec00"/><path d="M327.7,396.0 L333.3,399.3 L336.8,396.7 L331.2,393.3Z" fill="#12ed00"/><path d="M463.2,235.7 L468.8,236.1 L472.3,232.4 L466.7,232.0Z" fill="#906f00"/><path d="M459.7,239.9 L465.3,240.3 L468.8,236.1 L463.2,235.7Z" fill="#8e7100"/><path d="M456.1,244.1 L461.8,244.4 L465.3,240.3 L459.7,239.9Z" fill="#8a7500"/><path d="M452.6,248.1 L458.3,248.5 L461.8,244.4 L456.1,244.1Z" fill="#877800"/><path d="M449.1,252.3 L454.7,252.6 L458.3,248.5 L452.6,248.1Z" fill="#847b00"/><path d="M445.6,256.5 L451.2,256.9 L454.7,252.6 L449.1,252.3Z" fill="#817e00"/><path d="M442.1,261.0 L447.7,261.3 L451.2,256.9 L445.6,256.5Z" fill="#7e8100"/><path d="M438.6,265.6 L444.2,265.9 L447.7,261.3 L442.1,261.0Z" fill="#7a8500"/><path d="M435.1,270.1 L440.7,270.4 L444.2,265.9 L438.6,265.6Z" fill="#778800"/><path d="M431.6,275.0 L437.2,275.4 L440.7,270.4 L435.1,270.1Z" fill="#738c00"/><path d="M428.1,280.5 L433.7,281.0 L437.2,275.4 L431.6,275.0Z" fill="#6f9000"/><path d="M424.6,285.3 L430.2,286.0 L433.7,281.0 L428.1,280.5Z" fill="#6a9500"/><path d="M421.0,291.3 L426.7,292.1 L430.2,286.0 L424.6,285.3Z" fill="#659a00"/><path d="M417.5,298.0 L423.1,299.0 L426.7,292.1 L421.0,291.3Z" fill="#5fa000"/><path d="M414.0,303.9 L419.6,305.1 L423.1,299.0 L417.5,298.0Z" fill="#59a600"/><path d="M410.5,309.6 L416.1,310.9 L419.6,305.1 L414.0,303.9Z" fill="#54ab00"/><path d="M407.0,315.8 L412.6,317.4 L416.1,310.9 L410.5,309.6Z" fill="#4fb000"/><path d="M403.5,322.4 L409.1,324.3 L412.6,317.4 L407.0,315.8Z" fill="#49b600"/><path d="M400.0,328.9 L405.6,331.0 L409.1,324.3 L403.5,322.4Z" fill="#42bd00"/><path d="M396.5,335.3 L402.1,337.7 L405.6,331.0 L400.0,328.9Z" fill="#3cc300"/><path d="M393.0,341.1 L398.6,343.8 L402.1,337.7 L396.5,335.3Z" fill="#36c900"/><path d="M389.5,348.2 L395.1,351.2 L398.6,343.8 L393.0,341.1Z" fill="#30cf00"/><path d="M385.9,353.6 L391.6,356.8 L395.1,351.2 L389.5,348.2Z" fill="#2ad500"/><path d="M382.4,358.5 L388.0,361.8 L391.6,356.8 L385.9,353.6Z" fill="#26d900"/><path d="M378.9,363.1 L384.5,366.6 L388.0,361.8 L382.4,358.5Z" fill="#22dd00"/><path d="M375.4,366.6 L381.0,370.2 L384.5,366.6 L378.9,363.1Z" fill="#1fe000"/><path d="M371.9,369.6 L377.5,373.4 L381.0,370.2 L375.4,366.6Z" fill="#1de200"/><path d="M368.4,372.5 L374.0,376.3 L377.5,373.4 L371.9,369.6Z" fill="#1be400"/><path d="M364.9,375.2 L370.5,379.1 L374.0,376.3 L368.4,372.5Z" fill="#1ae500"/><path d="M361.4,377.8 L367.0,381.7 L370.5,379.1 L364.9,375.2Z" fill="#18e700"/><path d="M357.9,380.4 L363.5,384.2 L367.0,381.7 L361.4,377.8Z" fill="#17e800"/><path d="M354.3,383.1 L360.0,386.8 L363.5,384.2 L357.9,380.4Z" fill="#16e900"/><path d="M350.8,385.8 L356.5,389.5 L360.0,386.8 L354.3,383.1Z" fill="#15ea00"/><path d="M347.3,388.6 L352.9,392.2 L356.5,389.5 L350.8,385.8Z" fill="#14eb00"/><path d="M343.8,391.3 L349.4,394.8 L352.9,392.2 L347.3,388.6Z" fill="#12ed00"/><path d="M340.3,394.1 L345.9,397.5 L349.4,394.8 L343.8,391.3Z" fill="#11ee00"/><path d="M336.8,396.7 L342.4,400.0 L345.9,397.5 L340.3,394.1Z" fill="#10ef00"/><path d="M333.3,399.3 L338.9,402.5 L342.4,400.0 L336.8,396.7Z" fill="#0ff000"/><path d="M468.8,236.1 L474.4,236.5 L477.9,232.7 L472.3,232.4Z" fill="#916e00"/><path d="M465.3,240.3 L470.9,240.7 L474.4,236.5 L468.8,236.1Z" fill="#8e7100"/><path d="M461.8,244.4 L467.4,244.9 L470.9,240.7 L465.3,240.3Z" fill="#8b7400"/><path d="M458.3,248.5 L463.9,248.9 L467.4,244.9 L461.8,244.4Z" fill="#887700"/><path d="M454.7,252.6 L460.4,253.0 L463.9,248.9 L458.3,248.5Z" fill="#857a00"/><path d="M451.2,256.9 L456.8,257.2 L460.4,253.0 L454.7,252.6Z" fill="#827d00"/><path d="M447.7,261.3 L453.3,261.7 L456.8,257.2 L451.2,256.9Z" fill="#7f8000"/><path d="M444.2,265.9 L449.8,266.2 L453.3,261.7 L447.7,261.3Z" fill="#7b8400"/><path d="M440.7,270.4 L446.3,270.7 L449.8,266.2 L444.2,265.9Z" fill="#788700"/><path d="M437.2,275.4 L442.8,275.7 L446.3,270.7 L440.7,270.4Z" fill="#748b00"/><path d="M433.7,281.0 L439.3,281.4 L442.8,275.7 L437.2,275.4Z" fill="#6f9000"/><path d="M430.2,286.0 L435.8,286.5 L439.3,281.4 L433.7,281.0Z" fill="#6b9400"/><path d="M426.7,292.1 L432.3,292.8 L435.8,286.5 L430.2,286.0Z" fill="#669900"/><path d="M423.1,299.0 L428.8,299.9 L432.3,292.8 L426.7,292.1Z" fill="#5fa000"/><path d="M419.6,305.1 L425.3,306.1 L428.8,299.9 L423.1,299.0Z" fill="#59a600"/><path d="M416.1,310.9 L421.7,312.2 L425.3,306.1 L419.6,305.1Z" fill="#54ab00"/><path d="M412.6,317.4 L418.2,319.0 L421.7,312.2 L416.1,310.9Z" fill="#4eb100"/><path d="M409.1,324.3 L414.7,326.0 L418.2,319.0 L412.6,317.4Z" fill="#48b700"/><path d="M405.6,331.0 L411.2,333.1 L414.7,326.0 L409.1,324.3Z" fill="#41be00"/><path d="M402.1,337.7 L407.7,340.0 L411.2,333.1 L405.6,331.0Z" fill="#3bc400"/><path d="M398.6,343.8 L404.2,346.4 L407.7,340.0 L402.1,337.7Z" fill="#34cb00"/><path d="M395.1,351.2 L400.7,354.1 L404.2,346.4 L398.6,343.8Z" fill="#2ed100"/><path d="M391.6,356.8 L397.2,359.9 L400.7,354.1 L395.1,351.2Z" fill="#28d700"/><path d="M388.0,361.8 L393.7,365.2 L397.2,359.9 L391.6,356.8Z" fill="#23dc00"/><path d="M384.5,366.6 L390.2,370.1 L393.7,365.2 L388.0,361.8Z" fill="#1fe000"/><path d="M381.0,370.2 L386.6,373.8 L390.2,370.1 L384.5,366.6Z" fill="#1ce300"/><path d="M377.5,373.4 L383.1,377.0 L386.6,373.8 L381.0,370.2Z" fill="#19e600"/><path d="M374.0,376.3 L379.6,380.1 L383.1,377.0 L377.5,373.4Z" fill="#18e700"/><path d="M370.5,379.1 L376.1,382.9 L379.6,380.1 L374.0,376.3Z" fill="#16e900"/><path d="M367.0,381.7 L372.6,385.4 L376.1,382.9 L370.5,379.1Z" fill="#15ea00"/><path d="M363.5,384.2 L369.1,388.0 L372.6,385.4 L367.0,381.7Z" fill="#14eb00"/><path d="M360.0,386.8 L365.6,390.5 L369.1,388.0 L363.5,384.2Z" fill="#13ec00"/><path d="M356.5,389.5 L362.1,393.0 L365.6,390.5 L360.0,386.8Z" fill="#12ed00"/><path d="M352.9,392.2 L358.6,395.6 L362.1,393.0 L356.5,389.5Z" fill="#10ef00"/><path d="M349.4,394.8 L355.0,398.2 L358.6,395.6 L352.9,392.2Z" fill="#0ff000"/><path d="M345.9,397.5 L351.5,400.7 L355.0,398.2 L349.4,394.8Z" fill="#0ef100"/><path d="M342.4,400.0 L348.0,403.2 L351.5,400.7 L345.9,397.5Z" fill="#0df200"/><path d="M338.9,402.5 L344.5,405.6 L348.0,403.2 L342.4,400.0Z" fill="#0cf300"/><path d="M474.4,236.5 L480.0,236.9 L483.5,233.2 L477.9,232.7Z" fill="#926d00"/><path d="M470.9,240.7 L476.5,241.2 L480.0,236.9 L474.4,236.5Z" fill="#8f7000"/><path d="M467.4,244.9 L473.0,245.3 L476.5,241.2 L470.9,240.7Z" fill="#8c7300"/><path d="M463.9,248.9 L469.5,249.4 L473.0,245.3 L467.4,244.9Z" fill="#897600"/><path d="M460.4,253.0 L466.0,253.4 L469.5,249.4 L463.9,248.9Z" fill="#867900"/><path d="M456.8,257.2 L462.5,257.6 L466.0,253.4 L460.4,253.0Z" fill="#837c00"/><path d="M453.3,261.7 L459.0,262.1 L462.5,257.6 L456.8,257.2Z" fill="#7f8000"/><path d="M449.8,266.2 L455.4,266.6 L459.0,262.1 L453.3,261.7Z" fill="#7c8300"/><path d="M446.3,270.7 L451.9,271.1 L455.4,266.6 L449.8,266.2Z" fill="#788700"/><path d="M442.8,275.7 L448.4,276.1 L451.9,271.1 L446.3,270.7Z" fill="#758a00"/><path d="M439.3,281.4 L444.9,281.8 L448.4,276.1 L442.8,275.7Z" fill="#708f00"/><path d="M435.8,286.5 L441.4,286.9 L444.9,281.8 L439.3,281.4Z" fill="#6b9400"/><path d="M432.3,292.8 L437.9,293.4 L441.4,286.9 L435.8,286.5Z" fill="#669900"/><path d="M428.8,299.9 L434.4,300.7 L437.9,293.4 L432.3,292.8Z" fill="#609f00"/><path d="M425.3,306.1 L430.9,307.2 L434.4,300.7 L428.8,299.9Z" fill="#59a600"/><path d="M421.7,312.2 L427.4,313.5 L430.9,307.2 L425.3,306.1Z" fill="#54ab00"/><path d="M418.2,319.0 L423.9,320.5 L427.4,313.5 L421.7,312.2Z" fill="#4db200"/><path d="M414.7,326.0 L420.3,327.8 L423.9,320.5 L418.2,319.0Z" fill="#47b800"/><path d="M411.2,333.1 L416.8,335.1 L420.3,327.8 L414.7,326.0Z" fill="#40bf00"/><path d="M407.7,340.0 L413.3,342.4 L416.8,335.1 L411.2,333.1Z" fill="#39c600"/><path d="M404.2,346.4 L409.8,349.0 L413.3,342.4 L407.7,340.0Z" fill="#33cc00"/><path d="M400.7,354.1 L406.3,357.0 L409.8,349.0 L404.2,346.4Z" fill="#2cd300"/><path d="M397.2,359.9 L402.8,363.1 L406.3,357.0 L400.7,354.1Z" fill="#25da00"/><path d="M393.7,365.2 L399.3,368.5 L402.8,363.1 L397.2,359.9Z" fill="#20df00"/><path d="M390.2,370.1 L395.8,373.6 L399.3,368.5 L393.7,365.2Z" fill="#1ce300"/><path d="M386.6,373.8 L392.3,377.4 L395.8,373.6 L390.2,370.1Z" fill="#18e700"/><path d="M383.1,377.0 L388.7,380.7 L392.3,377.4 L386.6,373.8Z" fill="#16e900"/><path d="M379.6,380.1 L385.2,383.7 L388.7,380.7 L383.1,377.0Z" fill="#14eb00"/><path d="M376.1,382.9 L381.7,386.5 L385.2,383.7 L379.6,380.1Z" fill="#13ec00"/><path d="M372.6,385.4 L378.2,389.1 L381.7,386.5 L376.1,382.9Z" fill="#11ee00"/><path d="M369.1,388.0 L374.7,391.6 L378.2,389.1 L372.6,385.4Z" fill="#10ef00"/><path d="M365.6,390.5 L371.2,394.0 L374.7,391.6 L369.1,388.0Z" fill="#0ff000"/><path d="M362.1,393.0 L367.7,396.5 L371.2,394.0 L365.6,390.5Z" fill="#0ef100"/><path d="M358.6,395.6 L364.2,399.0 L367.7,396.5 L362.1,393.0Z" fill="#0df200"/><path d="M355.0,398.2 L360.7,401.5 L364.2,399.0 L358.6,395.6Z" fill="#0cf300"/><path d="M351.5,400.7 L357.2,403.9 L360.7,401.5 L355.0,398.2Z" fill="#0bf400"/><path d="M348.0,403.2 L353.6,406.2 L357.2,403.9 L351.5,400.7Z" fill="#0af500"/><path d="M344.5,405.6 L350.1,408.6 L353.6,406.2 L348.0,403.2Z" fill="#09f600"/><path d="M480.0,236.9 L485.6,237.4 L489.1,233.6 L483.5,233.2Z" fill="#936c00"/><path d="M476.5,241.2 L482.1,241.7 L485.6,237.4 L480.0,236.9Z" fill="#906f00"/><path d="M473.0,245.3 L478.6,245.8 L482.1,241.7 L476.5,241.2Z" fill="#8d7200"/><path d="M469.5,249.4 L475.1,249.9 L478.6,245.8 L473.0,245.3Z" fill="#8a7500"/><path d="M466.0,253.4 L471.6,253.9 L475.1,249.9 L469.5,249.4Z" fill="#877800"/><path d="M462.5,257.6 L468.1,258.1 L471.6,253.9 L466.0,253.4Z" fill="#837c00"/><path d="M459.0,262.1 L464.6,262.5 L468.1,258.1 L462.5,257.6Z" fill="#807f00"/><path d="M455.4,266.6 L461.1,267.0 L464.6,262.5 L459.0,262.1Z" fill="#7d8200"/><path d="M451.9,271.1 L457.5,271.5 L461.1,267.0 L455.4,266.6Z" fill="#798600"/><path d="M448.4,276.1 L454.0,276.5 L457.5,271.5 L451.9,271.1Z" fill="#758a00"/><path d="M444.9,281.8 L450.5,282.2 L454.0,276.5 L448.4,276.1Z" fill="#718e00"/><path d="M441.4,286.9 L447.0,287.4 L450.5,282.2 L444.9,281.8Z" fill="#6c9300"/><path d="M437.9,293.4 L443.5,294.0 L447.0,287.4 L441.4,286.9Z" fill="#679800"/><path d="M434.4,300.7 L440.0,301.4 L443.5,294.0 L437.9,293.4Z" fill="#609f00"/><path d="M430.9,307.2 L436.5,308.1 L440.0,301.4 L434.4,300.7Z" fill="#59a600"/><path d="M427.4,313.5 L433.0,314.7 L436.5,308.1 L430.9,307.2Z" fill="#53ac00"/><path d="M423.9,320.5 L429.5,321.9 L433.0,314.7 L427.4,313.5Z" fill="#4db200"/><path d="M420.3,327.8 L426.0,329.6 L429.5,321.9 L423.9,320.5Z" fill="#46b900"/><path d="M416.8,335.1 L422.4,337.1 L426.0,329.6 L420.3,327.8Z" fill="#3fc000"/><path d="M413.3,342.4 L418.9,344.7 L422.4,337.1 L416.8,335.1Z" fill="#37c800"/><path d="M409.8,349.0 L415.4,351.6 L418.9,344.7 L413.3,342.4Z" fill="#31ce00"/><path d="M406.3,357.0 L411.9,359.9 L415.4,351.6 L409.8,349.0Z" fill="#29d600"/><path d="M402.8,363.1 L408.4,366.2 L411.9,359.9 L406.3,357.0Z" fill="#23dc00"/><path d="M399.3,368.5 L404.9,371.8 L408.4,366.2 L402.8,363.1Z" fill="#1de200"/><path d="M395.8,373.6 L401.4,377.0 L404.9,371.8 L399.3,368.5Z" fill="#19e600"/><path d="M392.3,377.4 L397.9,380.8 L401.4,377.0 L395.8,373.6Z" fill="#15ea00"/><path d="M388.7,380.7 L394.4,384.1 L397.9,380.8 L392.3,377.4Z" fill="#13ec00"/><path d="M385.2,383.7 L390.9,387.2 L394.4,384.1 L388.7,380.7Z" fill="#11ee00"/><path d="M381.7,386.5 L387.3,390.0 L390.9,387.2 L385.2,383.7Z" fill="#0ff000"/><path d="M378.2,389.1 L383.8,392.5 L387.3,390.0 L381.7,386.5Z" fill="#0ef100"/><path d="M374.7,391.6 L380.3,395.0 L383.8,392.5 L378.2,389.1Z" fill="#0df200"/><path d="M371.2,394.0 L376.8,397.3 L380.3,395.0 L374.7,391.6Z" fill="#0cf300"/><path d="M367.7,396.5 L373.3,399.8 L376.8,397.3 L371.2,394.0Z" fill="#0bf400"/><path d="M364.2,399.0 L369.8,402.2 L373.3,399.8 L367.7,396.5Z" fill="#0af500"/><path d="M360.7,401.5 L366.3,404.6 L369.8,402.2 L364.2,399.0Z" fill="#09f600"/><path d="M357.2,403.9 L362.8,406.9 L366.3,404.6 L360.7,401.5Z" fill="#08f700"/><path d="M353.6,406.2 L359.3,409.2 L362.8,406.9 L357.2,403.9Z" fill="#08f700"/><path d="M350.1,408.6 L355.7,411.4 L359.3,409.2 L353.6,406.2Z" fill="#07f800"/></g>
<path d="M60.2,170.8 L341.0,219.8 M341.0,219.8 L509.5,138.9 M341.0,422.8 L341.0,219.8" stroke="#333" stroke-width="0.85" fill="none"/>
<path d="M60.2,373.8 L60.2,170.8" stroke="#222" stroke-width="1.3" fill="none"/>
<path d="M341.0,422.8 L509.5,341.9" stroke="#444" stroke-width="1" fill="none"/>
<path d="M60.2,373.8 L54.8,372.8 M60.2,323.0 L54.8,322.1 M60.2,272.3 L54.8,271.3 M60.2,221.5 L54.8,220.6 M60.2,170.8 L54.8,169.8 M60.2,348.4 L57.7,348.0 M60.2,297.6 L57.7,297.2 M60.2,246.9 L57.7,246.5 M60.2,196.2 L57.7,195.7 M60.2,373.8 L60.2,379.2 M116.4,383.6 L116.4,389.1 M172.5,393.4 L172.5,398.9 M228.7,403.1 L228.7,408.6 M284.8,412.9 L284.8,418.4 M341.0,422.8 L341.0,428.2 M88.3,378.6 L88.3,381.6 M144.4,388.4 L144.4,391.4 M200.6,398.2 L200.6,401.2 M256.8,408.1 L256.8,411.1 M312.9,417.9 L312.9,420.9 M341.0,422.8 L346.4,423.7 M369.1,409.3 L374.5,410.2 M397.2,395.8 L402.6,396.7 M425.2,382.3 L430.7,383.2 M453.3,368.8 L458.8,369.8 M481.4,355.3 L486.8,356.3 M509.5,341.9 L514.9,342.8 M355.0,416.0 L357.5,416.4 M383.1,402.5 L385.6,403.0 M411.2,389.0 L413.7,389.5 M439.3,375.6 L441.8,376.0 M467.4,362.1 L469.8,362.5 M495.5,348.6 L497.9,349.0" stroke="#333" stroke-width="0.9" fill="none"/>
<path d="M60.2,373.8 L341.0,422.8" stroke="#222" stroke-width="1.4" stroke-dasharray="1.6,1.1" fill="none"/>
<g font-family="Liberation Sans, Arial, sans-serif" font-size="13.4" fill="#333"><text x="50.5" y="326.6" text-anchor="end">2</text><text x="50.5" y="275.9" text-anchor="end">3</text><text x="50.5" y="225.1" text-anchor="end">4</text><text x="50.5" y="174.4" text-anchor="end">5</text><text x="60.2" y="397.4" text-anchor="middle">3300</text><text x="116.4" y="407.2" text-anchor="middle">3080</text><text x="172.5" y="417.1" text-anchor="middle">2860</text><text x="228.7" y="426.8" text-anchor="middle">2640</text><text x="284.8" y="436.6" text-anchor="middle">2420</text><text x="341.0" y="446.4" text-anchor="middle">2200</text><text x="354.8" y="430.4">100</text><text x="382.9" y="416.9">200</text><text x="411.0" y="403.4">300</text><text x="439.1" y="389.9">400</text><text x="467.1" y="376.4">500</text><text x="495.2" y="362.9">600</text><text x="523.3" y="349.5">700</text></g>
<g font-family="Liberation Serif, Times New Roman, serif" fill="#1a1a1a" stroke="#1a1a1a" stroke-width="0.25" font-size="17.8">
<text x="163.6" y="20" word-spacing="2.5" textLength="213.7" lengthAdjust="spacing">The smoke emissions [FSN]</text>
<text x="181.8" y="51.7" word-spacing="2.5" textLength="176.4" lengthAdjust="spacing">Combustion chamber 3</text>
<text transform="translate(22.4,373.3) rotate(-90)" textLength="187" lengthAdjust="spacing">Smoke emissions [FSN]</text>
<text transform="translate(79.5,435.5) rotate(9.9)" textLength="175.4" lengthAdjust="spacing">Rotational speed [rpm]</text>
<text transform="translate(437.7,428.8) rotate(-25.8)" textLength="100.5" lengthAdjust="spacing">Torque [Nm]</text>
</g>
</svg>
</body></html>
